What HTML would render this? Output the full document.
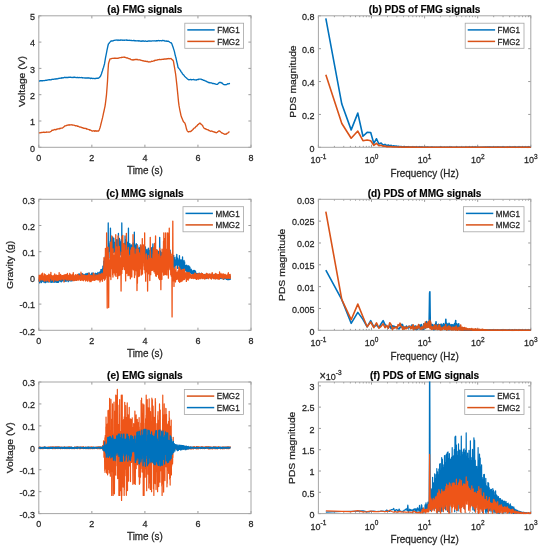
<!DOCTYPE html><html><head><meta charset="utf-8"><style>html,body{margin:0;padding:0;background:#fff;}svg{display:block;font-family:"Liberation Sans", sans-serif;will-change:transform;} text{stroke:#262626;stroke-width:0.25px;} text[font-weight="bold"]{stroke-width:0.2px;}</style></head><body>
<svg width="543" height="550" viewBox="0 0 543 550">
<rect width="543" height="550" fill="#fff"/>
<defs>
<clipPath id="clipa"><rect x="38.3" y="15.3" width="213.2" height="133"/></clipPath>
<clipPath id="clipb"><rect x="317.9" y="15.3" width="213.4" height="133"/></clipPath>
<clipPath id="clipc"><rect x="38.3" y="198.8" width="213.2" height="132.5"/></clipPath>
<clipPath id="clipd"><rect x="317.9" y="198.8" width="213.4" height="132.5"/></clipPath>
<clipPath id="clipe"><rect x="38.3" y="381.5" width="213.2" height="133.1"/></clipPath>
<clipPath id="clipf"><rect x="317.9" y="381.5" width="213.4" height="133.1"/></clipPath>
</defs>
<path d="M38.8 147.3L38.8 144.7M38.8 15.8L38.8 18.4M91.85 147.3L91.85 144.7M91.85 15.8L91.85 18.4M144.9 147.3L144.9 144.7M144.9 15.8L144.9 18.4M197.95 147.3L197.95 144.7M197.95 15.8L197.95 18.4M251 147.3L251 144.7M251 15.8L251 18.4M38.8 147.3L41.4 147.3M251 147.3L248.4 147.3M38.8 121L41.4 121M251 121L248.4 121M38.8 94.7L41.4 94.7M251 94.7L248.4 94.7M38.8 68.4L41.4 68.4M251 68.4L248.4 68.4M38.8 42.1L41.4 42.1M251 42.1L248.4 42.1M38.8 15.8L41.4 15.8M251 15.8L248.4 15.8" stroke="#909090" stroke-width="0.9" fill="none"/>
<rect x="38.8" y="15.8" width="212.2" height="131.5" fill="none" stroke="#a6a6a6" stroke-width="1"/>
<text transform="translate(38.8,160.7) scale(1,1.1)" font-size="9" text-anchor="middle" font-weight="normal" fill="#262626">0</text>
<text transform="translate(91.85,160.7) scale(1,1.1)" font-size="9" text-anchor="middle" font-weight="normal" fill="#262626">2</text>
<text transform="translate(144.9,160.7) scale(1,1.1)" font-size="9" text-anchor="middle" font-weight="normal" fill="#262626">4</text>
<text transform="translate(197.95,160.7) scale(1,1.1)" font-size="9" text-anchor="middle" font-weight="normal" fill="#262626">6</text>
<text transform="translate(251,160.7) scale(1,1.1)" font-size="9" text-anchor="middle" font-weight="normal" fill="#262626">8</text>
<text transform="translate(34.9,151.6) scale(1,1.1)" font-size="9" text-anchor="end" font-weight="normal" fill="#262626">0</text>
<text transform="translate(34.9,125.3) scale(1,1.1)" font-size="9" text-anchor="end" font-weight="normal" fill="#262626">1</text>
<text transform="translate(34.9,99) scale(1,1.1)" font-size="9" text-anchor="end" font-weight="normal" fill="#262626">2</text>
<text transform="translate(34.9,72.7) scale(1,1.1)" font-size="9" text-anchor="end" font-weight="normal" fill="#262626">3</text>
<text transform="translate(34.9,46.4) scale(1,1.1)" font-size="9" text-anchor="end" font-weight="normal" fill="#262626">4</text>
<text transform="translate(34.9,20.1) scale(1,1.1)" font-size="9" text-anchor="end" font-weight="normal" fill="#262626">5</text>
<text transform="translate(144.9,174.1) scale(1,1.06)" font-size="9.9" text-anchor="middle" font-weight="normal" fill="#262626">Time (s)</text>
<text transform="translate(24.6,81.55) scale(1,1.045) rotate(-90)" font-size="9.9" text-anchor="middle" fill="#262626">Voltage (V)</text>
<text transform="translate(144.9,13.2) scale(1,1.06)" font-size="10.1" text-anchor="middle" font-weight="bold" fill="#000">(a) FMG signals</text>
<path d="M318.4 147.3L318.4 144.7M318.4 15.8L318.4 18.4M371.5 147.3L371.5 144.7M371.5 15.8L371.5 18.4M424.6 147.3L424.6 144.7M424.6 15.8L424.6 18.4M477.7 147.3L477.7 144.7M477.7 15.8L477.7 18.4M530.8 147.3L530.8 144.7M530.8 15.8L530.8 18.4M318.4 147.3L321 147.3M530.8 147.3L528.2 147.3M318.4 114.43L321 114.43M530.8 114.43L528.2 114.43M318.4 81.55L321 81.55M530.8 81.55L528.2 81.55M318.4 48.68L321 48.68M530.8 48.68L528.2 48.68M318.4 15.8L321 15.8M530.8 15.8L528.2 15.8M334.38 147.3L334.38 145.9M334.38 15.8L334.38 17.2M343.74 147.3L343.74 145.9M343.74 15.8L343.74 17.2M350.37 147.3L350.37 145.9M350.37 15.8L350.37 17.2M355.52 147.3L355.52 145.9M355.52 15.8L355.52 17.2M359.72 147.3L359.72 145.9M359.72 15.8L359.72 17.2M363.27 147.3L363.27 145.9M363.27 15.8L363.27 17.2M366.35 147.3L366.35 145.9M366.35 15.8L366.35 17.2M369.07 147.3L369.07 145.9M369.07 15.8L369.07 17.2M387.48 147.3L387.48 145.9M387.48 15.8L387.48 17.2M396.84 147.3L396.84 145.9M396.84 15.8L396.84 17.2M403.47 147.3L403.47 145.9M403.47 15.8L403.47 17.2M408.62 147.3L408.62 145.9M408.62 15.8L408.62 17.2M412.82 147.3L412.82 145.9M412.82 15.8L412.82 17.2M416.37 147.3L416.37 145.9M416.37 15.8L416.37 17.2M419.45 147.3L419.45 145.9M419.45 15.8L419.45 17.2M422.17 147.3L422.17 145.9M422.17 15.8L422.17 17.2M440.58 147.3L440.58 145.9M440.58 15.8L440.58 17.2M449.94 147.3L449.94 145.9M449.94 15.8L449.94 17.2M456.57 147.3L456.57 145.9M456.57 15.8L456.57 17.2M461.72 147.3L461.72 145.9M461.72 15.8L461.72 17.2M465.92 147.3L465.92 145.9M465.92 15.8L465.92 17.2M469.47 147.3L469.47 145.9M469.47 15.8L469.47 17.2M472.55 147.3L472.55 145.9M472.55 15.8L472.55 17.2M475.27 147.3L475.27 145.9M475.27 15.8L475.27 17.2M493.68 147.3L493.68 145.9M493.68 15.8L493.68 17.2M503.04 147.3L503.04 145.9M503.04 15.8L503.04 17.2M509.67 147.3L509.67 145.9M509.67 15.8L509.67 17.2M514.82 147.3L514.82 145.9M514.82 15.8L514.82 17.2M519.02 147.3L519.02 145.9M519.02 15.8L519.02 17.2M522.57 147.3L522.57 145.9M522.57 15.8L522.57 17.2M525.65 147.3L525.65 145.9M525.65 15.8L525.65 17.2M528.37 147.3L528.37 145.9M528.37 15.8L528.37 17.2" stroke="#909090" stroke-width="0.9" fill="none"/>
<rect x="318.4" y="15.8" width="212.4" height="131.5" fill="none" stroke="#a6a6a6" stroke-width="1"/>
<text transform="translate(318.4,163.2) scale(1,1.1)" font-size="9" text-anchor="middle" fill="#262626">10<tspan font-size="6.5" dy="-4.1">-1</tspan></text>
<text transform="translate(371.5,163.2) scale(1,1.1)" font-size="9" text-anchor="middle" fill="#262626">10<tspan font-size="6.5" dy="-4.1">0</tspan></text>
<text transform="translate(424.6,163.2) scale(1,1.1)" font-size="9" text-anchor="middle" fill="#262626">10<tspan font-size="6.5" dy="-4.1">1</tspan></text>
<text transform="translate(477.7,163.2) scale(1,1.1)" font-size="9" text-anchor="middle" fill="#262626">10<tspan font-size="6.5" dy="-4.1">2</tspan></text>
<text transform="translate(530.8,163.2) scale(1,1.1)" font-size="9" text-anchor="middle" fill="#262626">10<tspan font-size="6.5" dy="-4.1">3</tspan></text>
<text transform="translate(314.5,151.6) scale(1,1.1)" font-size="9" text-anchor="end" font-weight="normal" fill="#262626">0</text>
<text transform="translate(314.5,118.73) scale(1,1.1)" font-size="9" text-anchor="end" font-weight="normal" fill="#262626">0.2</text>
<text transform="translate(314.5,85.85) scale(1,1.1)" font-size="9" text-anchor="end" font-weight="normal" fill="#262626">0.4</text>
<text transform="translate(314.5,52.98) scale(1,1.1)" font-size="9" text-anchor="end" font-weight="normal" fill="#262626">0.6</text>
<text transform="translate(314.5,20.1) scale(1,1.1)" font-size="9" text-anchor="end" font-weight="normal" fill="#262626">0.8</text>
<text transform="translate(424.6,176.8) scale(1,1.06)" font-size="9.9" text-anchor="middle" font-weight="normal" fill="#262626">Frequency (Hz)</text>
<text transform="translate(295.5,81.55) scale(1,1.045) rotate(-90)" font-size="9.9" text-anchor="middle" fill="#262626">PDS magnitude</text>
<text transform="translate(424.6,13.2) scale(1,1.06)" font-size="10.1" text-anchor="middle" font-weight="bold" fill="#000">(b) PDS of FMG signals</text>
<path d="M38.8 330.3L38.8 327.7M38.8 199.3L38.8 201.9M91.85 330.3L91.85 327.7M91.85 199.3L91.85 201.9M144.9 330.3L144.9 327.7M144.9 199.3L144.9 201.9M197.95 330.3L197.95 327.7M197.95 199.3L197.95 201.9M251 330.3L251 327.7M251 199.3L251 201.9M38.8 330.3L41.4 330.3M251 330.3L248.4 330.3M38.8 304.1L41.4 304.1M251 304.1L248.4 304.1M38.8 277.9L41.4 277.9M251 277.9L248.4 277.9M38.8 251.7L41.4 251.7M251 251.7L248.4 251.7M38.8 225.5L41.4 225.5M251 225.5L248.4 225.5M38.8 199.3L41.4 199.3M251 199.3L248.4 199.3" stroke="#909090" stroke-width="0.9" fill="none"/>
<rect x="38.8" y="199.3" width="212.2" height="131" fill="none" stroke="#a6a6a6" stroke-width="1"/>
<text transform="translate(38.8,343.7) scale(1,1.1)" font-size="9" text-anchor="middle" font-weight="normal" fill="#262626">0</text>
<text transform="translate(91.85,343.7) scale(1,1.1)" font-size="9" text-anchor="middle" font-weight="normal" fill="#262626">2</text>
<text transform="translate(144.9,343.7) scale(1,1.1)" font-size="9" text-anchor="middle" font-weight="normal" fill="#262626">4</text>
<text transform="translate(197.95,343.7) scale(1,1.1)" font-size="9" text-anchor="middle" font-weight="normal" fill="#262626">6</text>
<text transform="translate(251,343.7) scale(1,1.1)" font-size="9" text-anchor="middle" font-weight="normal" fill="#262626">8</text>
<text transform="translate(34.9,334.6) scale(1,1.1)" font-size="9" text-anchor="end" font-weight="normal" fill="#262626">-0.2</text>
<text transform="translate(34.9,308.4) scale(1,1.1)" font-size="9" text-anchor="end" font-weight="normal" fill="#262626">-0.1</text>
<text transform="translate(34.9,282.2) scale(1,1.1)" font-size="9" text-anchor="end" font-weight="normal" fill="#262626">0</text>
<text transform="translate(34.9,256) scale(1,1.1)" font-size="9" text-anchor="end" font-weight="normal" fill="#262626">0.1</text>
<text transform="translate(34.9,229.8) scale(1,1.1)" font-size="9" text-anchor="end" font-weight="normal" fill="#262626">0.2</text>
<text transform="translate(34.9,203.6) scale(1,1.1)" font-size="9" text-anchor="end" font-weight="normal" fill="#262626">0.3</text>
<text transform="translate(144.9,357.1) scale(1,1.06)" font-size="9.9" text-anchor="middle" font-weight="normal" fill="#262626">Time (s)</text>
<text transform="translate(13.4,264.8) scale(1,1.045) rotate(-90)" font-size="9.9" text-anchor="middle" fill="#262626">Gravity (g)</text>
<text transform="translate(144.9,196.7) scale(1,1.06)" font-size="10.1" text-anchor="middle" font-weight="bold" fill="#000">(c) MMG signals</text>
<path d="M38.8 513.6L38.8 511M38.8 382L38.8 384.6M91.85 513.6L91.85 511M91.85 382L91.85 384.6M144.9 513.6L144.9 511M144.9 382L144.9 384.6M197.95 513.6L197.95 511M197.95 382L197.95 384.6M251 513.6L251 511M251 382L251 384.6M38.8 513.6L41.4 513.6M251 513.6L248.4 513.6M38.8 491.67L41.4 491.67M251 491.67L248.4 491.67M38.8 469.73L41.4 469.73M251 469.73L248.4 469.73M38.8 447.8L41.4 447.8M251 447.8L248.4 447.8M38.8 425.87L41.4 425.87M251 425.87L248.4 425.87M38.8 403.93L41.4 403.93M251 403.93L248.4 403.93M38.8 382L41.4 382M251 382L248.4 382" stroke="#909090" stroke-width="0.9" fill="none"/>
<rect x="38.8" y="382" width="212.2" height="131.6" fill="none" stroke="#a6a6a6" stroke-width="1"/>
<text transform="translate(38.8,527) scale(1,1.1)" font-size="9" text-anchor="middle" font-weight="normal" fill="#262626">0</text>
<text transform="translate(91.85,527) scale(1,1.1)" font-size="9" text-anchor="middle" font-weight="normal" fill="#262626">2</text>
<text transform="translate(144.9,527) scale(1,1.1)" font-size="9" text-anchor="middle" font-weight="normal" fill="#262626">4</text>
<text transform="translate(197.95,527) scale(1,1.1)" font-size="9" text-anchor="middle" font-weight="normal" fill="#262626">6</text>
<text transform="translate(251,527) scale(1,1.1)" font-size="9" text-anchor="middle" font-weight="normal" fill="#262626">8</text>
<text transform="translate(34.9,517.9) scale(1,1.1)" font-size="9" text-anchor="end" font-weight="normal" fill="#262626">-0.3</text>
<text transform="translate(34.9,495.97) scale(1,1.1)" font-size="9" text-anchor="end" font-weight="normal" fill="#262626">-0.2</text>
<text transform="translate(34.9,474.03) scale(1,1.1)" font-size="9" text-anchor="end" font-weight="normal" fill="#262626">-0.1</text>
<text transform="translate(34.9,452.1) scale(1,1.1)" font-size="9" text-anchor="end" font-weight="normal" fill="#262626">0</text>
<text transform="translate(34.9,430.17) scale(1,1.1)" font-size="9" text-anchor="end" font-weight="normal" fill="#262626">0.1</text>
<text transform="translate(34.9,408.23) scale(1,1.1)" font-size="9" text-anchor="end" font-weight="normal" fill="#262626">0.2</text>
<text transform="translate(34.9,386.3) scale(1,1.1)" font-size="9" text-anchor="end" font-weight="normal" fill="#262626">0.3</text>
<text transform="translate(144.9,540.4) scale(1,1.06)" font-size="9.9" text-anchor="middle" font-weight="normal" fill="#262626">Time (s)</text>
<text transform="translate(13,447.8) scale(1,1.045) rotate(-90)" font-size="9.9" text-anchor="middle" fill="#262626">Voltage (V)</text>
<text transform="translate(144.9,379.4) scale(1,1.06)" font-size="10.1" text-anchor="middle" font-weight="bold" fill="#000">(e) EMG signals</text>
<path d="M318.4 330.3L318.4 327.7M318.4 199.3L318.4 201.9M371.5 330.3L371.5 327.7M371.5 199.3L371.5 201.9M424.6 330.3L424.6 327.7M424.6 199.3L424.6 201.9M477.7 330.3L477.7 327.7M477.7 199.3L477.7 201.9M530.8 330.3L530.8 327.7M530.8 199.3L530.8 201.9M318.4 330.3L321 330.3M530.8 330.3L528.2 330.3M318.4 308.47L321 308.47M530.8 308.47L528.2 308.47M318.4 286.63L321 286.63M530.8 286.63L528.2 286.63M318.4 264.8L321 264.8M530.8 264.8L528.2 264.8M318.4 242.97L321 242.97M530.8 242.97L528.2 242.97M318.4 221.13L321 221.13M530.8 221.13L528.2 221.13M318.4 199.3L321 199.3M530.8 199.3L528.2 199.3M334.38 330.3L334.38 328.9M334.38 199.3L334.38 200.7M343.74 330.3L343.74 328.9M343.74 199.3L343.74 200.7M350.37 330.3L350.37 328.9M350.37 199.3L350.37 200.7M355.52 330.3L355.52 328.9M355.52 199.3L355.52 200.7M359.72 330.3L359.72 328.9M359.72 199.3L359.72 200.7M363.27 330.3L363.27 328.9M363.27 199.3L363.27 200.7M366.35 330.3L366.35 328.9M366.35 199.3L366.35 200.7M369.07 330.3L369.07 328.9M369.07 199.3L369.07 200.7M387.48 330.3L387.48 328.9M387.48 199.3L387.48 200.7M396.84 330.3L396.84 328.9M396.84 199.3L396.84 200.7M403.47 330.3L403.47 328.9M403.47 199.3L403.47 200.7M408.62 330.3L408.62 328.9M408.62 199.3L408.62 200.7M412.82 330.3L412.82 328.9M412.82 199.3L412.82 200.7M416.37 330.3L416.37 328.9M416.37 199.3L416.37 200.7M419.45 330.3L419.45 328.9M419.45 199.3L419.45 200.7M422.17 330.3L422.17 328.9M422.17 199.3L422.17 200.7M440.58 330.3L440.58 328.9M440.58 199.3L440.58 200.7M449.94 330.3L449.94 328.9M449.94 199.3L449.94 200.7M456.57 330.3L456.57 328.9M456.57 199.3L456.57 200.7M461.72 330.3L461.72 328.9M461.72 199.3L461.72 200.7M465.92 330.3L465.92 328.9M465.92 199.3L465.92 200.7M469.47 330.3L469.47 328.9M469.47 199.3L469.47 200.7M472.55 330.3L472.55 328.9M472.55 199.3L472.55 200.7M475.27 330.3L475.27 328.9M475.27 199.3L475.27 200.7M493.68 330.3L493.68 328.9M493.68 199.3L493.68 200.7M503.04 330.3L503.04 328.9M503.04 199.3L503.04 200.7M509.67 330.3L509.67 328.9M509.67 199.3L509.67 200.7M514.82 330.3L514.82 328.9M514.82 199.3L514.82 200.7M519.02 330.3L519.02 328.9M519.02 199.3L519.02 200.7M522.57 330.3L522.57 328.9M522.57 199.3L522.57 200.7M525.65 330.3L525.65 328.9M525.65 199.3L525.65 200.7M528.37 330.3L528.37 328.9M528.37 199.3L528.37 200.7" stroke="#909090" stroke-width="0.9" fill="none"/>
<rect x="318.4" y="199.3" width="212.4" height="131" fill="none" stroke="#a6a6a6" stroke-width="1"/>
<text transform="translate(318.4,346.2) scale(1,1.1)" font-size="9" text-anchor="middle" fill="#262626">10<tspan font-size="6.5" dy="-4.1">-1</tspan></text>
<text transform="translate(371.5,346.2) scale(1,1.1)" font-size="9" text-anchor="middle" fill="#262626">10<tspan font-size="6.5" dy="-4.1">0</tspan></text>
<text transform="translate(424.6,346.2) scale(1,1.1)" font-size="9" text-anchor="middle" fill="#262626">10<tspan font-size="6.5" dy="-4.1">1</tspan></text>
<text transform="translate(477.7,346.2) scale(1,1.1)" font-size="9" text-anchor="middle" fill="#262626">10<tspan font-size="6.5" dy="-4.1">2</tspan></text>
<text transform="translate(530.8,346.2) scale(1,1.1)" font-size="9" text-anchor="middle" fill="#262626">10<tspan font-size="6.5" dy="-4.1">3</tspan></text>
<text transform="translate(314.5,334.6) scale(1,1.1)" font-size="9" text-anchor="end" font-weight="normal" fill="#262626">0</text>
<text transform="translate(314.5,312.77) scale(1,1.1)" font-size="9" text-anchor="end" font-weight="normal" fill="#262626">0.005</text>
<text transform="translate(314.5,290.93) scale(1,1.1)" font-size="9" text-anchor="end" font-weight="normal" fill="#262626">0.01</text>
<text transform="translate(314.5,269.1) scale(1,1.1)" font-size="9" text-anchor="end" font-weight="normal" fill="#262626">0.015</text>
<text transform="translate(314.5,247.27) scale(1,1.1)" font-size="9" text-anchor="end" font-weight="normal" fill="#262626">0.02</text>
<text transform="translate(314.5,225.43) scale(1,1.1)" font-size="9" text-anchor="end" font-weight="normal" fill="#262626">0.025</text>
<text transform="translate(314.5,203.6) scale(1,1.1)" font-size="9" text-anchor="end" font-weight="normal" fill="#262626">0.03</text>
<text transform="translate(424.6,359.8) scale(1,1.06)" font-size="9.9" text-anchor="middle" font-weight="normal" fill="#262626">Frequency (Hz)</text>
<text transform="translate(285.4,264.8) scale(1,1.045) rotate(-90)" font-size="9.9" text-anchor="middle" fill="#262626">PDS magnitude</text>
<text transform="translate(424.6,196.7) scale(1,1.06)" font-size="10.1" text-anchor="middle" font-weight="bold" fill="#000">(d) PDS of MMG signals</text>
<path d="M318.4 513.6L318.4 511M318.4 382L318.4 384.6M371.5 513.6L371.5 511M371.5 382L371.5 384.6M424.6 513.6L424.6 511M424.6 382L424.6 384.6M477.7 513.6L477.7 511M477.7 382L477.7 384.6M530.8 513.6L530.8 511M530.8 382L530.8 384.6M318.4 513.6L321 513.6M530.8 513.6L528.2 513.6M318.4 492.31L321 492.31M530.8 492.31L528.2 492.31M318.4 471.01L321 471.01M530.8 471.01L528.2 471.01M318.4 449.72L321 449.72M530.8 449.72L528.2 449.72M318.4 428.42L321 428.42M530.8 428.42L528.2 428.42M318.4 407.13L321 407.13M530.8 407.13L528.2 407.13M318.4 385.83L321 385.83M530.8 385.83L528.2 385.83M334.38 513.6L334.38 512.2M334.38 382L334.38 383.4M343.74 513.6L343.74 512.2M343.74 382L343.74 383.4M350.37 513.6L350.37 512.2M350.37 382L350.37 383.4M355.52 513.6L355.52 512.2M355.52 382L355.52 383.4M359.72 513.6L359.72 512.2M359.72 382L359.72 383.4M363.27 513.6L363.27 512.2M363.27 382L363.27 383.4M366.35 513.6L366.35 512.2M366.35 382L366.35 383.4M369.07 513.6L369.07 512.2M369.07 382L369.07 383.4M387.48 513.6L387.48 512.2M387.48 382L387.48 383.4M396.84 513.6L396.84 512.2M396.84 382L396.84 383.4M403.47 513.6L403.47 512.2M403.47 382L403.47 383.4M408.62 513.6L408.62 512.2M408.62 382L408.62 383.4M412.82 513.6L412.82 512.2M412.82 382L412.82 383.4M416.37 513.6L416.37 512.2M416.37 382L416.37 383.4M419.45 513.6L419.45 512.2M419.45 382L419.45 383.4M422.17 513.6L422.17 512.2M422.17 382L422.17 383.4M440.58 513.6L440.58 512.2M440.58 382L440.58 383.4M449.94 513.6L449.94 512.2M449.94 382L449.94 383.4M456.57 513.6L456.57 512.2M456.57 382L456.57 383.4M461.72 513.6L461.72 512.2M461.72 382L461.72 383.4M465.92 513.6L465.92 512.2M465.92 382L465.92 383.4M469.47 513.6L469.47 512.2M469.47 382L469.47 383.4M472.55 513.6L472.55 512.2M472.55 382L472.55 383.4M475.27 513.6L475.27 512.2M475.27 382L475.27 383.4M493.68 513.6L493.68 512.2M493.68 382L493.68 383.4M503.04 513.6L503.04 512.2M503.04 382L503.04 383.4M509.67 513.6L509.67 512.2M509.67 382L509.67 383.4M514.82 513.6L514.82 512.2M514.82 382L514.82 383.4M519.02 513.6L519.02 512.2M519.02 382L519.02 383.4M522.57 513.6L522.57 512.2M522.57 382L522.57 383.4M525.65 513.6L525.65 512.2M525.65 382L525.65 383.4M528.37 513.6L528.37 512.2M528.37 382L528.37 383.4" stroke="#909090" stroke-width="0.9" fill="none"/>
<rect x="318.4" y="382" width="212.4" height="131.6" fill="none" stroke="#a6a6a6" stroke-width="1"/>
<text transform="translate(318.4,529.5) scale(1,1.1)" font-size="9" text-anchor="middle" fill="#262626">10<tspan font-size="6.5" dy="-4.1">-1</tspan></text>
<text transform="translate(371.5,529.5) scale(1,1.1)" font-size="9" text-anchor="middle" fill="#262626">10<tspan font-size="6.5" dy="-4.1">0</tspan></text>
<text transform="translate(424.6,529.5) scale(1,1.1)" font-size="9" text-anchor="middle" fill="#262626">10<tspan font-size="6.5" dy="-4.1">1</tspan></text>
<text transform="translate(477.7,529.5) scale(1,1.1)" font-size="9" text-anchor="middle" fill="#262626">10<tspan font-size="6.5" dy="-4.1">2</tspan></text>
<text transform="translate(530.8,529.5) scale(1,1.1)" font-size="9" text-anchor="middle" fill="#262626">10<tspan font-size="6.5" dy="-4.1">3</tspan></text>
<text transform="translate(314.5,517.9) scale(1,1.1)" font-size="9" text-anchor="end" font-weight="normal" fill="#262626">0</text>
<text transform="translate(314.5,496.61) scale(1,1.1)" font-size="9" text-anchor="end" font-weight="normal" fill="#262626">0.5</text>
<text transform="translate(314.5,475.31) scale(1,1.1)" font-size="9" text-anchor="end" font-weight="normal" fill="#262626">1</text>
<text transform="translate(314.5,454.02) scale(1,1.1)" font-size="9" text-anchor="end" font-weight="normal" fill="#262626">1.5</text>
<text transform="translate(314.5,432.72) scale(1,1.1)" font-size="9" text-anchor="end" font-weight="normal" fill="#262626">2</text>
<text transform="translate(314.5,411.43) scale(1,1.1)" font-size="9" text-anchor="end" font-weight="normal" fill="#262626">2.5</text>
<text transform="translate(314.5,390.13) scale(1,1.1)" font-size="9" text-anchor="end" font-weight="normal" fill="#262626">3</text>
<text transform="translate(424.6,543.1) scale(1,1.06)" font-size="9.9" text-anchor="middle" font-weight="normal" fill="#262626">Frequency (Hz)</text>
<text transform="translate(295.1,447.8) scale(1,1.045) rotate(-90)" font-size="9.9" text-anchor="middle" fill="#262626">PDS magnitude</text>
<text transform="translate(424.6,379.4) scale(1,1.06)" font-size="10.1" text-anchor="middle" font-weight="bold" fill="#000">(f) PDS of EMG signals</text>
<text transform="translate(319.4,379.9) scale(1,1.1)" font-size="9" fill="#262626"><tspan font-size="11">&#215;</tspan>10<tspan font-size="6.5" dy="-4.1">-3</tspan></text>
<polyline points="39,81 39.5,81 40,80.88 40.5,80.75 41,80.77 41.5,80.65 42,80.77 42.5,80.92 43,80.61 43.5,80.55 44,80.67 44.5,80.6 45,80.5 45.5,80.29 46,80.36 46.5,80.41 47,80.05 47.5,80.12 48,79.85 48.5,79.88 49,79.74 49.5,79.92 50,79.71 50.5,79.87 51,79.77 51.5,79.65 52,79.22 52.5,79.44 53,79.44 53.5,79.39 54,79.07 54.5,79.15 55,79 55.5,78.95 56,79.16 56.5,78.79 57,78.81 57.5,78.85 58,78.54 58.5,78.51 59,78.45 59.5,78.35 60,78.07 60.5,78.17 61,78.27 61.5,77.74 62,78 62.5,77.8 63,77.59 63.5,77.89 64,77.61 64.5,77.3 65,77.48 65.5,77.54 66,77.41 66.5,77.52 67,77.39 67.5,77.48 68,77.58 68.5,77.25 69,77.36 69.5,77.25 70,77.32 70.5,77.14 71,77.24 71.5,77.32 72,77.49 72.5,77.55 73,77.19 73.5,77.29 74,77.52 74.5,77.14 75,77.38 75.5,77.45 76,77.67 76.5,77.6 77,77.46 77.5,77.47 78,77.5 78.5,77.78 79,77.51 79.5,77.54 80,77.65 80.5,77.61 81,77.63 81.5,77.52 82,77.72 82.5,77.68 83,77.95 83.5,77.91 84,77.84 84.5,77.97 85,77.85 85.5,78.09 86,77.96 86.5,78.08 87,77.83 87.5,78.1 88,77.83 88.5,77.8 89,78.09 89.5,78.04 90,78.22 90.5,78.58 91,78.16 91.5,78.23 92,78.39 92.5,78.47 93,78.41 93.5,78.45 94,78.63 94.5,78.64 95,78.44 95.5,78.53 96,78.49 96.5,78.27 97,78.41 97.5,78.19 98,78.4 98.5,78.23 99,77.79 99.5,77.26 100,76.91 100.5,76.2 101,74.93 101.5,73.75 102,71.98 102.5,70.78 103,68.75 103.5,67.48 104,65.59 104.5,63.94 105,60.98 105.5,57.86 106,55.41 106.5,52.78 107,50.2 107.5,47.82 108,45.49 108.5,43.72 109,43.45 109.5,42.62 110,42.11 110.5,41.41 111,41.14 111.5,40.92 112,41.18 112.5,40.86 113,40.91 113.5,40.65 114,40.42 114.5,40.36 115,40.21 115.5,40.2 116,40.14 116.5,40.16 117,39.99 117.5,40.08 118,40.45 118.5,40.1 119,40.04 119.5,40.25 120,40.41 120.5,39.98 121,40.17 121.5,40.11 122,39.94 122.5,40.31 123,40.2 123.5,40.21 124,40.09 124.5,40.27 125,40.12 125.5,40.18 126,40.03 126.5,40.03 127,40.44 127.5,40.19 128,40.33 128.5,40.31 129,40.27 129.5,40.29 130,40.48 130.5,40.37 131,40.42 131.5,40.47 132,40.67 132.5,40.62 133,40.6 133.5,40.48 134,40.39 134.5,40.76 135,40.79 135.5,40.66 136,40.79 136.5,40.85 137,40.89 137.5,40.93 138,40.75 138.5,41.07 139,40.69 139.5,41.03 140,41 140.5,41.09 141,41.27 141.5,41.23 142,40.87 142.5,40.81 143,41.22 143.5,40.97 144,41.15 144.5,41.3 145,40.96 145.5,40.92 146,41.3 146.5,41.3 147,41.25 147.5,41.27 148,41.11 148.5,40.98 149,41.16 149.5,41.01 150,40.89 150.5,41.19 151,41.08 151.5,41.12 152,40.89 152.5,40.91 153,40.84 153.5,40.83 154,40.96 154.5,40.79 155,40.94 155.5,40.91 156,41.14 156.5,40.6 157,40.92 157.5,40.75 158,40.73 158.5,40.49 159,40.62 159.5,40.77 160,40.62 160.5,40.62 161,40.58 161.5,40.84 162,40.71 162.5,40.43 163,40.7 163.5,40.55 164,40.4 164.5,40.86 165,41.18 165.5,41.03 166,40.89 166.5,40.97 167,41.33 167.5,41.23 168,41.25 168.5,41.28 169,41.56 169.5,42 170,42.29 170.5,42.56 171,42.69 171.5,43.25 172,44.08 172.5,45.83 173,46.96 173.5,48.6 174,50.1 174.5,51.82 175,54.3 175.5,56.28 176,58.01 176.5,60.29 177,62.61 177.5,64.53 178,67.34 178.5,67.95 179,68.63 179.5,69.12 180,69.9 180.5,70.63 181,71.59 181.5,72.22 182,72.93 182.5,73.92 183,74.36 183.5,74.94 184,75.23 184.5,76.24 185,76.64 185.5,77.14 186,77.6 186.5,78.02 187,78.51 187.5,78.91 188,79.38 188.5,79.61 189,79.83 189.5,79.68 190,79.59 190.5,79.51 191,79.5 191.5,79.84 192,79.68 192.5,79.61 193,79.55 193.5,79.47 194,79.71 194.5,79.94 195,79.83 195.5,79.95 196,80.03 196.5,80.02 197,79.59 197.5,79.63 198,79.37 198.5,79.47 199,79.05 199.5,79.09 200,79.19 200.5,79.08 201,79.2 201.5,79.48 202,79.61 202.5,79.63 203,80.01 203.5,80.4 204,80.29 204.5,80.53 205,80.64 205.5,81.08 206,81.08 206.5,81.33 207,81.92 207.5,81.82 208,82.31 208.5,82.51 209,82.44 209.5,82.62 210,82.95 210.5,82.76 211,82.82 211.5,82.84 212,83.17 212.5,83.52 213,83.57 213.5,83.41 214,83.55 214.5,83.72 215,83.97 215.5,84.02 216,84.21 216.5,84.34 217,84.38 217.5,84.28 218,83.77 218.5,83.18 219,82.72 219.5,82.38 220,82.39 220.5,82.52 221,82.46 221.5,82.98 222,82.91 222.5,83.34 223,84.02 223.5,84.35 224,84.56 224.5,84.67 225,84.81 225.5,84.59 226,84.61 226.5,84.68 227,84.2 227.5,83.88 228,83.74 228.5,83.83 229,83.73 229.5,83.51 230,83.62" fill="none" stroke="#0072BD" stroke-width="1.35" stroke-linejoin="round" clip-path="url(#clipa)"/>
<polyline points="39,132.53 39.5,132.84 40,132.8 40.5,132.77 41,132.5 41.5,132.62 42,132.49 42.5,132.42 43,132.4 43.5,132.22 44,132.17 44.5,132.47 45,132.29 45.5,132.32 46,132.41 46.5,131.97 47,132.08 47.5,132.19 48,132.19 48.5,132.04 49,132.22 49.5,132.07 50,131.82 50.5,131.53 51,131.38 51.5,130.91 52,130.15 52.5,130.28 53,130.07 53.5,130.08 54,129.72 54.5,129.64 55,129.41 55.5,129.86 56,129.35 56.5,129.52 57,129.08 57.5,129.09 58,128.71 58.5,128.8 59,128.9 59.5,128.46 60,128.71 60.5,128.49 61,128.18 61.5,128.16 62,128.06 62.5,128.01 63,127.59 63.5,127.13 64,126.79 64.5,126.26 65,125.81 65.5,125.85 66,125.85 66.5,125.35 67,125.44 67.5,125.2 68,125.01 68.5,125.14 69,124.82 69.5,125.12 70,124.78 70.5,124.96 71,124.87 71.5,124.79 72,124.99 72.5,124.88 73,125.05 73.5,125.09 74,125.08 74.5,125.36 75,125.53 75.5,125.81 76,125.67 76.5,125.94 77,125.84 77.5,126.35 78,126.25 78.5,126.3 79,126.72 79.5,127.05 80,126.82 80.5,127.04 81,127.25 81.5,127.35 82,127.74 82.5,127.72 83,127.89 83.5,128.22 84,128.14 84.5,128.45 85,128.37 85.5,128.46 86,128.5 86.5,129.18 87,128.98 87.5,129.2 88,129.29 88.5,129.44 89,129.56 89.5,130.05 90,129.88 90.5,130.07 91,130.42 91.5,130.65 92,131.03 92.5,131.06 93,130.82 93.5,130.77 94,130.95 94.5,131.23 95,130.62 95.5,131.15 96,130.93 96.5,131.27 97,130.97 97.5,131.11 98,130.95 98.5,131.05 99,130.43 99.5,129.13 100,127.73 100.5,125.94 101,123.75 101.5,121.93 102,119.94 102.5,117.89 103,115.59 103.5,113.15 104,111.02 104.5,108.73 105,106.37 105.5,102.82 106,98.89 106.5,94.55 107,87.99 107.5,81.24 108,70.97 108.5,63.72 109,61.88 109.5,60.44 110,58.96 110.5,58.91 111,58.75 111.5,58.56 112,58.43 112.5,58.43 113,58.28 113.5,58.3 114,58.22 114.5,58.06 115,58.33 115.5,58.16 116,58.32 116.5,58.42 117,58.16 117.5,58.36 118,58.25 118.5,58.08 119,57.91 119.5,57.81 120,57.63 120.5,57.66 121,57.53 121.5,57.54 122,57.26 122.5,57.39 123,57.29 123.5,57.16 124,57.03 124.5,57.32 125,57.13 125.5,57.59 126,57.7 126.5,57.85 127,58 127.5,57.99 128,58.2 128.5,58.53 129,58.69 129.5,58.84 130,58.78 130.5,59.28 131,59.56 131.5,59.73 132,59.81 132.5,59.73 133,60.09 133.5,59.86 134,59.44 134.5,59.81 135,59.47 135.5,59.44 136,59.47 136.5,59.69 137,59.38 137.5,59.49 138,59.83 138.5,59.92 139,59.78 139.5,59.88 140,59.84 140.5,60.04 141,60.33 141.5,60.44 142,60.52 142.5,60.75 143,60.59 143.5,60.8 144,61.02 144.5,61.1 145,61.28 145.5,61.28 146,61.27 146.5,61.48 147,61.38 147.5,61.38 148,61.82 148.5,61.83 149,61.98 149.5,61.78 150,61.98 150.5,61.79 151,61.6 151.5,61.24 152,61.37 152.5,61.4 153,61.17 153.5,60.87 154,60.81 154.5,60.77 155,60.09 155.5,60.33 156,60.27 156.5,60.14 157,60.14 157.5,59.9 158,59.71 158.5,59.66 159,59.69 159.5,59.45 160,59.48 160.5,59.58 161,59.69 161.5,59.33 162,59.3 162.5,59.29 163,59.42 163.5,59.17 164,59.35 164.5,58.94 165,59.01 165.5,58.96 166,59.06 166.5,59.06 167,58.63 167.5,58.67 168,58.81 168.5,58.62 169,58.44 169.5,58.78 170,58.66 170.5,58.61 171,58.51 171.5,59.15 172,59.38 172.5,60 173,60.11 173.5,61.53 174,64.58 174.5,67.33 175,70.43 175.5,73.26 176,77.26 176.5,81.91 177,86.35 177.5,91.32 178,96.31 178.5,101.55 179,105.46 179.5,108.25 180,110.85 180.5,113.2 181,115.6 181.5,117.11 182,118.18 182.5,119.37 183,120.85 183.5,121.7 184,122.16 184.5,122.7 185,123.39 185.5,124.94 186,126.84 186.5,129.04 187,130.35 187.5,131.11 188,131.67 188.5,132 189,131.67 189.5,131.63 190,131.41 190.5,131.61 191,131.32 191.5,130.8 192,130.37 192.5,129.9 193,129.55 193.5,128.72 194,128.31 194.5,127.92 195,127.87 195.5,127.14 196,126.51 196.5,126.15 197,125.88 197.5,125.06 198,124.56 198.5,124.32 199,123.74 199.5,123.29 200,123 200.5,123.79 201,124.19 201.5,124.45 202,124.9 202.5,125.31 203,126.53 203.5,127.23 204,128.14 204.5,128.63 205,128.69 205.5,128.71 206,129.23 206.5,129.28 207,129.56 207.5,129.73 208,129.99 208.5,129.91 209,130.65 209.5,130.7 210,130.98 210.5,131.26 211,131.12 211.5,130.99 212,131.28 212.5,131.38 213,131.64 213.5,131.88 214,131.72 214.5,132.22 215,132.09 215.5,132.51 216,132.6 216.5,132.72 217,132.49 217.5,132.04 218,131.65 218.5,131.11 219,130.97 219.5,130.88 220,131.4 220.5,131.8 221,132.21 221.5,132.5 222,133.16 222.5,133.17 223,133.4 223.5,133.61 224,133.9 224.5,134.06 225,134.35 225.5,134.21 226,133.98 226.5,134.05 227,133.37 227.5,133.01 228,132.8 228.5,132.5 229,131.89 229.5,131.7" fill="none" stroke="#D95319" stroke-width="1.35" stroke-linejoin="round" clip-path="url(#clipa)"/>
<polyline points="325.83,18.43 341.81,104.07 351.16,129.88 357.8,113.11 362.94,136.29 367.15,132.34 370.7,132.51 373.78,143.36 376.5,138.75 378.93,144.01 381.13,143.03 383.13,145.33 384.98,144.34 386.69,145.66 388.28,145 389.77,145.99 391.16,145.33 392.48,146.31 393.73,145.82 394.91,146.48 396.04,145.99 397.11,146.64 398.14,146.31 399.12,146.81 400.06,146.48 400.96,146.81 401.83,146.64 402.67,146.97 403.48,146.69 404.26,146.61 405.02,146.76 405.75,147.15 406.46,146.71 407.15,146.83 407.82,147.03 408.47,146.85 409.1,146.91 409.71,146.94 410.31,146.99 410.9,146.93 411.47,147.12 412.02,147.05 412.56,147.1 413.09,146.98 413.61,147.06 414.12,147.1 414.62,147.16 415.1,147.11 415.58,147.09 416.04,147.12 416.5,146.97 416.95,147.01 417.39,147.3 417.82,147.29 418.24,147.14 418.66,147.16 419.06,147.11 419.47,147.12 419.86,146.97 420.25,147.23 420.63,147.17 421,146.99 421.37,147.1 421.74,147.11 422.09,147.19 422.45,147.28 422.79,147.15 423.13,147.16 423.47,147.25 423.8,147.21 424.13,147.18 424.45,147.23 424.77,147.18 425.08,147.17 425.39,147.18 425.7,147.21 426,147.15 426.3,147.13 426.59,147.17 426.88,147.23 427.17,147.15 427.45,147.22 427.73,147.14 428.01,147.25 428.28,147.14 428.55,147.19 428.82,147.26 429.08,147.21 429.34,147.19 429.6,147.18 429.85,147.25 430.1,147.25 430.35,147.19 431.09,147.16 431.33,147.28 431.8,147.14 432.03,147.22 432.26,147.24 432.48,147.17 432.93,147.16 433.37,147.28 433.8,147.23 434.01,147.17 434.23,147.2 434.43,147.28 434.85,147.17 435.25,147.24 435.45,147.21 435.84,147.19 436.04,147.18 436.42,147.22 436.8,147.17 436.99,147.3 437.36,147.21 437.54,147.28 437.9,147.24 438.08,147.18 438.25,147.22 438.6,147.17 438.78,147.2 439.12,147.28 439.29,147.15 439.62,147.25 439.95,147.23 440.11,147.19 440.91,147.26 441.07,147.2 441.22,147.16 441.53,147.3 441.83,147.12 442.13,147.27 442.43,147.26 442.87,147.2 443.15,147.21 443.44,147.26 443.85,147.22 443.99,147.27 444.13,147.27 444.26,147.17 444.67,147.21 444.8,147.24 445.32,147.27 445.45,147.2 445.71,147.27 446.09,147.17 446.46,147.3 446.71,147.19 446.95,147.25 447.19,147.2 447.43,147.16 447.66,147.25 448.36,147.29 448.47,147.2 448.69,147.27 448.92,147.18 449.36,147.13 449.57,147.27 449.89,147.28 450,147.22 450.21,147.19 450.42,147.3 451.03,147.27 451.13,147.16 451.24,147.16 451.73,147.27 451.83,147.16 451.93,147.26 452.5,147.23 452.6,147.27 453.16,147.2 453.43,147.25 453.61,147.27 453.71,147.21 454.24,147.3 454.33,147.22 454.59,147.2 454.76,147.27 455.1,147.29 455.19,147.17 455.94,147.26 456.02,147.21 456.58,147.21 456.66,147.29 456.9,147.28 457.13,147.2 457.44,147.3 457.52,147.13 457.89,147.29 458.04,147.2 458.41,147.22 458.63,147.28 459.21,147.26 459.35,147.17 459.7,147.26 459.91,147.18 460.25,147.18 460.38,147.26 460.72,147.29 460.79,147.19 461.18,147.27 461.5,147.19 461.95,147.18 462.01,147.3 462.26,147.28 462.45,147.21 462.69,147.2 462.81,147.29 463.18,147.27 463.65,147.19 463.94,147.16 464,147.29 464.23,147.27 464.57,147.18 464.73,147.26 464.9,147.19 465.34,147.29 465.77,147.17 466.04,147.19 466.14,147.3 466.35,147.27 466.4,147.2 467.02,147.25 467.27,147.18 467.62,147.27 467.81,147.19 468.11,147.16 468.35,147.26 468.49,147.17 468.82,147.25 469.23,147.28 469.33,147.21 469.73,147.15 469.96,147.26 470.31,147.3 470.49,147.16 470.53,147.28 470.96,147.18 471.38,147.29 471.47,147.16 471.67,147.3 472,147.17 472.49,147.19 472.53,147.27 472.64,147.28 472.72,147.19 473.35,147.17 473.5,147.3 473.77,147.2 473.95,147.3 474.4,147.29 474.51,147.17 474.8,147.16 474.84,147.28 475.41,147.14 475.58,147.3 475.96,147.2 476.06,147.29 476.47,147.2 476.5,147.3 476.74,147.17 476.87,147.3 477.29,147.18 477.49,147.3 477.9,147.3 478.12,147.17 478.34,147.27 478.49,147.18 479.04,147.29 479.25,147.19 479.43,147.19 479.57,147.28 479.87,147.18 480.15,147.3 480.64,147.18 480.72,147.29 480.86,147.3 481.05,147.18 481.7,147.19 481.76,147.29 482.13,147.3 482.36,147.18 482.41,147.11 482.7,147.28 483.15,147.16 483.35,147.3 483.55,147.29 483.7,147.18 484.04,147.17 484.38,147.29 484.64,147.3 484.8,147.17 485.15,147.28 485.29,147.16 485.54,147.16 485.7,147.3 486.08,147.3 486.23,147.15 486.49,147.17 486.69,147.3 487.14,147.29 487.2,147.17 487.64,147.17 487.8,147.29 488.03,147.26 488.13,147.17 489,147.16 489.02,147.29 489.1,147.3 489.5,147.15 489.56,147.3 489.62,147.17 490.42,147.16 490.51,147.29 490.77,147.3 490.91,147.17 491.23,147.15 491.42,147.3 491.6,147.3 491.95,147.17 492.08,147.3 492.37,147.18 492.87,147.16 492.89,147.3 493.21,147.3 493.49,147.13 493.79,147.18 493.95,147.3 494.22,147.3 494.25,147.16 494.83,147.3 494.96,147.14 495.2,147.18 495.34,147.28 495.87,147.14 495.97,147.3 496.31,147.15 496.47,147.3 496.91,147.29 497.06,147.15 497.54,147.17 497.61,147.3 497.77,147.3 497.82,147.15 498.33,147.17 498.54,147.29 498.81,147.15 498.95,147.27 499.34,147.15 499.59,147.3 499.83,147.16 500.16,147.28 500.23,147.17 500.45,147.3 500.83,147.14 501.18,147.28 501.54,147.29 501.64,147.13 502.02,147.17 502.22,147.3 502.61,147.3 502.64,147.15 503.01,147.29 503.17,147.17 503.32,147.16 503.69,147.3 503.88,147.15 503.9,147.3 504.3,147.17 504.37,147.3 504.81,147.17 505.19,147.29 505.35,147.18 505.57,147.3 505.9,147.18 506.08,147.3 506.4,147.29 506.79,147.16 506.81,147.3 506.88,147.17 507.42,147.16 507.47,147.3 507.83,147.16 507.85,147.3 508.37,147.17 508.51,147.3 508.87,147.19 509.04,147.3 509.42,147.17 509.55,147.3 510.04,147.16 510.15,147.29 510.44,147.3 510.49,147.13 511.08,147.16 511.19,147.3 511.43,147.3 511.57,147.15 511.95,147.3 512.29,147.15 512.65,147.3 512.75,147.11 513.29,147.13 513.32,147.3 513.61,147.3 513.73,147.15 513.85,147.3 514.18,147.12 514.38,147.3 514.56,147.18 515.16,147.13 515.34,147.3 515.36,147.16 515.36,147.3 516.02,147.3 516.29,147.15 516.42,147.17 516.43,147.3 516.87,147.3 517.27,147.15 517.67,147.29 517.8,147.15 518.23,147.3 518.29,147.15 518.6,147.3 518.67,147.14 519.09,147.16 519.19,147.3 519.58,147.3 519.65,147.15 520.05,147.13 520.25,147.3 520.51,147.3 520.64,147.14 520.96,147.14 520.99,147.3 521.44,147.3 521.88,147.15 521.97,147.1 522.03,147.3 522.44,147.16 522.48,147.3 522.95,147.16 523.12,147.3 523.39,147.3 523.63,147.13 524.02,147.3 524.39,147.16 524.53,147.3 524.81,147.14 524.91,147.3 525.01,147.17 525.5,147.3 525.71,147.17 525.93,147.13 526,147.3 526.48,147.3 526.78,147.14 527.11,147.3 527.39,147.15 527.47,147.3 527.71,147.13 528.01,147.14 528.1,147.3 528.48,147.3 528.48,147.16 528.95,147.15 529.28,147.3 529.69,147.3 529.69,147.16 529.97,147.3 530.15,147.14 530.46,147.3 530.75,147.12" fill="none" stroke="#0072BD" stroke-width="1.6" stroke-linejoin="round" clip-path="url(#clipb)"/>
<polyline points="325.83,74.65 341.81,123.47 351.16,138.26 357.8,131.03 362.94,140.73 367.15,140.07 370.7,140.73 373.78,145.33 376.5,143.36 378.93,145.66 381.13,145.33 383.13,146.31 384.98,145.99 386.69,146.64 388.28,146.48 389.77,146.81 391.16,146.64 392.48,146.97 393.73,146.81 394.91,146.97 396.04,146.92 397.11,147.07 398.14,147.07 399.12,147.3 400.06,146.82 400.96,146.93 401.83,147.12 402.67,147.01 403.48,147.08 404.26,147.17 405.02,147.04 405.75,147.16 406.46,147.17 407.15,147.21 407.82,147.12 408.47,147.17 409.1,147.13 409.71,147.21 410.31,147.17 410.9,147.23 411.47,147.13 412.02,147.18 412.56,147.17 413.09,147.17 413.61,147.25 414.12,147.16 414.62,147.1 415.1,147.28 415.58,147.29 416.04,147.28 416.5,147.17 416.95,147.2 417.39,147.16 417.82,147.18 418.24,147.21 418.66,147.2 419.06,147.22 419.47,147.18 419.86,147.27 420.25,147.24 420.63,147.21 421,147.15 421.37,147.25 421.74,147.27 422.09,147.25 422.45,147.19 422.79,147.24 423.13,147.18 423.47,147.3 423.8,147.19 424.13,147.19 424.45,147.28 424.77,147.23 425.08,147.19 425.39,147.23 425.7,147.2 426,147.16 426.3,147.23 426.59,147.24 426.88,147.26 427.17,147.21 427.45,147.24 427.73,147.24 428.01,147.24 428.28,147.22 428.55,147.27 428.82,147.29 429.08,147.3 429.34,147.2 429.6,147.24 429.85,147.19 430.35,147.26 430.6,147.23 430.84,147.24 431.09,147.28 431.56,147.19 431.8,147.23 432.48,147.26 432.71,147.22 432.93,147.24 433.15,147.26 433.59,147.27 434.01,147.21 434.23,147.27 434.43,147.2 434.85,147.24 435.05,147.27 435.45,147.24 435.84,147.26 436.04,147.26 436.42,147.29 436.61,147.25 436.99,147.22 437.36,147.18 437.54,147.24 437.9,147.19 438.08,147.27 438.25,147.22 438.43,147.27 438.78,147.3 438.95,147.22 439.29,147.27 439.46,147.2 439.95,147.27 440.44,147.23 440.6,147.23 440.75,147.26 441.22,147.28 441.68,147.23 441.83,147.21 441.98,147.27 442.43,147.19 442.87,147.27 443.01,147.27 443.44,147.24 443.58,147.29 443.99,147.2 444.26,147.22 444.4,147.28 444.67,147.27 444.93,147.25 445.32,147.23 445.58,147.25 445.96,147.25 446.09,147.3 446.46,147.25 446.59,147.22 446.95,147.27 447.19,147.24 447.43,147.22 447.66,147.3 448.01,147.22 448.24,147.28 448.69,147.21 448.92,147.26 449.14,147.3 449.36,147.23 449.79,147.2 450,147.28 450.21,147.3 450.52,147.23 450.73,147.22 451.03,147.3 451.24,147.22 451.53,147.26 452.22,147.28 452.31,147.19 452.41,147.23 452.6,147.3 452.97,147.29 453.34,147.18 453.52,147.23 453.8,147.3 454.15,147.29 454.5,147.23 454.76,147.29 454.93,147.23 455.44,147.28 455.52,147.2 455.61,147.23 455.94,147.29 456.18,147.26 456.5,147.29 456.9,147.21 457.21,147.27 457.29,147.21 457.67,147.3 457.89,147.3 458.27,147.18 458.41,147.22 458.71,147.3 458.92,147.21 459.14,147.27 459.49,147.27 459.56,147.21 460.11,147.29 460.25,147.19 460.65,147.28 460.72,147.22 461.05,147.29 461.18,147.23 461.63,147.2 461.82,147.29 462.14,147.21 462.45,147.28 462.63,147.23 462.81,147.28 463.18,147.22 463.41,147.3 463.82,147.22 464,147.27 464.23,147.27 464.4,147.21 465.01,147.28 465.23,147.21 465.72,147.3 465.77,147.24 466.14,147.22 466.19,147.29 466.46,147.29 466.71,147.17 467.17,147.28 467.32,147.18 467.47,147.3 467.81,147.21 468.01,147.29 468.15,147.23 468.68,147.28 468.82,147.17 469.1,147.27 469.33,147.22 469.64,147.23 469.73,147.28 470,147.3 470.27,147.22 470.83,147.21 471,147.29 471.47,147.29 471.51,147.21 471.59,147.22 472.04,147.3 472.29,147.2 472.37,147.29 472.68,147.3 473,147.21 473.15,147.21 473.27,147.29 474.07,147.21 474.1,147.3 474.29,147.19 474.58,147.29 474.91,147.3 475.05,147.18 475.3,147.21 475.37,147.29 475.82,147.23 476.03,147.27 476.47,147.2 476.7,147.3 476.97,147.28 477.16,147.19 477.65,147.21 477.68,147.3 477.78,147.3 477.96,147.22 478.34,147.18 478.37,147.3 478.86,147.3 479.19,147.21 479.55,147.3 479.66,147.2 480.13,147.3 480.33,147.22 480.44,147.3 480.66,147.21 481.16,147.23 481.3,147.3 481.41,147.18 481.65,147.29 482.13,147.22 482.36,147.3 482.57,147.29 482.7,147.19 483.25,147.3 483.38,147.21 483.53,147.18 483.58,147.28 484.07,147.19 484.11,147.3 484.5,147.19 484.54,147.29 485.04,147.17 485.22,147.28 485.63,147.3 485.79,147.2 486.23,147.3 486.34,147.22 486.8,147.19 486.9,147.3 487.18,147.22 487.33,147.29 487.55,147.2 487.58,147.29 488.09,147.3 488.19,147.23 488.69,147.2 489.02,147.3 489.22,147.3 489.24,147.21 489.54,147.3 489.92,147.2 490.11,147.22 490.4,147.3 490.73,147.2 490.87,147.3 491.21,147.29 491.35,147.22 491.83,147.3 491.93,147.19 492.44,147.29 492.45,147.2 492.66,147.3 492.75,147.21 493.38,147.2 493.39,147.3 493.78,147.3 493.82,147.2 494.12,147.3 494.22,147.21 494.89,147.21 495.11,147.3 495.43,147.19 495.49,147.3 495.69,147.3 495.91,147.2 496.18,147.3 496.52,147.22 496.72,147.2 496.82,147.3 497.38,147.3 497.58,147.2 497.75,147.3 497.93,147.21 498.16,147.3 498.32,147.17 498.84,147.2 499.14,147.3 499.45,147.3 499.61,147.21 499.72,147.29 500.09,147.21 500.3,147.2 500.33,147.3 500.83,147.3 501.05,147.22 501.58,147.18 501.59,147.28 501.88,147.18 501.89,147.3 502.4,147.2 502.53,147.3 502.9,147.3 503.18,147.2 503.26,147.2 503.46,147.3 503.83,147.21 504.06,147.29 504.32,147.3 504.72,147.19 504.86,147.3 504.96,147.18 505.39,147.3 505.62,147.2 505.79,147.3 505.98,147.21 506.67,147.16 506.78,147.3 506.89,147.3 507.26,147.19 507.31,147.3 507.39,147.2 507.96,147.2 508.02,147.3 508.49,147.3 508.66,147.18 508.9,147.29 509.19,147.19 509.42,147.3 509.82,147.2 509.82,147.3 509.87,147.21 510.42,147.18 510.42,147.3 511.04,147.3 511.08,147.2 511.61,147.3 511.7,147.21 511.96,147.19 512.03,147.3 512.8,147.18 512.81,147.3 512.88,147.18 513.04,147.3 513.36,147.3 513.7,147.2 514.31,147.19 514.34,147.3 514.45,147.3 514.8,147.2 514.9,147.29 515.23,147.19 515.58,147.19 515.61,147.3 516.28,147.2 516.36,147.29 516.41,147.3 516.68,147.18 517.09,147.19 517.13,147.3 517.39,147.19 517.8,147.3 517.93,147.3 518.36,147.2 518.45,147.3 518.71,147.2 518.93,147.18 518.95,147.3 519.48,147.3 519.76,147.21 520.12,147.19 520.15,147.3 520.57,147.3 520.85,147.2 520.89,147.3 521.24,147.19 521.76,147.17 521.83,147.3 522.07,147.18 522.07,147.3 522.41,147.3 522.84,147.18 522.96,147.3 523.11,147.19 523.52,147.19 523.55,147.3 524.21,147.19 524.23,147.3 524.51,147.2 524.82,147.3 525.09,147.3 525.2,147.21 525.49,147.3 525.88,147.16 525.97,147.3 526.21,147.19 526.57,147.3 526.85,147.19 526.94,147.3 527.11,147.18 527.42,147.3 527.54,147.2 527.99,147.3 528.29,147.18 528.61,147.3 528.8,147.18 528.93,147.3 528.95,147.19 529.65,147.19 529.81,147.3 530.02,147.17 530.17,147.3 530.53,147.3 530.79,147.17" fill="none" stroke="#D95319" stroke-width="1.6" stroke-linejoin="round" clip-path="url(#clipb)"/>
<polyline points="38.8,281.44 38.95,279.6 39.09,281.18 39.24,280.26 39.39,280.76 39.54,278.46 39.68,282.86 39.83,280.6 39.98,281.87 40.13,280.3 40.27,281.09 40.42,280.32 40.57,281.81 40.72,279.62 40.86,281.06 41.01,278.03 41.16,279.88 41.31,280.5 41.45,282.55 41.6,280.87 41.75,281.04 41.9,280.12 42.04,280.81 42.19,280.53 42.34,280.9 42.49,279.65 42.63,280.27 42.78,279.16 42.93,281.57 43.08,278.49 43.22,280.86 43.37,280.46 43.52,281.14 43.67,278.58 43.81,280.37 43.96,279.75 44.11,282.53 44.25,278.75 44.4,281.95 44.55,278.19 44.7,281.25 44.84,279.42 44.99,281.01 45.14,280.38 45.29,281.3 45.43,277.43 45.58,282.64 45.73,278.5 45.88,281.49 46.02,278.45 46.17,281.97 46.32,277.85 46.47,281.47 46.61,279.44 46.76,280.64 46.91,279.86 47.06,281.74 47.2,279.71 47.35,281.35 47.5,278.14 47.65,281.88 47.79,278.83 47.94,280.41 48.09,278.31 48.24,280.19 48.38,278.26 48.53,281.98 48.68,277.52 48.83,281.52 48.97,279.44 49.12,281.88 49.27,278.62 49.41,280 49.56,279.9 49.71,281 49.86,279.21 50,281.05 50.15,277.3 50.3,279.75 50.45,279.84 50.59,280.63 50.74,279.67 50.89,282.46 51.04,278.98 51.18,281.78 51.33,278.66 51.48,282.29 51.63,279.89 51.77,281.16 51.92,279.64 52.07,280.48 52.22,278.52 52.36,281.12 52.51,278.76 52.66,282.2 52.81,279.95 52.95,281.79 53.1,278.69 53.25,279.63 53.4,279.01 53.54,280.1 53.69,277.5 53.84,280.57 53.99,277.17 54.13,282.39 54.28,279.13 54.43,281.05 54.57,278.75 54.72,281.67 54.87,278.28 55.02,280.37 55.16,279.4 55.31,281.62 55.46,279.69 55.61,281.59 55.75,279.05 55.9,282.2 56.05,280.08 56.2,282.3 56.34,280.01 56.49,279.89 56.64,278.85 56.79,280.01 56.93,279.97 57.08,281.54 57.23,280.09 57.38,282.44 57.52,278.69 57.67,280.89 57.82,278.98 57.97,282.32 58.11,278.73 58.26,282.38 58.41,278.5 58.56,281.23 58.7,279.31 58.85,281.74 59,278.96 59.15,279.25 59.29,278.98 59.44,280.55 59.59,279.93 59.73,280.64 59.88,278.92 60.03,279.5 60.18,278.85 60.32,279.9 60.47,277.96 60.62,281.11 60.77,277.95 60.91,281.67 61.06,277.76 61.21,281.34 61.36,280.08 61.5,281.82 61.65,277.68 61.8,281.04 61.95,278.48 62.09,280.86 62.24,276.95 62.39,279.83 62.54,277.76 62.68,280.24 62.83,279.96 62.98,280.8 63.13,278.76 63.27,279.97 63.42,279.64 63.57,280.23 63.72,279.28 63.86,280.02 64.01,278.04 64.16,280.29 64.31,279.35 64.45,281.42 64.6,278.73 64.75,279.63 64.89,277.79 65.04,279.85 65.19,277.71 65.34,280.83 65.48,277.45 65.63,280.96 65.78,279.21 65.93,281.47 66.07,278.58 66.22,281.19 66.37,279.48 66.52,279.38 66.66,278.9 66.81,279.93 66.96,279.66 67.11,280.43 67.25,278.98 67.4,279.28 67.55,278.8 67.7,280.78 67.84,277.13 67.99,279.5 68.14,278.53 68.29,281.67 68.43,278.52 68.58,279.02 68.73,279.02 68.88,280.28 69.02,278.56 69.17,279.11 69.32,277.95 69.47,280.65 69.61,278.3 69.76,280.01 69.91,278.25 70.05,278.94 70.2,277.97 70.35,279.94 70.5,278.76 70.64,279.82 70.79,277.65 70.94,281.11 71.09,277.02 71.23,278.68 71.38,276.72 71.53,279.49 71.68,277.98 71.82,280.71 71.97,277.79 72.12,278.19 72.27,277.67 72.41,279.07 72.56,278.94 72.71,280.52 72.86,277.41 73,278.31 73.15,276.6 73.3,280.17 73.45,277.96 73.59,280.31 73.74,277.35 73.89,279.43 74.04,276.9 74.18,280.4 74.33,276.74 74.48,279.19 74.63,277.4 74.77,278.15 74.92,276.2 75.07,280.32 75.22,275.57 75.36,277.69 75.51,275.91 75.66,277.23 75.8,277 75.95,279.66 76.1,276.11 76.25,277.97 76.39,277.25 76.54,277.32 76.69,276.29 76.84,277.59 76.98,275.7 77.13,276.99 77.28,275.37 77.43,277.89 77.57,274.8 77.72,278.41 77.87,274.54 78.02,276.77 78.16,274.69 78.31,277.18 78.46,275.01 78.61,277.8 78.75,275.04 78.9,276.88 79.05,273.53 79.2,278.28 79.34,274.95 79.49,278.41 79.64,274.56 79.79,275.52 79.93,276.47 80.08,276.99 80.23,276.21 80.38,277.79 80.52,276.62 80.67,275.83 80.82,275.41 80.96,276.75 81.11,273.98 81.26,276.82 81.41,274.89 81.55,277.19 81.7,274.72 81.85,277.26 82,274.32 82.14,276.77 82.29,274.97 82.44,277.31 82.59,273.64 82.73,277.79 82.88,274.15 83.03,278.88 83.18,275.07 83.32,278.48 83.47,275.84 83.62,277.57 83.77,274.71 83.91,276.87 84.06,275.99 84.21,278.39 84.36,275.84 84.5,276.46 84.65,276.31 84.8,276.69 84.95,274.43 85.09,277.37 85.24,274.09 85.39,278.46 85.54,274.05 85.68,278.33 85.83,273.87 85.98,278.03 86.12,274.43 86.27,276.94 86.42,274.84 86.57,277.63 86.71,275.8 86.86,276.09 87.01,273.31 87.16,276.36 87.3,275.67 87.45,276.54 87.6,275.6 87.75,277.35 87.89,273.36 88.04,275.59 88.19,274.99 88.34,276.52 88.48,274.14 88.63,277.84 88.78,273.11 88.93,275.63 89.07,273.64 89.22,276.74 89.37,273.1 89.52,277.17 89.66,274.63 89.81,276.61 89.96,275.7 90.11,277.31 90.25,275.05 90.4,276.62 90.55,275.11 90.7,275.96 90.84,276.03 90.99,277.82 91.14,274.78 91.28,275.8 91.43,273.89 91.58,275.76 91.73,273.13 91.87,277.3 92.02,274.22 92.17,277.44 92.32,274.17 92.46,275.63 92.61,275.17 92.76,277.11 92.91,272.98 93.05,276.54 93.2,273.9 93.35,278.04 93.5,274.9 93.64,276.74 93.79,275.41 93.94,276.28 94.09,274.93 94.23,276.66 94.38,275.89 94.53,277.05 94.68,274.83 94.82,275.99 94.97,273.43 95.12,277.39 95.27,273.19 95.41,275.65 95.56,275.06 95.71,277.3 95.86,274.53 96,277.52 96.15,276.16 96.3,275.47 96.44,273.55 96.59,277.53 96.74,274.17 96.89,276.11 97.03,273.63 97.18,275.49 97.33,275.53 97.48,276.46 97.62,274.6 97.77,276.39 97.92,272.31 98.07,275.29 98.21,275.21 98.36,275.77 98.51,274.86 98.66,276.9 98.8,274.18 98.95,274.06 99.1,272.98 99.25,273.11 99.39,273.12 99.54,275.3 99.69,272.5 99.84,275.7 99.98,271.88 100.13,274.09 100.28,271.49 100.43,273.34 100.57,272.05 100.72,275.43 100.87,269.69 101.02,275.97 101.16,270.88 101.31,274.57 101.46,269.69 101.6,271.85 101.75,270.07 101.9,271.99 102.05,271.56 102.19,272.22 102.34,268.97 102.49,273.64 102.64,268.62 102.78,271.54 102.93,266.07 103.08,274.05 103.23,267.92 103.37,271.16 103.52,267.71 103.67,269.57 103.82,261.15 103.96,266.66 104.11,264.56 104.26,269.52 104.41,263.48 104.55,265.05 104.7,258.17 104.85,264.14 105,261.3 105.14,262.34 105.29,256.56 105.44,261.26 105.59,254.23 105.73,263.55 105.88,254 106.03,257.57 106.18,253.49 106.32,259.83 106.47,252.6 106.62,254.4 106.76,250.36 106.91,256.25 107.06,249.14 107.21,262.02 107.35,252.77 107.5,257.36 107.65,249.96 107.8,259.36 107.94,248.85 108.09,252.7 108.24,222.88 108.39,257.92 108.53,243.33 108.68,250.53 108.83,249.36 108.98,258.06 109.12,248.76 109.27,248.68 109.42,248.55 109.57,251.25 109.71,246.64 109.86,246.43 110.01,241.5 110.16,250.2 110.3,244.01 110.45,228.12 110.6,237.99 110.75,251.97 110.89,247.92 111.04,253.23 111.19,242.9 111.34,251.36 111.48,248.61 111.63,247.1 111.78,238.85 111.92,249.08 112.07,247.18 112.22,252.57 112.37,242.29 112.51,250.67 112.66,236.94 112.81,246.75 112.96,244.09 113.1,245.93 113.25,241.6 113.4,252.46 113.55,246.99 113.69,251.58 113.84,238.14 113.99,249.2 114.14,245.03 114.28,247.38 114.43,243.27 114.58,244.32 114.73,242.49 114.87,252.24 115.02,245.5 115.17,247.45 115.32,245.61 115.46,247.14 115.61,246.6 115.76,251.89 115.91,243.7 116.05,250.99 116.2,243.87 116.35,246.37 116.5,239.6 116.64,251.73 116.79,243.92 116.94,249.9 117.08,241.48 117.23,246.77 117.38,244.51 117.53,256.01 117.67,239.91 117.82,247.43 117.97,240.92 118.12,253.36 118.26,247.85 118.41,233.36 118.56,238.91 118.71,250.42 118.85,244.99 119,255.21 119.15,243.66 119.3,251.84 119.44,238.5 119.59,250.14 119.74,246.34 119.89,248.17 120.03,241.77 120.18,250.2 120.33,246.01 120.48,251.9 120.62,246.27 120.77,254.89 120.92,245.68 121.07,246.93 121.21,239.55 121.36,251.63 121.51,245.21 121.66,252.78 121.8,222.88 121.95,250.15 122.1,246.15 122.24,252.91 122.39,243.41 122.54,251.22 122.69,247.13 122.83,248.57 122.98,246.38 123.13,249.01 123.28,245.44 123.42,251.77 123.57,249.17 123.72,250.26 123.87,247.56 124.01,251.48 124.16,249.2 124.31,250.76 124.46,243.2 124.6,255.99 124.75,246.09 124.9,253.56 125.05,235.98 125.19,248.57 125.34,246.63 125.49,255.67 125.64,241.02 125.78,247.65 125.93,239.71 126.08,253.86 126.23,245.88 126.37,251.64 126.52,245.82 126.67,253.56 126.82,246.85 126.96,255.8 127.11,242.29 127.26,249.78 127.4,245.1 127.55,251.73 127.7,242.06 127.85,251.81 127.99,245.78 128.14,258.02 128.29,247.08 128.44,228.12 128.58,249.76 128.73,251.68 128.88,245.77 129.03,257.83 129.17,251.08 129.32,250.58 129.47,249.21 129.62,249.78 129.76,243.64 129.91,254.52 130.06,243.95 130.21,250.69 130.35,247.81 130.5,253.27 130.65,247.83 130.8,253.61 130.94,245.74 131.09,260.65 131.24,250.42 131.39,255.13 131.53,244.86 131.68,257.91 131.83,249.36 131.98,254 132.12,245.54 132.27,249.86 132.42,251.52 132.56,257.63 132.71,247.71 132.86,253.86 133.01,243.2 133.15,254.55 133.3,248.23 133.45,255.17 133.6,243.66 133.74,253.13 133.89,244.57 134.04,252.06 134.19,248.17 134.33,232.05 134.48,252.38 134.63,257.51 134.78,251.15 134.92,257.03 135.07,248.61 135.22,253.75 135.37,245.05 135.51,255.46 135.66,249.54 135.81,254.68 135.96,246.4 136.1,256.89 136.25,243.65 136.4,262.79 136.55,251.1 136.69,260.05 136.84,253.26 136.99,254.44 137.14,244.75 137.28,258.92 137.43,253.65 137.58,258.96 137.72,245.88 137.87,261.49 138.02,249.99 138.17,258.93 138.31,253.01 138.46,254.41 138.61,252.14 138.76,253.35 138.9,248.25 139.05,254.17 139.2,249.15 139.35,257.17 139.49,250.68 139.64,255.33 139.79,247.3 139.94,256.63 140.08,254.91 140.23,259.29 140.38,245.17 140.53,254.07 140.67,252.62 140.82,259.52 140.97,249.79 141.12,259.77 141.26,255.3 141.41,256.96 141.56,247.05 141.71,257.37 141.85,251.26 142,256.16 142.15,246.19 142.3,255.01 142.44,254.22 142.59,260.23 142.74,250.75 142.88,257.18 143.03,252.55 143.18,258.23 143.33,252.93 143.47,260.35 143.62,253.97 143.77,260.04 143.92,254.24 144.06,260.13 144.21,253.05 144.36,256.25 144.51,251.76 144.65,260.08 144.8,253.46 144.95,256.4 145.1,254.87 145.24,256.33 145.39,246.83 145.54,258.55 145.69,255.03 145.83,264.13 145.98,250.03 146.13,261.52 146.28,251.46 146.42,263.36 146.57,252.62 146.72,258.13 146.87,249.36 147.01,255.81 147.16,250.95 147.31,259.11 147.46,252.8 147.6,258.04 147.75,253.52 147.9,261.62 148.05,255.68 148.19,262.08 148.34,248.2 148.49,256.52 148.63,252.97 148.78,256.95 148.93,253.69 149.08,258.07 149.22,250.36 149.37,253.82 149.52,257.48 149.67,257.66 149.81,255.76 149.96,253.84 150.11,253.96 150.26,258.14 150.4,248.4 150.55,264.33 150.7,255.9 150.85,258.23 150.99,255.55 151.14,255.86 151.29,256.73 151.44,263.72 151.58,247.85 151.73,257.33 151.88,251.58 152.03,259.64 152.17,247.52 152.32,262.34 152.47,253.84 152.62,257.47 152.76,252 152.91,243.84 153.06,248.4 153.21,259.65 153.35,258 153.5,263.15 153.65,251.39 153.79,256.69 153.94,250.29 154.09,259.11 154.24,250.03 154.38,262.99 154.53,252.72 154.68,259.86 154.83,254.23 154.97,260.27 155.12,247.18 155.27,256.45 155.42,254.81 155.56,263.03 155.71,254.81 155.86,264.72 156.01,254.31 156.15,260.38 156.3,249.84 156.45,258.67 156.6,249.8 156.74,259.78 156.89,252.73 157.04,260.44 157.19,252.3 157.33,259.29 157.48,256.59 157.63,259.79 157.78,256.64 157.92,262.12 158.07,252.28 158.22,263.1 158.37,251.41 158.51,262.04 158.66,256.35 158.81,265 158.95,253.6 159.1,256.9 159.25,257.98 159.4,261.19 159.54,253.25 159.69,237.29 159.84,249.97 159.99,260.43 160.13,255.4 160.28,255.59 160.43,250.81 160.58,259.06 160.72,254.26 160.87,260.93 161.02,252.27 161.17,260.33 161.31,255.5 161.46,263.12 161.61,252.94 161.76,261.38 161.9,257.14 162.05,255.06 162.2,252.66 162.35,258.31 162.49,255.31 162.64,261.4 162.79,259.23 162.94,265.53 163.08,256.38 163.23,265.18 163.38,250.88 163.53,261.08 163.67,252.76 163.82,264.67 163.97,255.77 164.11,263.19 164.26,253.64 164.41,261.33 164.56,254.06 164.7,264.3 164.85,255.13 165,257.62 165.15,255.6 165.29,259.32 165.44,254.77 165.59,262.37 165.74,251 165.88,259.96 166.03,254.91 166.18,266.07 166.33,253.03 166.47,263.72 166.62,256.36 166.77,260.38 166.92,257.17 167.06,264.28 167.21,253.32 167.36,260.42 167.51,253.94 167.65,265.27 167.8,254.91 167.95,264.65 168.1,258.7 168.24,262.5 168.39,257.06 168.54,262.25 168.69,250.96 168.83,263.37 168.98,251.95 169.13,263.39 169.27,257.33 169.42,257.18 169.57,254.52 169.72,259.15 169.86,253.88 170.01,261.98 170.16,250.14 170.31,260.57 170.45,252.36 170.6,264.56 170.75,257.96 170.9,266.47 171.04,257.92 171.19,267.1 171.34,256.56 171.49,265.56 171.63,256.54 171.78,265.87 171.93,260.14 172.08,265.55 172.22,258.11 172.37,262.59 172.52,256.37 172.67,262 172.81,256.19 172.96,268.35 173.11,257.54 173.26,267.11 173.4,257.27 173.55,264.62 173.7,255.38 173.85,264.2 173.99,261.39 174.14,270.03 174.29,257.5 174.43,263.07 174.58,259.31 174.73,265.24 174.88,263.05 175.02,266.02 175.17,262.51 175.32,264.49 175.47,260.26 175.61,265.14 175.76,260.52 175.91,265.45 176.06,257.23 176.2,263.95 176.35,262.83 176.5,263.35 176.65,258.18 176.79,254.32 176.94,259.53 177.09,264.94 177.24,257.75 177.38,264.88 177.53,258.72 177.68,268.37 177.83,258.7 177.97,264.04 178.12,262.43 178.27,264.93 178.42,262.04 178.56,265.03 178.71,260.26 178.86,263.11 179.01,264.07 179.15,263.71 179.3,261.1 179.45,255.63 179.59,263.31 179.74,268.5 179.89,260.22 180.04,264.47 180.18,260.76 180.33,269.84 180.48,259.88 180.63,269.74 180.77,260.45 180.92,268.65 181.07,263.77 181.22,266.02 181.36,260.72 181.51,269.85 181.66,259.78 181.81,266.32 181.95,264.01 182.1,266.79 182.25,262.75 182.4,268.99 182.54,256.94 182.69,268.58 182.84,262.79 182.99,268.15 183.13,262.75 183.28,268.75 183.43,262.92 183.58,270.76 183.72,261.08 183.87,267.15 184.02,260.43 184.17,269.48 184.31,263 184.46,269.47 184.61,261.85 184.75,271.34 184.9,266.7 185.05,268.16 185.2,265.47 185.34,270.3 185.49,266.86 185.64,270.16 185.79,265.81 185.93,266.96 186.08,266.09 186.23,266.7 186.38,267.1 186.52,271.24 186.67,265.2 186.82,270.09 186.97,267.19 187.11,271.68 187.26,267.93 187.41,272.3 187.56,268.09 187.7,269.26 187.85,266.02 188,274.18 188.15,265.69 188.29,268.6 188.44,267.27 188.59,270.28 188.74,267.97 188.88,273.5 189.03,266.04 189.18,275.37 189.33,267.62 189.47,272.22 189.62,269.94 189.77,273.59 189.91,267.21 190.06,272.46 190.21,269.98 190.36,271.32 190.5,271.13 190.65,272.61 190.8,271.26 190.95,272.17 191.09,269.19 191.24,271.92 191.39,269.61 191.54,273.42 191.68,270.77 191.83,272.03 191.98,271.12 192.13,273.56 192.27,271.31 192.42,276.03 192.57,272.42 192.72,275.91 192.86,272.38 193.01,273.3 193.16,270.31 193.31,275.51 193.45,273.33 193.6,274.96 193.75,270.57 193.9,274.85 194.04,271.33 194.19,275.25 194.34,270.39 194.49,276.21 194.63,272.09 194.78,275.42 194.93,273.59 195.07,274.6 195.22,270.79 195.37,274.34 195.52,271.45 195.66,275.23 195.81,274.59 195.96,275.97 196.11,273.9 196.25,275.64 196.4,273.31 196.55,276.93 196.7,275.01 196.84,275.42 196.99,273.53 197.14,275.24 197.29,274.84 197.43,276.17 197.58,274.04 197.73,275.35 197.88,273.73 198.02,275.11 198.17,273.55 198.32,276.6 198.47,274.58 198.61,275.17 198.76,274.52 198.91,274.74 199.06,273.06 199.2,275.4 199.35,274 199.5,276.89 199.65,273.36 199.79,276.31 199.94,274.31 200.09,276.21 200.23,275.28 200.38,276.49 200.53,275.98 200.68,275.68 200.82,275.04 200.97,277.72 201.12,274.89 201.27,277.41 201.41,273.27 201.56,276.26 201.71,274.89 201.86,277.69 202,273.99 202.15,278.08 202.3,274.96 202.45,277.93 202.59,274.26 202.74,275.98 202.89,275.92 203.04,276.91 203.18,274.85 203.33,276.25 203.48,276.33 203.63,276.25 203.77,274.86 203.92,277.85 204.07,275.4 204.22,278.35 204.36,274.59 204.51,276.79 204.66,275.27 204.81,278.03 204.95,274.3 205.1,277.52 205.25,275.72 205.39,276.01 205.54,275.57 205.69,278.46 205.84,275.03 205.98,276.37 206.13,275.23 206.28,277.8 206.43,274.84 206.57,276.78 206.72,275.83 206.87,278.5 207.02,274.39 207.16,277.14 207.31,275.54 207.46,277.5 207.61,275.16 207.75,277.22 207.9,276.63 208.05,277.69 208.2,276.5 208.34,277.23 208.49,276.14 208.64,277.7 208.79,274.63 208.93,276.83 209.08,274.99 209.23,276.6 209.38,275.33 209.52,277.17 209.67,274.04 209.82,277.04 209.97,275.3 210.11,277.28 210.26,276.57 210.41,276.33 210.55,276 210.7,276.58 210.85,276.36 211,277.03 211.14,274.93 211.29,278.04 211.44,276.32 211.59,277.63 211.73,276.12 211.88,277.8 212.03,274.67 212.18,277.74 212.32,275.55 212.47,277.22 212.62,275.33 212.77,277.69 212.91,274.54 213.06,277.34 213.21,275.07 213.36,277.17 213.5,275.34 213.65,276.68 213.8,275.86 213.95,277.16 214.09,275.77 214.24,277.81 214.39,274.64 214.54,277.6 214.68,276.29 214.83,277.29 214.98,276.11 215.13,278.64 215.27,275.25 215.42,277.6 215.57,276.26 215.72,277.32 215.86,277.14 216.01,277.41 216.16,276.49 216.3,278.15 216.45,275.65 216.6,278.1 216.75,275.34 216.89,277.94 217.04,275.51 217.19,277.62 217.34,275.87 217.48,278.57 217.63,276.62 217.78,278.55 217.93,275.55 218.07,278.02 218.22,275.3 218.37,277.43 218.52,277.29 218.66,278.42 218.81,277.34 218.96,277.45 219.11,277.19 219.25,278.08 219.4,276.03 219.55,277.39 219.7,276.2 219.84,278.34 219.99,275.94 220.14,278.5 220.29,275 220.43,277.86 220.58,277.57 220.73,277.99 220.88,276.09 221.02,277.5 221.17,275.87 221.32,278.58 221.46,275.51 221.61,277.26 221.76,277.2 221.91,277.13 222.05,276.44 222.2,277.54 222.35,276.3 222.5,278.12 222.64,276.34 222.79,277.26 222.94,276.8 223.09,278.12 223.23,276.96 223.38,279.38 223.53,276.97 223.68,279.38 223.82,276.86 223.97,278.22 224.12,276.63 224.27,277.48 224.41,275.18 224.56,277.7 224.71,275.45 224.86,278.64 225,276.57 225.15,277.09 225.3,276.81 225.45,278.62 225.59,276.38 225.74,278.17 225.89,275.75 226.04,277.72 226.18,276.52 226.33,279.25 226.48,277.47 226.62,278.6 226.77,276.68 226.92,278.84 227.07,276.3 227.21,279.51 227.36,277.51 227.51,277.36 227.66,277.69 227.8,277.67 227.95,276.73 228.1,279.58 228.25,276.87 228.39,278.51 228.54,277.12 228.69,277.91 228.84,276.63 228.98,279.69 229.13,277.03 229.28,278.16 229.43,277.76 229.57,278.63 229.72,276.89 229.87,278.63 230.02,276.08 230.16,279.42 230.31,275.78" fill="none" stroke="#0072BD" stroke-width="1.3" stroke-linejoin="round" clip-path="url(#clipc)"/>
<polyline points="38.8,277.37 38.95,279.51 39.09,275.09 39.24,281.3 39.39,276.78 39.54,277.21 39.68,278.48 39.83,280.94 39.98,275.54 40.13,278.16 40.27,276.45 40.42,278.59 40.57,275.23 40.72,279.05 40.86,276.62 41.01,277.42 41.16,276.62 41.31,279.56 41.45,275.76 41.6,279.14 41.75,273.9 41.9,280.02 42.04,277.57 42.19,278.68 42.34,276.7 42.49,278.6 42.63,273.23 42.78,278.26 42.93,275.6 43.08,279.82 43.22,276.97 43.37,279.46 43.52,276.33 43.67,278.8 43.81,277.3 43.96,280.77 44.11,275.79 44.25,280.02 44.4,273.97 44.55,281.14 44.7,278.32 44.84,280.96 44.99,276.88 45.14,279.74 45.29,274.59 45.43,279.08 45.58,276.92 45.73,280.18 45.88,276.78 46.02,277.48 46.17,276.5 46.32,277.11 46.47,277.36 46.61,281.01 46.76,275.3 46.91,277.45 47.06,277.71 47.2,279.08 47.35,278.09 47.5,279.89 47.65,277.92 47.79,277.55 47.94,275.45 48.09,280.33 48.24,275.64 48.38,281.05 48.53,276.4 48.68,279.43 48.83,274.03 48.97,281.27 49.12,275.37 49.27,281.17 49.41,275.79 49.56,281.61 49.71,277.03 49.86,277.39 50,274.9 50.15,277.8 50.3,276.39 50.45,277.57 50.59,276.47 50.74,276.61 50.89,272.38 51.04,278.85 51.18,275.87 51.33,278.86 51.48,275.52 51.63,280 51.77,276.88 51.92,280.31 52.07,277.41 52.22,278.74 52.36,275.96 52.51,279.41 52.66,276.08 52.81,278.38 52.95,276.2 53.1,277.39 53.25,276.93 53.4,277.02 53.54,277.96 53.69,281.56 53.84,275.49 53.99,277.3 54.13,276.07 54.28,277.8 54.43,278.77 54.57,279.72 54.72,273.95 54.87,276.62 55.02,276.63 55.16,279.15 55.31,278.08 55.46,275.66 55.61,275.73 55.75,280.11 55.9,276.83 56.05,280.61 56.2,274.87 56.34,275.52 56.49,278.43 56.64,279.97 56.79,276.22 56.93,276.26 57.08,275.64 57.23,278.6 57.38,275.67 57.52,280.51 57.67,277.58 57.82,279.83 57.97,275.48 58.11,280.39 58.26,276.57 58.41,277.92 58.56,275.4 58.7,276.7 58.85,275.78 59,279.79 59.15,272.62 59.29,278.94 59.44,276.29 59.59,279.28 59.73,276.84 59.88,278.64 60.03,275.66 60.18,278.27 60.32,275.52 60.47,279.69 60.62,274.34 60.77,276.56 60.91,277.37 61.06,280.04 61.21,276.03 61.36,279.03 61.5,275.95 61.65,278.17 61.8,277.11 61.95,276.66 62.09,275.56 62.24,278.1 62.39,275.74 62.54,278.78 62.68,276.07 62.83,279.33 62.98,275.76 63.13,278.09 63.27,277.66 63.42,276.42 63.57,276.95 63.72,279.75 63.86,275.19 64.01,282.1 64.16,277.64 64.31,278.64 64.45,274.94 64.6,278.69 64.75,275.86 64.89,276.48 65.04,276.95 65.19,277.41 65.34,274.74 65.48,278.38 65.63,276.27 65.78,279.3 65.93,275.21 66.07,278.51 66.22,274.57 66.37,279.03 66.52,274.75 66.66,279.4 66.81,276.38 66.96,280.29 67.11,276.06 67.25,277.55 67.4,273.29 67.55,278.36 67.7,275.53 67.84,278.47 67.99,275.87 68.14,276.78 68.29,276.02 68.43,280.06 68.58,275.28 68.73,279.06 68.88,275.49 69.02,278.37 69.17,277.95 69.32,277.27 69.47,275.85 69.61,279.93 69.76,273.35 69.91,279.38 70.05,275.53 70.2,278 70.35,276.44 70.5,280.02 70.64,276.12 70.79,277.72 70.94,274.62 71.09,280.33 71.23,275.28 71.38,279.48 71.53,278.63 71.68,279.04 71.82,277.78 71.97,276.32 72.12,275.17 72.27,279.42 72.41,277.39 72.56,277.57 72.71,274.44 72.86,280.52 73,273.96 73.15,280.15 73.3,272.74 73.45,280.6 73.59,277.85 73.74,279.93 73.89,276.44 74.04,280.62 74.18,278.54 74.33,279.8 74.48,276.2 74.63,278.53 74.77,275.56 74.92,280.15 75.07,277.27 75.22,279.57 75.36,274.63 75.51,278.7 75.66,277.22 75.8,277.11 75.95,275.54 76.1,280.25 76.25,275.55 76.39,280.38 76.54,277.35 76.69,279.32 76.84,276.71 76.98,277.08 77.13,274.41 77.28,277.88 77.43,275.39 77.57,280.07 77.72,274.83 77.87,277.23 78.02,274.7 78.16,279.92 78.31,275.21 78.46,279.66 78.61,277.12 78.75,280.12 78.9,276.27 79.05,279.65 79.2,275.48 79.34,278.35 79.49,276.43 79.64,276.83 79.79,277.83 79.93,278.77 80.08,276.69 80.23,276.98 80.38,276.82 80.52,280.39 80.67,278.05 80.82,278.47 80.96,272.23 81.11,277.06 81.26,277.11 81.41,280.1 81.55,274.18 81.7,277.84 81.85,274.02 82,276.94 82.14,274.93 82.29,279.09 82.44,277.07 82.59,280.1 82.73,276.26 82.88,279.83 83.03,278.76 83.18,278.5 83.32,275.46 83.47,280.61 83.62,274.95 83.77,277.27 83.91,277.3 84.06,279.54 84.21,275.07 84.36,279.5 84.5,278.07 84.65,278.76 84.8,276.35 84.95,278.1 85.09,275.74 85.24,277.72 85.39,277.29 85.54,280.9 85.68,276.24 85.83,280.33 85.98,277.31 86.12,279.92 86.27,275.76 86.42,280.01 86.57,276.39 86.71,278.01 86.86,277.61 87.01,277.3 87.16,276.46 87.3,280.68 87.45,275.71 87.6,281.15 87.75,275.76 87.89,278.63 88.04,276.27 88.19,279.2 88.34,275.2 88.48,277.83 88.63,275.75 88.78,276.07 88.93,273.11 89.07,280.67 89.22,275.69 89.37,278.67 89.52,274.96 89.66,277.61 89.81,275.91 89.96,281.62 90.11,278.8 90.25,281.17 90.4,276.93 90.55,279.17 90.7,275.64 90.84,279.67 90.99,275.69 91.14,281.52 91.28,275.36 91.43,280.74 91.58,276.79 91.73,279.14 91.87,276.73 92.02,277.65 92.17,276.24 92.32,279.79 92.46,276.54 92.61,279.44 92.76,276.64 92.91,280.39 93.05,275.22 93.2,279.4 93.35,273.05 93.5,279.51 93.64,277.93 93.79,278.67 93.94,277.65 94.09,279.25 94.23,278.15 94.38,280.43 94.53,278.73 94.68,279.89 94.82,274.1 94.97,279.23 95.12,276.67 95.27,278.45 95.41,275.88 95.56,279.76 95.71,277.68 95.86,279.71 96,276.15 96.15,276.86 96.3,277.02 96.44,279.17 96.59,275.51 96.74,278.37 96.89,274.94 97.03,278.1 97.18,276.74 97.33,279.65 97.48,276.06 97.62,278.77 97.77,275.5 97.92,279.8 98.07,276.17 98.21,279.98 98.36,275.99 98.51,279.81 98.66,275.23 98.8,278.94 98.95,273.76 99.1,279.68 99.25,276.26 99.39,277.41 99.54,278.81 99.69,279.2 99.84,278.74 99.98,281.96 100.13,275.33 100.28,277.68 100.43,274.16 100.57,280.53 100.72,276.17 100.87,276.84 101.02,279.42 101.16,279.1 101.31,275.82 101.46,277.16 101.6,277.06 101.75,273.55 101.9,273.14 102.05,278.08 102.19,274.13 102.34,281.24 102.49,275.17 102.64,274.2 102.78,277.17 102.93,278.78 103.08,274.88 103.23,278.48 103.37,276.34 103.52,273.69 103.67,269.33 103.82,278.31 103.96,257.67 104.11,275.93 104.26,266.95 104.41,280.17 104.55,266.95 104.7,274.43 104.85,267.05 105,274.49 105.14,265.46 105.29,279.06 105.44,248.3 105.59,277.46 105.73,271.81 105.88,275.81 106.03,265.27 106.18,263.58 106.32,259.43 106.47,270.37 106.62,232.84 106.76,264 106.91,246.1 107.06,274.33 107.21,308.03 107.35,273.51 107.5,258.66 107.65,276.16 107.8,258.6 107.94,273.35 108.09,247.41 108.24,272.33 108.39,252.99 108.53,270 108.68,307.51 108.83,274.63 108.98,260.59 109.12,269.17 109.27,260.83 109.42,276.15 109.57,263.82 109.71,272.46 109.86,259.18 110.01,269.61 110.16,257.49 110.3,273.72 110.45,242.15 110.6,276.79 110.75,271.93 110.89,279.56 111.04,250.94 111.19,264.76 111.34,264.67 111.48,261.31 111.63,266.21 111.78,235.98 111.92,245.35 112.07,268.48 112.22,261.86 112.37,264.7 112.51,263.36 112.66,274.66 112.81,264.29 112.96,277.05 113.1,248.79 113.25,268.36 113.4,255.7 113.55,265.81 113.69,255.24 113.84,270.03 113.99,262.17 114.14,272.94 114.28,258.89 114.43,266.21 114.58,257.08 114.73,267.09 114.87,252.12 115.02,275.05 115.17,257.74 115.32,262.04 115.46,242.66 115.61,263.59 115.76,234.67 115.91,262.42 116.05,276.45 116.2,262.83 116.35,259.35 116.5,264.19 116.64,247.01 116.79,272.36 116.94,251.18 117.08,265.63 117.23,252.53 117.38,255.76 117.53,260.65 117.67,278.62 117.82,253.7 117.97,259.89 118.12,235.99 118.26,275.55 118.41,263.42 118.56,273.88 118.71,251.61 118.85,270.81 119,254.62 119.15,275.53 119.3,246.45 119.44,271.07 119.59,260.79 119.74,268.91 119.89,251.66 120.03,274.81 120.18,257.62 120.33,263.17 120.48,258.57 120.62,266.63 120.77,262.01 120.92,268.47 121.07,291 121.21,275.41 121.36,257.56 121.51,260.2 121.66,252.36 121.8,273.51 121.95,250.64 122.1,236.31 122.24,258.92 122.39,249.36 122.54,255.52 122.69,269.36 122.83,235.32 122.98,266.08 123.13,266.85 123.28,248.99 123.42,243.31 123.57,252.24 123.72,252.61 123.87,265.65 124.01,243.61 124.16,255.62 124.31,251.78 124.46,269.52 124.6,251.96 124.75,245.23 124.9,266.71 125.05,252.57 125.19,264.56 125.34,262.11 125.49,251.1 125.64,280.97 125.78,257.21 125.93,273.16 126.08,263.53 126.23,264.12 126.37,233.36 126.52,273.28 126.67,256.93 126.82,264.98 126.96,260.64 127.11,272.65 127.26,250.06 127.4,273.15 127.55,267.09 127.7,272.1 127.85,262.59 127.99,275.69 128.14,261.67 128.29,247.4 128.44,261.46 128.58,271.54 128.73,254.25 128.88,270.3 129.03,264.23 129.17,275.15 129.32,267.46 129.47,271.7 129.62,266.45 129.76,260.43 129.91,256.5 130.06,275.94 130.21,260.99 130.35,278.79 130.5,256.21 130.65,269.93 130.8,249.92 130.94,277.09 131.09,256.88 131.24,271.21 131.39,258.19 131.53,273.98 131.68,247.58 131.83,276.97 131.98,263.5 132.12,265.56 132.27,255.32 132.42,260.52 132.56,247.36 132.71,268.47 132.86,255.12 133.01,234.67 133.15,260.58 133.3,269.79 133.45,257.05 133.6,248.64 133.74,258.28 133.89,255.6 134.04,248.01 134.19,269.24 134.33,256.69 134.48,277.49 134.63,253.85 134.78,272.4 134.92,257.64 135.07,274.98 135.22,260.31 135.37,260.36 135.51,261.95 135.66,270.62 135.81,254.49 135.96,266.51 136.1,249.22 136.25,266.18 136.4,259.74 136.55,271.08 136.69,256.66 136.84,266.58 136.99,290.48 137.14,270.15 137.28,245.2 137.43,283.31 137.58,250.55 137.72,264.76 137.87,257.59 138.02,264.97 138.17,255.54 138.31,276.6 138.46,249.09 138.61,265.12 138.76,260.28 138.9,266.82 139.05,256.03 139.2,268.83 139.35,253 139.49,276.06 139.64,255.33 139.79,265.39 139.94,266.74 140.08,262.34 140.23,261.8 140.38,268.78 140.53,263.08 140.67,263.2 140.82,244.94 140.97,263.42 141.12,264.22 141.26,274.98 141.41,251.13 141.56,265.13 141.71,260.82 141.85,269.28 142,252.88 142.15,258.44 142.3,238.6 142.44,274.08 142.59,254.84 142.74,266.24 142.88,248.91 143.03,248.23 143.18,257.25 143.33,244.78 143.47,262.5 143.62,260.74 143.77,252.1 143.92,250.68 144.06,254.46 144.21,269.56 144.36,258.18 144.51,269.67 144.65,232.84 144.8,265.57 144.95,254.61 145.1,273.04 145.24,262.84 145.39,263.53 145.54,268.11 145.69,281.14 145.83,259.88 145.98,261.88 146.13,265.59 146.28,271.96 146.42,253.94 146.57,270.98 146.72,263.97 146.87,262.03 147.01,260.24 147.16,266.48 147.31,260.15 147.46,268.87 147.6,291 147.75,274.11 147.9,261.12 148.05,274.32 148.19,260.13 148.34,255.49 148.49,257.66 148.63,260.22 148.78,259.06 148.93,267.55 149.08,273.62 149.22,269.14 149.37,258.88 149.52,264.83 149.67,259.19 149.81,280.61 149.96,264.37 150.11,263.18 150.26,237.29 150.4,273.67 150.55,251.68 150.7,274.63 150.85,261.75 150.99,267.54 151.14,264.53 151.29,270.57 151.44,258.43 151.58,263.56 151.73,260.02 151.88,265.02 152.03,259.16 152.17,270.4 152.32,264.75 152.47,264.65 152.62,261.1 152.76,266.02 152.91,254.23 153.06,269.74 153.21,247.97 153.35,258.52 153.5,260.14 153.65,267.06 153.79,256.33 153.94,271.85 154.09,257.28 154.24,268.47 154.38,248.79 154.53,243.4 154.68,263.55 154.83,266.37 154.97,259.95 155.12,273.38 155.27,255.61 155.42,262.75 155.56,235.98 155.71,275.87 155.86,264.78 156.01,264.85 156.15,266.31 156.3,276.38 156.45,257.37 156.6,267.6 156.74,250.61 156.89,266.46 157.04,259.27 157.19,270.2 157.33,274.61 157.48,250.24 157.63,261.21 157.78,271.47 157.92,261.25 158.07,263.65 158.22,254.29 158.37,267.8 158.51,261.04 158.66,278 158.81,260.78 158.95,262.18 159.1,256.14 159.25,274.2 159.4,263.48 159.54,279.57 159.69,248.18 159.84,276.02 159.99,259.6 160.13,264.85 160.28,258.25 160.43,276.85 160.58,260.21 160.72,266.27 160.87,289.69 161.02,265.97 161.17,256.27 161.31,271.76 161.46,258.21 161.61,272.29 161.76,258.87 161.9,279.23 162.05,249.21 162.2,270.02 162.35,258.1 162.49,272.03 162.64,257.62 162.79,263.49 162.94,260.87 163.08,270.45 163.23,255.7 163.38,258.11 163.53,241.2 163.67,275.17 163.82,232.84 163.97,270.07 164.11,254.81 164.26,252.39 164.41,261.18 164.56,274.49 164.7,254.91 164.85,238.6 165,258.27 165.15,271.09 165.29,254.6 165.44,262.65 165.59,232.84 165.74,274.56 165.88,260.45 166.03,263.38 166.18,249.05 166.33,265.9 166.47,252.86 166.62,262.75 166.77,254.47 166.92,275.04 167.06,257.85 167.21,270.09 167.36,232.84 167.51,258.97 167.65,266.49 167.8,268.33 167.95,256.85 168.1,261.4 168.24,250.37 168.39,278.19 168.54,259.98 168.69,232.84 168.83,251.5 168.98,269.78 169.13,266.47 169.27,228.12 169.42,250 169.57,263.28 169.72,251.24 169.86,256.81 170.01,251.25 170.16,255.13 170.31,261.66 170.45,269.17 170.6,260.13 170.75,274.72 170.9,267.44 171.04,275.05 171.19,254.03 171.34,276.2 171.49,258.3 171.63,274.47 171.78,256.5 171.93,277.52 172.08,316.94 172.22,278.34 172.37,261.99 172.52,269.66 172.67,255.28 172.81,221.05 172.96,262.94 173.11,276.06 173.26,270.06 173.4,280.97 173.55,267.81 173.7,280.08 173.85,275.06 173.99,286.47 174.14,272.33 174.29,275.69 174.43,269.27 174.58,275.93 174.73,272.76 174.88,279.78 175.02,273.95 175.17,280.59 175.32,270.4 175.47,281.91 175.61,271 175.76,278.22 175.91,266.41 176.06,279.25 176.2,274.79 176.35,277.74 176.5,272.04 176.65,279.1 176.79,274.14 176.94,279.5 177.09,272.92 177.24,274.81 177.38,273.39 177.53,278.97 177.68,272.03 177.83,277.5 177.97,270.99 178.12,278.17 178.27,272.79 178.42,278.56 178.56,270.79 178.71,281.25 178.86,266.8 179.01,274.48 179.15,275.15 179.3,279.82 179.45,271.13 179.59,282.3 179.74,268.2 179.89,276.5 180.04,269.2 180.18,278.47 180.33,271.94 180.48,279.87 180.63,272.11 180.77,281.66 180.92,270.45 181.07,275.82 181.22,270.98 181.36,278.87 181.51,276.3 181.66,271.06 181.81,273.27 181.95,281.18 182.1,269.73 182.25,278.89 182.4,274.21 182.54,280.21 182.69,275.62 182.84,278.17 182.99,271.2 183.13,278.4 183.28,269.52 183.43,278.88 183.58,270.47 183.72,279.71 183.87,273.33 184.02,277.23 184.17,273.15 184.31,278.58 184.46,269.27 184.61,279.32 184.75,271.69 184.9,277.71 185.05,273.84 185.2,276.07 185.34,274.37 185.49,278.08 185.64,272.97 185.79,275.84 185.93,273.19 186.08,278.27 186.23,274.53 186.38,281.43 186.52,276.02 186.67,278.42 186.82,272.09 186.97,277.26 187.11,274.79 187.26,279.23 187.41,273.43 187.56,277.91 187.7,275.05 187.85,277.09 188,272.57 188.15,280.21 188.29,273.96 188.44,277.53 188.59,275.9 188.74,278.79 188.88,274.42 189.03,278.19 189.18,272.4 189.33,277.28 189.47,273.77 189.62,276.71 189.77,273.44 189.91,277.13 190.06,273.67 190.21,277.88 190.36,276.85 190.5,276.1 190.65,275.57 190.8,276.38 190.95,274.98 191.09,277.92 191.24,275.93 191.39,277.41 191.54,275.34 191.68,278.42 191.83,276.5 191.98,276.6 192.13,274.75 192.27,278.06 192.42,274.33 192.57,275.69 192.72,275.47 192.86,277.23 193.01,276.3 193.16,278.16 193.31,274.4 193.45,278.23 193.6,276.22 193.75,278.48 193.9,274.93 194.04,275.99 194.19,274.62 194.34,278.01 194.49,275.08 194.63,275.52 194.78,273.08 194.93,277.1 195.07,273.58 195.22,278.53 195.37,273.43 195.52,276.58 195.66,275.91 195.81,277.64 195.96,276.78 196.11,274.95 196.25,274.2 196.4,279.46 196.55,275.38 196.7,277.05 196.84,275.38 196.99,278.83 197.14,274.49 197.29,278.09 197.43,275.99 197.58,277.33 197.73,276.86 197.88,277.78 198.02,273.54 198.17,279.12 198.32,276.2 198.47,278.26 198.61,277.15 198.76,279.01 198.91,273.61 199.06,277.95 199.2,274.27 199.35,277.68 199.5,274.45 199.65,278.47 199.79,274.01 199.94,277.55 200.09,275.69 200.23,278.6 200.38,275.7 200.53,276.26 200.68,274.66 200.82,278.64 200.97,273.59 201.12,275.42 201.27,273.31 201.41,277.16 201.56,276.06 201.71,277.9 201.86,274.4 202,276.81 202.15,273.59 202.3,277.64 202.45,273.74 202.59,278.54 202.74,274.04 202.89,275.98 203.04,276.14 203.18,278.51 203.33,274.65 203.48,277.69 203.63,275.6 203.77,277.24 203.92,274.33 204.07,276.69 204.22,276.72 204.36,276.96 204.51,276.33 204.66,279.04 204.81,275.09 204.95,276.14 205.1,275.62 205.25,278.79 205.39,276.21 205.54,277.87 205.69,274.55 205.84,277.55 205.98,274.3 206.13,274.9 206.28,273.49 206.43,276.92 206.57,274.92 206.72,277.49 206.87,273.4 207.02,278.27 207.16,275.81 207.31,277.77 207.46,275.13 207.61,277.63 207.75,274.71 207.9,277.42 208.05,274.02 208.2,277.1 208.34,276.67 208.49,278.65 208.64,275.34 208.79,276.9 208.93,275.34 209.08,277.23 209.23,274.97 209.38,275.57 209.52,274.16 209.67,276.87 209.82,274.41 209.97,276.63 210.11,274.09 210.26,278.11 210.41,276.72 210.55,277.97 210.7,274.65 210.85,278.56 211,276.37 211.14,277.95 211.29,274.1 211.44,278.99 211.59,274.13 211.73,278.38 211.88,274.73 212.03,276.53 212.18,272.54 212.32,277.25 212.47,273.2 212.62,276.74 212.77,274.76 212.91,276.99 213.06,276.55 213.21,276.04 213.36,275.49 213.5,278.62 213.65,275.16 213.8,277.68 213.95,276.32 214.09,276.72 214.24,275.71 214.39,278.47 214.54,276.4 214.68,278.63 214.83,274.12 214.98,277.07 215.13,276.82 215.27,278.27 215.42,276.56 215.57,276.93 215.72,273.33 215.86,279.08 216.01,275.31 216.16,276.21 216.3,275.69 216.45,276.48 216.6,274.59 216.75,278.3 216.89,274.12 217.04,277.37 217.19,277.02 217.34,277.92 217.48,275.93 217.63,276.64 217.78,274.86 217.93,278.89 218.07,274.65 218.22,276.88 218.37,274.66 218.52,278.51 218.66,274.94 218.81,276.42 218.96,274.56 219.11,279.36 219.25,274.85 219.4,278.14 219.55,271.94 219.7,276.38 219.84,275.16 219.99,276.62 220.14,274.41 220.29,277.53 220.43,274.74 220.58,276.23 220.73,274.85 220.88,275.48 221.02,273.47 221.17,277.36 221.32,274.31 221.46,278 221.61,275.03 221.76,275.2 221.91,276.12 222.05,275.66 222.2,275.1 222.35,277.64 222.5,276.03 222.64,276.79 222.79,274.26 222.94,276.07 223.09,273.67 223.23,279.21 223.38,274.34 223.53,276.53 223.68,275.57 223.82,278.33 223.97,275.05 224.12,277.71 224.27,276.25 224.41,277.73 224.56,274.6 224.71,277.81 224.86,274.52 225,277.14 225.15,274.29 225.3,277.78 225.45,275.44 225.59,277.07 225.74,274.78 225.89,278.11 226.04,276.19 226.18,278.12 226.33,276.56 226.48,275.9 226.62,276.01 226.77,277.43 226.92,275.1 227.07,278.51 227.21,276.58 227.36,277.42 227.51,275.75 227.66,276.16 227.8,274.57 227.95,278.19 228.1,273.5 228.25,276.64 228.39,272.75 228.54,276.92 228.69,275.43 228.84,278.02 228.98,275.67 229.13,277.6 229.28,276.4 229.43,278.26 229.57,274.76 229.72,277.58 229.87,275.8 230.02,278.25 230.16,274.42 230.31,278.79" fill="none" stroke="#EE5518" stroke-width="1.3" stroke-linejoin="round" clip-path="url(#clipc)"/>
<polyline points="38.8,448.22 38.9,448.5 38.99,447.93 39.09,447.58 39.18,447.2 39.28,447.74 39.37,448.09 39.47,448.21 39.57,447.41 39.66,446.94 39.76,447.66 39.85,448.45 39.95,448.3 40.05,446.96 40.14,447.69 40.24,448.71 40.33,447.84 40.43,448.41 40.52,448.13 40.62,448.06 40.72,448.18 40.81,447.51 40.91,447.83 41,448.11 41.1,447.58 41.2,447.36 41.29,448.66 41.39,447.94 41.48,448.32 41.58,447.89 41.67,448.48 41.77,447.79 41.87,447.82 41.96,447.96 42.06,448.35 42.15,448.01 42.25,448.37 42.34,448.51 42.44,447.68 42.54,448.38 42.63,447.18 42.73,447.42 42.82,448.75 42.92,447.66 43.02,448.38 43.11,447.78 43.21,447.78 43.3,448.75 43.4,447.92 43.49,447.93 43.59,447.29 43.69,448.42 43.78,447.41 43.88,448.38 43.97,447.97 44.07,448.24 44.16,447.04 44.26,447.5 44.36,446.75 44.45,447.46 44.55,447.36 44.64,447.36 44.74,448.12 44.84,447.84 44.93,447.09 45.03,448.01 45.12,447.7 45.22,447.81 45.31,447.48 45.41,447.99 45.51,447.88 45.6,447.67 45.7,447.75 45.79,448.26 45.89,447.33 45.99,448.48 46.08,448.43 46.18,448.48 46.27,447.29 46.37,447.99 46.46,448.31 46.56,448.4 46.66,447.58 46.75,448.36 46.85,448.47 46.94,447.48 47.04,448.43 47.13,447.97 47.23,447.8 47.33,448.03 47.42,447.83 47.52,447.1 47.61,448.07 47.71,448.46 47.81,448.75 47.9,447.91 48,447.99 48.09,447.66 48.19,448.04 48.28,448.05 48.38,448.18 48.48,448.07 48.57,447.72 48.67,448 48.76,447.75 48.86,446.8 48.96,447.55 49.05,448.63 49.15,446.89 49.24,447.62 49.34,448.3 49.43,447.32 49.53,447.79 49.63,448.12 49.72,448.13 49.82,448.32 49.91,447.77 50.01,447.24 50.1,447.97 50.2,447.58 50.3,446.81 50.39,448.44 50.49,447.66 50.58,447.96 50.68,448.36 50.78,448.34 50.87,447.81 50.97,447.57 51.06,448.08 51.16,447.77 51.25,447.42 51.35,447.64 51.45,447.34 51.54,447.56 51.64,447.54 51.73,446.84 51.83,447.47 51.93,447.73 52.02,447.43 52.12,448.28 52.21,447.98 52.31,447.38 52.4,447.47 52.5,446.98 52.6,447.79 52.69,448.57 52.79,446.77 52.88,447.22 52.98,448.36 53.07,447.08 53.17,447.78 53.27,448.75 53.36,448.02 53.46,448.07 53.55,446.96 53.65,448.22 53.75,447.93 53.84,447.95 53.94,448 54.03,448.28 54.13,447.68 54.22,447.23 54.32,447.47 54.42,448.29 54.51,448.41 54.61,447.74 54.7,448.17 54.8,448.13 54.89,448.68 54.99,446.77 55.09,447.32 55.18,448.31 55.28,447.32 55.37,447.09 55.47,448.75 55.57,448.09 55.66,448 55.76,447.46 55.85,447.86 55.95,447.92 56.04,447.83 56.14,446.82 56.24,446.75 56.33,448.08 56.43,448.29 56.52,446.75 56.62,448.32 56.72,448.1 56.81,447.78 56.91,447.55 57,447.26 57.1,447.59 57.19,448.26 57.29,447.53 57.39,447.67 57.48,446.81 57.58,447.81 57.67,448.5 57.77,448.35 57.86,447.04 57.96,448.08 58.06,448.75 58.15,448.11 58.25,447.8 58.34,447.17 58.44,448.33 58.54,447.45 58.63,447.38 58.73,448.17 58.82,447.9 58.92,446.87 59.01,446.89 59.11,447.35 59.21,447.63 59.3,447.2 59.4,447.87 59.49,447.85 59.59,448.25 59.69,447.8 59.78,447.84 59.88,446.75 59.97,447.9 60.07,447.13 60.16,447.1 60.26,447.9 60.36,447.18 60.45,448.75 60.55,447.75 60.64,447.35 60.74,448.75 60.83,448.41 60.93,447.24 61.03,447.94 61.12,448.38 61.22,448 61.31,448.09 61.41,447.42 61.51,447.56 61.6,447.95 61.7,448.15 61.79,447.83 61.89,447.1 61.98,447.62 62.08,447.46 62.18,447.88 62.27,448.48 62.37,448.17 62.46,447.46 62.56,447.75 62.65,448.28 62.75,448.65 62.85,447.74 62.94,447.98 63.04,447.98 63.13,447.97 63.23,447.65 63.33,447.65 63.42,447.29 63.52,447.31 63.61,447.1 63.71,447.38 63.8,447.98 63.9,447.83 64,447.54 64.09,447.96 64.19,447.51 64.28,447.19 64.38,448.22 64.48,448.73 64.57,447.17 64.67,447.79 64.76,447.43 64.86,448.5 64.95,446.89 65.05,447.41 65.15,447.87 65.24,447.99 65.34,447.74 65.43,447.89 65.53,447.95 65.62,448.39 65.72,447.14 65.82,447.82 65.91,447.76 66.01,447.75 66.1,448.75 66.2,447.52 66.3,447.97 66.39,447.95 66.49,447.76 66.58,448.31 66.68,447.36 66.77,448.17 66.87,448.28 66.97,448.25 67.06,447.72 67.16,447.41 67.25,448.11 67.35,448.59 67.45,447.24 67.54,448.36 67.64,447.17 67.73,447.83 67.83,448.17 67.92,448.14 68.02,447.56 68.12,447.33 68.21,447.9 68.31,447.3 68.4,446.75 68.5,447.91 68.59,448.41 68.69,448.36 68.79,448.53 68.88,448.14 68.98,448.18 69.07,448.5 69.17,447.52 69.27,448.75 69.36,448.5 69.46,446.75 69.55,447.25 69.65,447.52 69.74,447.56 69.84,446.87 69.94,447.52 70.03,447.76 70.13,448.45 70.22,447.84 70.32,448.19 70.42,448.17 70.51,448.18 70.61,447.82 70.7,447.97 70.8,447.34 70.89,448.5 70.99,447.89 71.09,446.82 71.18,447.78 71.28,447.17 71.37,447.2 71.47,447.11 71.56,447.41 71.66,448.53 71.76,447.94 71.85,448 71.95,448.62 72.04,448.04 72.14,448.46 72.24,448.68 72.33,447.69 72.43,447.82 72.52,448.16 72.62,448.3 72.71,448.08 72.81,448.01 72.91,448.01 73,447.83 73.1,448.03 73.19,447.6 73.29,447.52 73.38,447.61 73.48,448.15 73.58,448.12 73.67,447.57 73.77,447.9 73.86,447.82 73.96,448.75 74.06,448.75 74.15,447.62 74.25,447.63 74.34,447.07 74.44,447.42 74.53,447.68 74.63,447.79 74.73,448.55 74.82,447.34 74.92,448.12 75.01,447.54 75.11,447.69 75.21,447.66 75.3,447.33 75.4,448.06 75.49,448 75.59,448.25 75.68,448 75.78,446.92 75.88,447.99 75.97,447.18 76.07,447.37 76.16,447.42 76.26,447.38 76.35,448.33 76.45,447.6 76.55,446.96 76.64,448.17 76.74,447.82 76.83,448.16 76.93,447.63 77.03,448.37 77.12,446.95 77.22,448 77.31,448.61 77.41,446.86 77.5,447.29 77.6,447.53 77.7,447.52 77.79,447.99 77.89,447.92 77.98,447.42 78.08,447.32 78.18,447.31 78.27,447.69 78.37,448.05 78.46,447.9 78.56,447.22 78.65,447.04 78.75,447.98 78.85,448.05 78.94,447.14 79.04,447.42 79.13,447.43 79.23,448.49 79.32,448 79.42,448.07 79.52,447.69 79.61,448.69 79.71,447.13 79.8,447.64 79.9,447.57 80,448.42 80.09,447.81 80.19,447.1 80.28,448.63 80.38,447.64 80.47,447.43 80.57,448.16 80.67,447.37 80.76,447.97 80.86,447.15 80.95,447.52 81.05,447.68 81.14,446.75 81.24,447.36 81.34,447.11 81.43,448.43 81.53,448.14 81.62,447.36 81.72,447.32 81.82,447.83 81.91,447.39 82.01,448.36 82.1,447.69 82.2,448.4 82.29,447.62 82.39,448.06 82.49,448.14 82.58,447.77 82.68,446.84 82.77,448.33 82.87,448.12 82.97,447.24 83.06,448.02 83.16,446.87 83.25,447.68 83.35,447.75 83.44,447.61 83.54,446.88 83.64,447.46 83.73,447.53 83.83,447.67 83.92,448.62 84.02,448.27 84.11,447.02 84.21,447.37 84.31,447.53 84.4,447.46 84.5,448.09 84.59,447.62 84.69,448.27 84.79,447.59 84.88,448.18 84.98,447.91 85.07,447.56 85.17,447.97 85.26,447.46 85.36,447.56 85.46,447.61 85.55,447.1 85.65,448.58 85.74,448.64 85.84,447.48 85.94,447.3 86.03,446.75 86.13,447.4 86.22,447.36 86.32,448.26 86.41,447.4 86.51,447.45 86.61,448.36 86.7,448.27 86.8,447.86 86.89,447.65 86.99,448.75 87.08,447.76 87.18,447.68 87.28,447.89 87.37,447.66 87.47,447.56 87.56,448.33 87.66,447.58 87.76,447.93 87.85,448.3 87.95,447.69 88.04,447.02 88.14,448.57 88.23,448.67 88.33,448.67 88.43,446.76 88.52,447.93 88.62,447.83 88.71,448.21 88.81,448.3 88.91,448.75 89,447.71 89.1,447.66 89.19,448.75 89.29,448.35 89.38,448.19 89.48,447.81 89.58,447.67 89.67,447.21 89.77,447.08 89.86,447.24 89.96,447.09 90.05,448.41 90.15,448.09 90.25,447.2 90.34,447.65 90.44,447.79 90.53,448.75 90.63,448.75 90.73,447.42 90.82,447.62 90.92,447.96 91.01,448.02 91.11,448.71 91.2,447.6 91.3,447.26 91.4,446.94 91.49,447.77 91.59,447.91 91.68,448.38 91.78,447.16 91.87,446.9 91.97,448.12 92.07,447.65 92.16,447.75 92.26,448.1 92.35,448.75 92.45,447.99 92.55,447.48 92.64,448.56 92.74,448.24 92.83,448.75 92.93,447.12 93.02,447.54 93.12,447.78 93.22,447.94 93.31,448.14 93.41,447.84 93.5,447.96 93.6,447.93 93.7,447.82 93.79,447.73 93.89,446.98 93.98,448.56 94.08,447.66 94.17,448.13 94.27,448.4 94.37,448.75 94.46,447.48 94.56,448.32 94.65,448.2 94.75,447.56 94.84,448.38 94.94,447.79 95.04,447.84 95.13,447.38 95.23,447.27 95.32,448.26 95.42,447.32 95.52,447.86 95.61,447.74 95.71,447.92 95.8,447.4 95.9,448.44 95.99,447.67 96.09,447.19 96.19,447.95 96.28,446.75 96.38,448.19 96.47,447.69 96.57,448.06 96.67,448.13 96.76,448.39 96.86,448.09 96.95,447.83 97.05,448.23 97.14,447.34 97.24,447 97.34,448.61 97.43,447.37 97.53,447.71 97.62,447.68 97.72,446.75 97.81,447.17 97.91,447.63 98.01,447.71 98.1,448.75 98.2,447.39 98.29,448.19 98.39,447.71 98.49,447.75 98.58,447.29 98.68,446.75 98.77,447.28 98.87,447.13 98.96,447.92 99.06,447.56 99.16,447.4 99.25,448.56 99.35,446.75 99.44,448.18 99.54,448.47 99.64,446.94 99.73,446.75 99.83,448.17 99.92,448.12 100.02,446.75 100.11,447.74 100.21,448.75 100.31,448.12 100.4,446.75 100.5,447.45 100.59,447.4 100.69,447.16 100.78,447.44 100.88,447.98 100.98,448.64 101.07,447.57 101.17,448.39 101.26,447.83 101.36,446.87 101.46,447.52 101.55,447.77 101.65,447.77 101.74,447.42 101.84,447.32 101.93,448.49 102.03,447.7 102.13,446.9 102.22,447.4 102.32,448.2 102.41,448.16 102.51,449.07 102.6,448.63 102.7,445.57 102.8,447.92 102.89,449.57 102.99,449.19 103.08,448.11 103.18,448.13 103.28,449.02 103.37,450.71 103.47,445.17 103.56,440.93 103.66,450.53 103.75,450.59 103.85,440.98 103.95,457.21 104.04,452.01 104.14,450.76 104.23,446.37 104.33,450.33 104.43,456.59 104.52,444.51 104.62,461.23 104.71,468.72 104.81,470.82 104.9,437.77 105,472.28 105.1,441.19 105.19,437.67 105.29,435.44 105.38,450.51 105.48,456.44 105.57,446.43 105.67,457.42 105.77,468.93 105.86,426.9 105.96,462.89 106.05,417.1 106.15,438.89 106.25,455.77 106.34,440.03 106.44,425.68 106.53,472.89 106.63,464.88 106.72,467.37 106.82,444.69 106.92,440.08 107.01,447.24 107.11,462.02 107.2,458.24 107.3,424.09 107.4,425.24 107.49,445.12 107.59,474.86 107.68,434.69 107.78,441.74 107.87,442.42 107.97,410.67 108.07,430.03 108.16,469.09 108.26,469.06 108.35,417.13 108.45,443.19 108.54,427.75 108.64,450.23 108.74,469.62 108.83,440.29 108.93,409.98 109.02,438.4 109.12,473.1 109.22,453.68 109.31,458.14 109.41,441.79 109.5,420.89 109.6,398.41 109.69,439.97 109.79,456.24 109.89,443.46 109.98,444.98 110.08,456.26 110.17,444.74 110.27,445.32 110.36,476.13 110.46,430.85 110.56,454.82 110.65,471.17 110.75,432.38 110.84,458.11 110.94,399.42 111.04,432.77 111.13,443.36 111.23,465.32 111.32,456.18 111.42,423.18 111.51,463.66 111.61,425.6 111.71,495.5 111.8,440.42 111.9,424.24 111.99,436.84 112.09,445.89 112.19,419.21 112.28,468.31 112.38,471.7 112.47,443.06 112.57,403.93 112.66,434.47 112.76,450.94 112.86,437.93 112.95,434.19 113.05,478.61 113.14,495.5 113.24,472.82 113.33,485.17 113.43,461.09 113.53,477.48 113.62,468.63 113.72,434.41 113.81,443.23 113.91,446.4 114.01,402 114.1,457.76 114.2,455.61 114.29,412.24 114.39,493.86 114.48,488.4 114.58,411.02 114.68,436.52 114.77,429.54 114.87,428.52 114.96,421.47 115.06,457.63 115.16,447.15 115.25,474.4 115.35,441.41 115.44,438.92 115.54,456.92 115.63,427.36 115.73,395.16 115.83,475.16 115.92,422.93 116.02,419.88 116.11,416.57 116.21,465.74 116.3,413.02 116.4,427.23 116.5,447.67 116.59,453.33 116.69,437.79 116.78,419.6 116.88,420.84 116.98,395.16 117.07,453.23 117.17,427.53 117.26,455.1 117.36,389.46 117.45,440.26 117.55,459.44 117.65,478.61 117.74,463.94 117.84,437.35 117.93,404.98 118.03,423.3 118.13,475.21 118.22,456.58 118.32,442.96 118.41,447.5 118.51,442.79 118.6,424.34 118.7,439.54 118.8,463.62 118.89,495.5 118.99,454.79 119.08,490.25 119.18,450.55 119.27,438.23 119.37,482.01 119.47,450.85 119.56,456.41 119.66,399.55 119.75,435.99 119.85,495.5 119.95,436.73 120.04,437.63 120.14,453.98 120.23,458.69 120.33,433.21 120.42,431.64 120.52,437.74 120.62,475.49 120.71,456.07 120.81,490.58 120.9,489.04 121,464.51 121.09,477.61 121.19,460.84 121.29,395.16 121.38,437.21 121.48,473.62 121.57,500.44 121.67,472.62 121.77,488.42 121.86,495.5 121.96,431.88 122.05,463.66 122.15,439.47 122.24,395.16 122.34,443.94 122.44,448 122.53,441.9 122.63,458.1 122.72,472.86 122.82,456.68 122.92,421 123.01,458.15 123.11,487.07 123.2,483.82 123.3,478.06 123.39,450.62 123.49,438.17 123.59,438.11 123.68,419.35 123.78,455.87 123.87,428.34 123.97,441.57 124.06,431.36 124.16,495.5 124.26,416.77 124.35,490.07 124.45,478.89 124.54,428.62 124.64,459.16 124.74,402.29 124.83,444.46 124.93,475.63 125.02,444.42 125.12,459.01 125.21,407.53 125.31,405.45 125.41,428.85 125.5,458.92 125.6,445.98 125.69,420.55 125.79,469.22 125.89,469.03 125.98,425.73 126.08,428.69 126.17,454.17 126.27,455.12 126.36,495.37 126.46,417.26 126.56,451.05 126.65,484.54 126.75,476.58 126.84,470.43 126.94,405.52 127.03,430.88 127.13,480.63 127.23,402.91 127.32,415.72 127.42,473.06 127.51,490.55 127.61,425.34 127.71,461.75 127.8,450.92 127.9,459.71 127.99,419.5 128.09,414.89 128.18,429.95 128.28,451.09 128.38,442.15 128.47,434.53 128.57,481.1 128.66,421.78 128.76,454.4 128.85,442.41 128.95,444.96 129.05,429.47 129.14,426.18 129.24,407.44 129.33,454.81 129.43,465.89 129.53,444.88 129.62,460.75 129.72,430.14 129.81,463.76 129.91,444.77 130,428.45 130.1,426.93 130.2,443.23 130.29,418.86 130.39,421.35 130.48,481.6 130.58,440.02 130.68,443.61 130.77,453.24 130.87,460.05 130.96,446.29 131.06,439.35 131.15,441.57 131.25,419.55 131.35,427.05 131.44,458.96 131.54,462.38 131.63,429.96 131.73,461.12 131.82,443.69 131.92,437.43 132.02,426.25 132.11,436.6 132.21,417.86 132.3,456.27 132.4,433.47 132.5,460.27 132.59,443.22 132.69,444.48 132.78,465.72 132.88,484.37 132.97,427.68 133.07,439.64 133.17,444.12 133.26,461.1 133.36,453.68 133.45,437.77 133.55,446.56 133.65,423.57 133.74,444.61 133.84,463.55 133.93,434.67 134.03,459.78 134.12,442.64 134.22,483.56 134.32,454.11 134.41,435.83 134.51,460.25 134.6,447.69 134.7,435.26 134.79,445.82 134.89,411.16 134.99,452.44 135.08,450.84 135.18,450.47 135.27,484.37 135.37,478.18 135.47,436.49 135.56,453.89 135.66,419.22 135.75,448.83 135.85,450.68 135.94,426.5 136.04,441.68 136.14,414.89 136.23,468.58 136.33,438.37 136.42,433.53 136.52,436.01 136.62,423.96 136.71,426.4 136.81,446.39 136.9,458.33 137,427.23 137.09,445.92 137.19,427.5 137.29,419.46 137.38,442.58 137.48,464.73 137.57,451.61 137.67,430.49 137.76,451.1 137.86,422.47 137.96,445.34 138.05,443.39 138.15,458.63 138.24,447.96 138.34,423.86 138.44,452.86 138.53,452.71 138.63,461.74 138.72,430.32 138.82,476.82 138.91,459.37 139.01,427.87 139.11,417.59 139.2,450.82 139.3,426.94 139.39,484.37 139.49,431.18 139.58,440.59 139.68,471.42 139.78,483.16 139.87,457.03 139.97,441.06 140.06,438.69 140.16,444.14 140.26,429.78 140.35,431.15 140.45,477.15 140.54,455.09 140.64,458.07 140.73,423.1 140.83,457.86 140.93,423.13 141.02,444.35 141.12,400.39 141.21,447.66 141.31,446.36 141.41,449.18 141.5,442.84 141.6,398.17 141.69,459.06 141.79,468.47 141.88,451.49 141.98,429.2 142.08,472.09 142.17,425.68 142.27,426.41 142.36,450.88 142.46,453.19 142.55,467.32 142.65,453.82 142.75,467.67 142.84,413.94 142.94,403.86 143.03,454.16 143.13,447.79 143.23,495.5 143.32,460.68 143.42,437.87 143.51,439.63 143.61,443.6 143.7,424.61 143.8,444.47 143.9,457.09 143.99,404.79 144.09,495.5 144.18,477.36 144.28,466.38 144.38,466.2 144.47,467.42 144.57,453.03 144.66,465.9 144.76,448.71 144.85,431.75 144.95,446.57 145.05,443.86 145.14,471.96 145.24,477.24 145.33,455.12 145.43,423.16 145.52,437.61 145.62,418.97 145.72,421.45 145.81,418.05 145.91,468.68 146,415.04 146.1,427.66 146.2,395.16 146.29,432.07 146.39,438.97 146.48,450.89 146.58,443.18 146.67,490.77 146.77,454.03 146.87,448.49 146.96,421.57 147.06,464.66 147.15,444.02 147.25,399.7 147.34,461.33 147.44,425.43 147.54,461.44 147.63,450.09 147.73,435.43 147.82,424.4 147.92,460.35 148.02,474.18 148.11,407.82 148.21,442.59 148.3,426.74 148.4,423.62 148.49,427.68 148.59,454.28 148.69,451.01 148.78,488 148.88,442.76 148.97,459.7 149.07,448.05 149.17,398.75 149.26,429.54 149.36,446.08 149.45,482.88 149.55,428.49 149.64,407.84 149.74,468.87 149.84,436.41 149.93,460.91 150.03,451.4 150.12,456.96 150.22,489.29 150.31,460.78 150.41,489.52 150.51,411.53 150.6,420.46 150.7,446.35 150.79,440.25 150.89,445.99 150.99,442.34 151.08,442.41 151.18,453.68 151.27,451.8 151.37,482.29 151.46,473.41 151.56,491.67 151.66,442.1 151.75,457.1 151.85,398.16 151.94,452.37 152.04,456.69 152.14,436.27 152.23,420.83 152.33,399.55 152.42,422.25 152.52,462.63 152.61,451.8 152.71,420.25 152.81,440.72 152.9,426.71 153,449.27 153.09,406 153.19,409.96 153.28,418.24 153.38,443.21 153.48,488.78 153.57,481.99 153.67,438.79 153.76,430.33 153.86,495.5 153.96,459.36 154.05,417.47 154.15,422.53 154.24,459.9 154.34,430.69 154.43,446.3 154.53,452.68 154.63,418.23 154.72,417.72 154.82,460.53 154.91,471.33 155.01,480.64 155.11,483.56 155.2,412.67 155.3,398.72 155.39,441.47 155.49,401.74 155.58,464.46 155.68,448.64 155.78,423.29 155.87,438.72 155.97,447.73 156.06,489.55 156.16,484.14 156.25,457.44 156.35,461.02 156.45,448.69 156.54,463.18 156.64,452.38 156.73,445.23 156.83,433.56 156.93,445.11 157.02,460.88 157.12,453.95 157.21,423.6 157.31,452.12 157.4,471.65 157.5,472.7 157.6,491.67 157.69,432.54 157.79,415.52 157.88,455.16 157.98,411.65 158.07,455.85 158.17,452.92 158.27,461.53 158.36,433.56 158.46,420.16 158.55,447.67 158.65,459.87 158.75,486.57 158.84,443.27 158.94,455.86 159.03,452.25 159.13,463.26 159.22,469.53 159.32,458.13 159.42,435.7 159.51,403.93 159.61,447.5 159.7,438.95 159.8,452.28 159.9,450.43 159.99,482.2 160.09,424.69 160.18,432.03 160.28,410.05 160.37,462.92 160.47,443.99 160.57,470.85 160.66,441.12 160.76,450.41 160.85,429.99 160.95,450.97 161.04,430.82 161.14,459.77 161.24,432.06 161.33,454.95 161.43,458.38 161.52,444.98 161.62,437.82 161.72,483.18 161.81,485.89 161.91,442.39 162,448.64 162.1,495.5 162.19,490.63 162.29,466.77 162.39,439.02 162.48,441.97 162.58,421.48 162.67,417.29 162.77,395.16 162.87,483.92 162.96,448.16 163.06,419.97 163.15,479.16 163.25,483.09 163.34,442.09 163.44,419.17 163.54,415.26 163.63,492.12 163.73,477.72 163.82,449.54 163.92,460.32 164.01,439.11 164.11,443.81 164.21,403.81 164.3,448.64 164.4,442.66 164.49,445.25 164.59,420.44 164.69,473.73 164.78,437.87 164.88,465.4 164.97,480.53 165.07,419.33 165.16,434.73 165.26,414.5 165.36,441.06 165.45,431.99 165.55,443.81 165.64,433.93 165.74,456.21 165.83,408.34 165.93,466.71 166.03,408.68 166.12,451.19 166.22,427.58 166.31,443.73 166.41,437.01 166.51,414.47 166.6,443.63 166.7,466.9 166.79,441.59 166.89,432.96 166.98,486.81 167.08,426.3 167.18,424.04 167.27,483.15 167.37,449.85 167.46,429.98 167.56,470.11 167.66,455.16 167.75,453.5 167.85,435.65 167.94,424.82 168.04,447.34 168.13,445.51 168.23,428.88 168.33,436.37 168.42,448.85 168.52,421.66 168.61,473.3 168.71,443.97 168.8,454.58 168.9,456.06 169,443.24 169.09,446.15 169.19,411.31 169.28,435.41 169.38,440.67 169.48,417.96 169.57,429.25 169.67,479.03 169.76,444.84 169.86,434.32 169.95,457.14 170.05,442.04 170.15,485.09 170.24,440.86 170.34,473.55 170.43,477.51 170.53,455.88 170.63,443.53 170.72,426.2 170.82,451.48 170.91,458.74 171.01,433.17 171.1,446.68 171.2,420.12 171.3,448.57 171.39,474.92 171.49,458.75 171.58,460.53 171.68,465.96 171.77,457.35 171.87,455.92 171.97,450.81 172.06,453.68 172.16,443.06 172.25,443.24 172.35,445.79 172.45,445.7 172.54,463.96 172.64,461.42 172.73,454.45 172.83,445.76 172.92,457.55 173.02,450.28 173.12,446.23 173.21,437.25 173.31,446.45 173.4,449.97 173.5,443.65 173.6,447.03 173.69,448.71 173.79,444.28 173.88,450.47 173.98,447.21 174.07,447.55 174.17,445.47 174.27,450.52 174.36,450.7 174.46,448.61 174.55,448.33 174.65,447.72 174.74,448.43 174.84,447.13 174.94,446.84 175.03,447.52 175.13,448.97 175.22,446.69 175.32,449.06 175.42,447.95 175.51,447.18 175.61,448.23 175.7,446.91 175.8,446.48 175.89,446.71 175.99,447.5 176.09,447.12 176.18,448.16 176.28,447.53 176.37,447.49 176.47,447.74 176.56,447.7 176.66,447.95 176.76,449.06 176.85,447.53 176.95,447.59 177.04,446.41 177.14,447.31 177.24,447.76 177.33,447.2 177.43,447.38 177.52,447.82 177.62,448.07 177.71,448.82 177.81,447.72 177.91,446.68 178,449.06 178.1,448.46 178.19,447.28 178.29,447.67 178.39,447.52 178.48,449.05 178.58,448.21 178.67,447.46 178.77,447.4 178.86,447.6 178.96,448.41 179.06,447.43 179.15,448.63 179.25,448.45 179.34,448.6 179.44,446.82 179.53,448.09 179.63,447.77 179.73,449.05 179.82,447.06 179.92,447.49 180.01,448.94 180.11,448.91 180.21,446.67 180.3,448.45 180.4,446.55 180.49,448.13 180.59,449.04 180.68,447.05 180.78,447.46 180.88,447.34 180.97,448.15 181.07,447.95 181.16,447.16 181.26,448.37 181.36,449.04 181.45,447.19 181.55,448.23 181.64,446.94 181.74,448.14 181.83,448.1 181.93,447.98 182.03,449.03 182.12,447.01 182.22,448.24 182.31,447.94 182.41,446.82 182.5,447.73 182.6,447.2 182.7,447.58 182.79,447.29 182.89,447.62 182.98,447.03 183.08,447.95 183.18,447.5 183.27,448.29 183.37,447.01 183.46,449.03 183.56,447.68 183.65,447.56 183.75,447.58 183.85,447.81 183.94,446.91 184.04,446.45 184.13,448.21 184.23,449.02 184.32,448.54 184.42,448.35 184.52,447.9 184.61,447.85 184.71,447.08 184.8,448.1 184.9,447.83 185,447.73 185.09,448.4 185.19,448.02 185.28,446.46 185.38,447.87 185.47,448.45 185.57,449.01 185.67,447.11 185.76,448.02 185.86,448.23 185.95,446.46 186.05,446.85 186.15,448.95 186.24,448.04 186.34,447.14 186.43,447.25 186.53,448.55 186.62,446.63 186.72,446.58 186.82,448.55 186.91,448.98 187.01,448.73 187.1,447.37 187.2,447.09 187.29,447.69 187.39,448.21 187.49,447.87 187.58,447.44 187.68,448.62 187.77,448.94 187.87,447.87 187.97,447 188.06,447.69 188.16,447.69 188.25,448.26 188.35,447.21 188.44,448.94 188.54,447.86 188.64,448.21 188.73,447.92 188.83,448.43 188.92,447.32 189.02,447.87 189.12,448.21 189.21,447.48 189.31,447.85 189.4,448.16 189.5,448.21 189.59,447.31 189.69,448.44 189.79,447.97 189.88,448 189.98,447.62 190.07,447.95 190.17,446.49 190.26,448.97 190.36,447.44 190.46,447.85 190.55,447.1 190.65,448.89 190.74,447.03 190.84,448.73 190.94,447.37 191.03,447.49 191.13,447.81 191.22,448.31 191.32,448.36 191.41,447.76 191.51,448.31 191.61,448.98 191.7,448.98 191.8,447.31 191.89,447.29 191.99,447.49 192.09,447.79 192.18,447.58 192.28,447.5 192.37,447.66 192.47,448.33 192.56,448.29 192.66,448.56 192.76,447.72 192.85,448.46 192.95,447.92 193.04,446.97 193.14,448.06 193.23,447.19 193.33,446.81 193.43,448.97 193.52,448.74 193.62,447.51 193.71,448.27 193.81,447.47 193.91,447.36 194,448.14 194.1,447.28 194.19,446.69 194.29,447.19 194.38,448.37 194.48,447.9 194.58,448.15 194.67,446.8 194.77,447.93 194.86,448.24 194.96,447.77 195.05,447.47 195.15,448.04 195.25,447.73 195.34,447.8 195.44,447.33 195.53,447.18 195.63,447.62 195.73,448.09 195.82,447.54 195.92,448.36 196.01,447.11 196.11,447.57 196.2,447.64 196.3,448.95 196.4,446.53 196.49,446.87 196.59,446.98 196.68,447.71 196.78,447.36 196.88,446.53 196.97,448.22 197.07,447.31 197.16,447.4 197.26,447.69 197.35,447.55 197.45,448.39 197.55,447.36 197.64,448.6 197.74,446.61 197.83,447.26 197.93,448.3 198.02,448.94 198.12,447.7 198.22,447.44 198.31,448.39 198.41,446.71 198.5,447.59 198.6,448.05 198.7,448.63 198.79,447.83 198.89,447.88 198.98,447.35 199.08,447.1 199.17,447.73 199.27,447.46 199.37,446.86 199.46,447.36 199.56,447.91 199.65,447.36 199.75,448.08 199.85,447.47 199.94,447.72 200.04,448.43 200.13,447.37 200.23,447.7 200.32,447.3 200.42,448.58 200.52,447.06 200.61,447.04 200.71,447.97 200.8,447.81 200.9,447.72 200.99,447.77 201.09,447.24 201.19,448.2 201.28,448.47 201.38,447.91 201.47,446.59 201.57,448 201.67,448.38 201.76,448.33 201.86,447.66 201.95,447.04 202.05,448.22 202.14,447.66 202.24,447.64 202.34,447.49 202.43,447.68 202.53,447.13 202.62,447.35 202.72,448.15 202.81,446.57 202.91,448.61 203.01,448.58 203.1,447.14 203.2,447.66 203.29,447.93 203.39,447.65 203.49,447.36 203.58,448.04 203.68,448.17 203.77,448.42 203.87,448.3 203.96,448.27 204.06,447.08 204.16,447.61 204.25,447.45 204.35,448.12 204.44,447.14 204.54,448.73 204.64,447.49 204.73,447.36 204.83,448.14 204.92,448.41 205.02,447.47 205.11,448.22 205.21,448.33 205.31,447.8 205.4,448.46 205.5,447.87 205.59,446.59 205.69,448.05 205.78,447.24 205.88,448.42 205.98,447.74 206.07,447.95 206.17,447.89 206.26,447.33 206.36,446.59 206.46,447.86 206.55,447 206.65,447.58 206.74,447.34 206.84,448.07 206.93,448.21 207.03,447.91 207.13,448.25 207.22,447.79 207.32,448.42 207.41,447.79 207.51,447.68 207.61,446.7 207.7,446.76 207.8,447.48 207.89,448.09 207.99,447.43 208.08,447.3 208.18,447.91 208.28,448.29 208.37,448.86 208.47,447.81 208.56,446.64 208.66,447.91 208.75,447.56 208.85,447.57 208.95,447.5 209.04,447.33 209.14,448.88 209.23,447.88 209.33,447.56 209.43,447.84 209.52,447.07 209.62,448.01 209.71,447.24 209.81,446.74 209.9,447.93 210,447.77 210.1,447.96 210.19,447.33 210.29,448.87 210.38,448.64 210.48,447.95 210.58,447.27 210.67,447.43 210.77,448.26 210.86,446.83 210.96,447.71 211.05,448.14 211.15,447.46 211.25,447.01 211.34,447.81 211.44,448.67 211.53,448.1 211.63,447.72 211.72,447.22 211.82,448.36 211.92,447.62 212.01,448.47 212.11,447.73 212.2,448.55 212.3,448.04 212.4,448.66 212.49,448.34 212.59,448.7 212.68,448.86 212.78,447.06 212.87,447.08 212.97,447.49 213.07,447.98 213.16,446.92 213.26,447.93 213.35,447.52 213.45,447.11 213.54,447.64 213.64,446.91 213.74,447.85 213.83,447.85 213.93,447.69 214.02,448.43 214.12,448.39 214.22,447.31 214.31,448.76 214.41,447.11 214.5,447.6 214.6,447.08 214.69,447.32 214.79,447.42 214.89,446.76 214.98,447.8 215.08,447.82 215.17,447.11 215.27,448.14 215.37,447.11 215.46,447.36 215.56,448.05 215.65,448.49 215.75,448.84 215.84,446.69 215.94,448.62 216.04,448.45 216.13,447.27 216.23,447.49 216.32,447.64 216.42,447.72 216.51,448.01 216.61,448.29 216.71,448.19 216.8,447.43 216.9,447.15 216.99,447.1 217.09,447.79 217.19,448.83 217.28,447.48 217.38,447.86 217.47,448.83 217.57,446.98 217.66,447.65 217.76,447.8 217.86,447.66 217.95,447.7 218.05,447.63 218.14,447.7 218.24,447.75 218.34,447.44 218.43,447.57 218.53,446.67 218.62,447.68 218.72,448.05 218.81,448.1 218.91,447.54 219.01,447.69 219.1,447.62 219.2,447.87 219.29,447.86 219.39,447.33 219.48,446.99 219.58,447.56 219.68,447.82 219.77,448.41 219.87,448.41 219.96,447.73 220.06,447.9 220.16,447.82 220.25,448.38 220.35,447.83 220.44,448.81 220.54,448.44 220.63,448.21 220.73,447.44 220.83,448.12 220.92,448.3 221.02,447.63 221.11,447.84 221.21,447.27 221.31,447.6 221.4,447.67 221.5,447.89 221.59,447.42 221.69,448.2 221.78,448.64 221.88,447.29 221.98,448.06 222.07,447.77 222.17,447.45 222.26,447.23 222.36,448.8 222.45,448.38 222.55,447.12 222.65,448.74 222.74,447.54 222.84,448 222.93,448.29 223.03,447.87 223.13,448.73 223.22,447.58 223.32,447.15 223.41,448.59 223.51,448.17 223.6,447.14 223.7,447.6 223.8,447.98 223.89,447.02 223.99,448.72 224.08,447.95 224.18,447.75 224.27,447.98 224.37,447.37 224.47,448.72 224.56,447.78 224.66,448.23 224.75,447.15 224.85,447.23 224.95,448.21 225.04,448.4 225.14,447.83 225.23,448.27 225.33,448.11 225.42,447.57 225.52,448.05 225.62,446.82 225.71,447.77 225.81,448.09 225.9,448.41 226,448.09 226.1,447.21 226.19,447.51 226.29,447.03 226.38,447.1 226.48,447.5 226.57,448.18 226.67,447.89 226.77,447.77 226.86,448.7 226.96,447.63 227.05,448.36 227.15,447.85 227.24,448.08 227.34,447.49 227.44,446.73 227.53,448.45 227.63,447.81 227.72,446.73 227.82,448.3 227.92,447.92 228.01,447.86 228.11,447.64 228.2,448.67 228.3,447.64 228.39,447.48 228.49,446.74 228.59,447.84 228.68,448.11 228.78,447.73 228.87,448.76 228.97,447.62 229.07,446.97 229.16,447.82 229.26,447.82 229.35,447.93 229.45,447.72 229.54,448.46 229.64,446.98 229.74,448.04 229.83,448.04 229.93,446.92 230.02,447.78 230.12,448.02 230.21,446.92 230.31,447.7" fill="none" stroke="#EE5518" stroke-width="1.2" stroke-linejoin="round" clip-path="url(#clipe)"/>
<polyline points="38.8,447.48 38.9,447.98 38.99,448.35 39.09,447.73 39.18,447.32 39.28,447.94 39.37,447.67 39.47,447.55 39.57,447.7 39.66,447.77 39.76,447.54 39.85,447.72 39.95,447.97 40.05,447.44 40.14,447.52 40.24,447.66 40.33,447.55 40.43,448.35 40.52,447.7 40.62,447.77 40.72,448.35 40.81,447.25 40.91,447.67 41,447.93 41.1,447.91 41.2,447.7 41.29,447.79 41.39,448.32 41.48,447.92 41.58,447.64 41.67,447.58 41.77,447.5 41.87,448.14 41.96,447.99 42.06,447.66 42.15,447.99 42.25,447.71 42.34,448.06 42.44,447.59 42.54,447.76 42.63,447.59 42.73,447.77 42.82,448.04 42.92,448.18 43.02,447.76 43.11,447.98 43.21,448.27 43.3,447.96 43.4,447.52 43.49,447.37 43.59,447.52 43.69,447.33 43.78,447.9 43.88,447.82 43.97,448.09 44.07,448.03 44.16,447.25 44.26,447.63 44.36,447.56 44.45,447.25 44.55,447.25 44.64,448.06 44.74,447.45 44.84,448.02 44.93,447.44 45.03,448.35 45.12,448.08 45.22,448.07 45.31,447.25 45.41,448.35 45.51,447.4 45.6,447.41 45.7,447.73 45.79,447.49 45.89,447.25 45.99,447.69 46.08,447.86 46.18,447.32 46.27,447.51 46.37,448.15 46.46,447.71 46.56,447.68 46.66,448.15 46.75,448.09 46.85,447.99 46.94,448.17 47.04,447.6 47.13,447.67 47.23,448.35 47.33,447.91 47.42,447.72 47.52,448.22 47.61,447.87 47.71,447.68 47.81,448.34 47.9,447.88 48,448.35 48.09,447.53 48.19,448.02 48.28,448.26 48.38,448.35 48.48,448.33 48.57,447.36 48.67,448.07 48.76,447.98 48.86,447.92 48.96,448.29 49.05,447.54 49.15,448.35 49.24,447.49 49.34,448.05 49.43,447.78 49.53,447.7 49.63,447.52 49.72,448.21 49.82,447.59 49.91,447.81 50.01,447.85 50.1,447.89 50.2,447.42 50.3,447.64 50.39,447.37 50.49,447.49 50.58,448.35 50.68,447.83 50.78,447.46 50.87,448.1 50.97,448.35 51.06,448.35 51.16,447.25 51.25,448.11 51.35,447.74 51.45,448.16 51.54,447.66 51.64,447.25 51.73,448.29 51.83,447.82 51.93,448.06 52.02,448.35 52.12,448.1 52.21,447.79 52.31,447.39 52.4,447.37 52.5,447.81 52.6,448.35 52.69,447.58 52.79,447.8 52.88,447.81 52.98,448.19 53.07,447.85 53.17,447.25 53.27,447.3 53.36,447.37 53.46,447.58 53.55,447.93 53.65,447.8 53.75,447.75 53.84,447.67 53.94,447.92 54.03,448.09 54.13,447.42 54.22,447.93 54.32,447.52 54.42,447.86 54.51,447.57 54.61,447.63 54.7,447.55 54.8,447.57 54.89,448.12 54.99,448.26 55.09,447.81 55.18,447.25 55.28,448.08 55.37,448.11 55.47,447.25 55.57,448.32 55.66,447.99 55.76,447.94 55.85,448.03 55.95,448.02 56.04,447.44 56.14,447.73 56.24,447.74 56.33,448.35 56.43,447.53 56.52,447.74 56.62,447.75 56.72,447.52 56.81,447.69 56.91,447.81 57,447.66 57.1,448.04 57.19,448.1 57.29,448.25 57.39,447.47 57.48,448.02 57.58,447.74 57.67,447.43 57.77,447.25 57.86,447.92 57.96,447.74 58.06,447.77 58.15,448.24 58.25,447.96 58.34,447.25 58.44,447.82 58.54,447.25 58.63,447.54 58.73,447.25 58.82,447.35 58.92,447.72 59.01,448.21 59.11,447.32 59.21,447.56 59.3,447.64 59.4,447.51 59.49,448.06 59.59,447.75 59.69,447.8 59.78,448.3 59.88,448.2 59.97,447.84 60.07,448.35 60.16,447.55 60.26,447.54 60.36,447.82 60.45,447.71 60.55,448.35 60.64,447.74 60.74,447.55 60.83,447.63 60.93,447.49 61.03,447.82 61.12,447.25 61.22,447.66 61.31,447.54 61.41,447.44 61.51,448.06 61.6,448.18 61.7,447.54 61.79,448.22 61.89,448 61.98,447.47 62.08,448.17 62.18,448.13 62.27,448.22 62.37,448.15 62.46,447.25 62.56,447.62 62.65,447.48 62.75,448.35 62.85,448.35 62.94,448.19 63.04,447.45 63.13,447.41 63.23,448.35 63.33,448.35 63.42,447.59 63.52,447.72 63.61,447.66 63.71,447.58 63.8,448.14 63.9,447.76 64,447.9 64.09,447.39 64.19,447.91 64.28,448.35 64.38,447.38 64.48,447.25 64.57,447.48 64.67,447.92 64.76,448.13 64.86,447.47 64.95,447.99 65.05,447.63 65.15,447.55 65.24,447.85 65.34,448.35 65.43,447.64 65.53,448.15 65.62,448.33 65.72,447.83 65.82,447.76 65.91,447.84 66.01,447.6 66.1,448.35 66.2,447.62 66.3,447.27 66.39,447.84 66.49,447.98 66.58,447.87 66.68,447.4 66.77,447.87 66.87,448.08 66.97,448.35 67.06,447.34 67.16,447.33 67.25,447.81 67.35,447.25 67.45,447.94 67.54,447.57 67.64,448.25 67.73,448.15 67.83,447.81 67.92,447.65 68.02,447.6 68.12,448.11 68.21,447.98 68.31,447.84 68.4,447.9 68.5,447.89 68.59,447.53 68.69,447.42 68.79,448.35 68.88,447.36 68.98,447.75 69.07,447.7 69.17,447.69 69.27,447.49 69.36,447.57 69.46,448.32 69.55,447.51 69.65,448.18 69.74,447.67 69.84,447.73 69.94,448.32 70.03,447.8 70.13,447.89 70.22,448.03 70.32,447.25 70.42,447.75 70.51,447.93 70.61,447.25 70.7,447.81 70.8,447.85 70.89,448.35 70.99,447.6 71.09,447.47 71.18,447.25 71.28,448.14 71.37,447.45 71.47,447.33 71.56,447.56 71.66,447.8 71.76,448.35 71.85,447.74 71.95,447.99 72.04,448.35 72.14,447.6 72.24,447.84 72.33,447.88 72.43,447.25 72.52,447.98 72.62,448.35 72.71,448.35 72.81,447.63 72.91,447.88 73,448.06 73.1,448.35 73.19,448.08 73.29,448.18 73.38,447.84 73.48,448.09 73.58,448.1 73.67,447.82 73.77,448.07 73.86,447.7 73.96,448.35 74.06,448.22 74.15,447.4 74.25,447.74 74.34,448.17 74.44,447.87 74.53,448 74.63,447.93 74.73,447.33 74.82,447.95 74.92,447.74 75.01,448.1 75.11,448.06 75.21,448.33 75.3,448.03 75.4,447.95 75.49,447.91 75.59,447.79 75.68,447.78 75.78,447.59 75.88,447.88 75.97,447.37 76.07,447.61 76.16,447.35 76.26,447.83 76.35,447.41 76.45,447.78 76.55,448.35 76.64,447.82 76.74,447.87 76.83,448.29 76.93,448.14 77.03,448.01 77.12,447.25 77.22,447.71 77.31,447.25 77.41,447.5 77.5,447.45 77.6,447.54 77.7,448.3 77.79,447.39 77.89,448.14 77.98,447.66 78.08,447.84 78.18,447.27 78.27,447.41 78.37,447.25 78.46,447.64 78.56,447.8 78.65,447.55 78.75,447.25 78.85,447.63 78.94,447.79 79.04,448.21 79.13,448.05 79.23,447.83 79.32,447.58 79.42,447.6 79.52,447.83 79.61,447.76 79.71,447.29 79.8,447.25 79.9,447.4 80,447.29 80.09,447.39 80.19,447.25 80.28,448.22 80.38,447.97 80.47,447.72 80.57,447.67 80.67,447.36 80.76,448.35 80.86,447.75 80.95,447.71 81.05,448.02 81.14,447.84 81.24,447.47 81.34,447.64 81.43,447.84 81.53,447.73 81.62,447.84 81.72,447.49 81.82,447.83 81.91,447.47 82.01,447.98 82.1,447.81 82.2,448.17 82.29,447.86 82.39,447.52 82.49,448.13 82.58,447.91 82.68,447.76 82.77,447.91 82.87,447.52 82.97,448.21 83.06,447.51 83.16,447.36 83.25,447.25 83.35,447.82 83.44,448.06 83.54,448.32 83.64,447.57 83.73,447.52 83.83,447.7 83.92,447.68 84.02,447.57 84.11,447.91 84.21,448.28 84.31,448.27 84.4,448.05 84.5,448.1 84.59,448.32 84.69,447.94 84.79,448.14 84.88,447.58 84.98,447.82 85.07,447.53 85.17,448.23 85.26,448.16 85.36,448.32 85.46,447.7 85.55,447.25 85.65,447.72 85.74,447.94 85.84,447.72 85.94,447.8 86.03,447.47 86.13,447.79 86.22,448.08 86.32,448.35 86.41,447.67 86.51,447.46 86.61,447.74 86.7,448.09 86.8,447.94 86.89,447.9 86.99,447.6 87.08,447.81 87.18,447.4 87.28,447.86 87.37,448.01 87.47,447.25 87.56,448.12 87.66,448.05 87.76,447.25 87.85,447.7 87.95,447.25 88.04,448.35 88.14,447.38 88.23,447.79 88.33,447.76 88.43,447.63 88.52,448.35 88.62,448.09 88.71,447.64 88.81,447.25 88.91,448.04 89,447.25 89.1,447.58 89.19,447.45 89.29,448.11 89.38,447.59 89.48,448.08 89.58,448.19 89.67,447.37 89.77,448.03 89.86,447.96 89.96,447.56 90.05,448.06 90.15,448.21 90.25,447.72 90.34,447.7 90.44,447.29 90.53,448.17 90.63,447.56 90.73,447.56 90.82,447.94 90.92,447.85 91.01,447.79 91.11,448.14 91.2,448.23 91.3,447.56 91.4,448.15 91.49,448.12 91.59,447.53 91.68,447.98 91.78,447.93 91.87,448.26 91.97,448.21 92.07,448.26 92.16,448.26 92.26,447.39 92.35,448.12 92.45,448.35 92.55,448.17 92.64,447.57 92.74,448.19 92.83,447.82 92.93,448.12 93.02,448.35 93.12,447.99 93.22,448.15 93.31,447.75 93.41,447.58 93.5,447.84 93.6,447.25 93.7,448.17 93.79,447.37 93.89,447.67 93.98,447.35 94.08,447.64 94.17,448.35 94.27,447.91 94.37,447.47 94.46,447.81 94.56,448.25 94.65,448 94.75,447.71 94.84,447.41 94.94,448.02 95.04,447.79 95.13,448.13 95.23,448.22 95.32,447.99 95.42,447.37 95.52,447.58 95.61,447.91 95.71,447.83 95.8,447.65 95.9,447.87 95.99,447.97 96.09,447.93 96.19,447.61 96.28,447.96 96.38,447.57 96.47,448.35 96.57,448.08 96.67,447.97 96.76,447.63 96.86,448.14 96.95,448.01 97.05,447.73 97.14,447.87 97.24,448.06 97.34,447.94 97.43,448.14 97.53,447.57 97.62,447.69 97.72,447.55 97.81,447.25 97.91,447.41 98.01,447.66 98.1,447.85 98.2,447.25 98.29,447.74 98.39,447.88 98.49,447.38 98.58,447.66 98.68,447.89 98.77,447.65 98.87,447.25 98.96,447.75 99.06,447.66 99.16,448.07 99.25,447.94 99.35,447.49 99.44,447.81 99.54,447.74 99.64,447.41 99.73,447.88 99.83,447.26 99.92,447.98 100.02,448.02 100.11,448.03 100.21,448.26 100.31,447.59 100.4,447.76 100.5,447.32 100.59,448.01 100.69,447.52 100.78,447.33 100.88,447.85 100.98,447.83 101.07,448.35 101.17,447.25 101.26,447.82 101.36,447.55 101.46,447.95 101.55,447.67 101.65,448.16 101.74,447.53 101.84,447.75 101.93,447.9 102.03,447.64 102.13,448.35 102.22,447.73 102.32,447.93 102.41,447.31 102.51,447.47 102.6,447.88 102.7,447.98 102.8,446.35 102.89,448.79 102.99,445.83 103.08,446.52 103.18,446.58 103.28,450.54 103.37,446.25 103.47,448.73 103.56,449.66 103.66,446.39 103.75,449.47 103.85,446.29 103.95,450.27 104.04,446.11 104.14,446.48 104.23,450.33 104.33,450.78 104.43,450 104.52,449.59 104.62,449.91 104.71,441.77 104.81,446.25 104.9,449.16 105,449.14 105.1,451.15 105.19,446.69 105.29,448.14 105.38,450.9 105.48,451.05 105.57,449.79 105.67,452.98 105.77,447.32 105.86,452.49 105.96,445.1 106.05,449.64 106.15,445.01 106.25,451.09 106.34,457.19 106.44,455.46 106.53,449.54 106.63,445.61 106.72,445.45 106.82,444.77 106.92,443.75 107.01,445.61 107.11,445.15 107.2,449.11 107.3,444.41 107.4,448.42 107.49,448.2 107.59,446.6 107.68,437.6 107.78,456.77 107.87,450.68 107.97,449.36 108.07,445.06 108.16,447.61 108.26,437.4 108.35,457.52 108.45,437.23 108.54,455.64 108.64,452.23 108.74,444.06 108.83,447.09 108.93,447.78 109.02,447.14 109.12,445.08 109.22,441.3 109.31,444.91 109.41,455.93 109.5,452.5 109.6,438.46 109.69,436.63 109.79,441.31 109.89,440.38 109.98,445.52 110.08,436.45 110.17,451.53 110.27,449.92 110.36,452.97 110.46,436.78 110.56,451.24 110.65,444.08 110.75,457.23 110.84,457.84 110.94,440.68 111.04,442.63 111.13,441.62 111.23,446.13 111.32,449.63 111.42,450.45 111.51,455.4 111.61,450.26 111.71,437.98 111.8,448.67 111.9,456.91 111.99,449.26 112.09,454.6 112.19,455.79 112.28,448.35 112.38,453.08 112.47,456.68 112.57,436.55 112.66,435.67 112.76,446.55 112.86,436.8 112.95,450.94 113.05,447.85 113.14,438.01 113.24,445.42 113.33,441.59 113.43,460.15 113.53,445.51 113.62,450.81 113.72,448.48 113.81,459.01 113.91,453.48 114.01,443.22 114.1,443.32 114.2,441.9 114.29,441.31 114.39,439.44 114.48,444.81 114.58,449.54 114.68,452.11 114.77,450.94 114.87,455.14 114.96,455.37 115.06,448.44 115.16,460.62 115.25,457.23 115.35,453.97 115.44,443.7 115.54,439.42 115.63,445.2 115.73,448.1 115.83,451.59 115.92,439.05 116.02,442.2 116.11,452.9 116.21,447.94 116.3,444.47 116.4,440.5 116.5,450.31 116.59,435.79 116.69,438.36 116.78,451.01 116.88,449.18 116.98,454.99 117.07,454.8 117.17,445.04 117.26,436.08 117.36,435.93 117.45,445.92 117.55,450.43 117.65,452.62 117.74,443.87 117.84,451.09 117.93,441.51 118.03,448.28 118.13,444.89 118.22,451.51 118.32,434.11 118.41,437.9 118.51,446.51 118.6,454.44 118.7,442.59 118.8,441.01 118.89,456.5 118.99,446.57 119.08,434.09 119.18,445.69 119.27,450.4 119.37,442.29 119.47,434.09 119.56,450.76 119.66,450.67 119.75,449.05 119.85,446.44 119.95,437.28 120.04,444.29 120.14,461.51 120.23,443.43 120.33,443.7 120.42,441.74 120.52,444.7 120.62,447.97 120.71,442.75 120.81,452.52 120.9,460.77 121,449.74 121.09,456.01 121.19,434.09 121.29,447.99 121.38,434.28 121.48,458.16 121.57,457.07 121.67,443.68 121.77,461.22 121.86,452.5 121.96,461.51 122.05,443.84 122.15,461.45 122.24,448.47 122.34,461.51 122.44,443.44 122.53,438.67 122.63,446.45 122.72,455.56 122.82,444 122.92,439.47 123.01,441.23 123.11,437.15 123.2,434.09 123.3,445.66 123.39,449.67 123.49,452.75 123.59,447.65 123.68,449.45 123.78,451.91 123.87,444.76 123.97,434.09 124.06,454.08 124.16,451.58 124.26,450.53 124.35,456.05 124.45,439.02 124.54,448.94 124.64,442.8 124.74,460.9 124.83,443.11 124.93,448.78 125.02,459.65 125.12,440.68 125.21,440 125.31,445.89 125.41,443.89 125.5,455.53 125.6,439.29 125.69,449.67 125.79,443.82 125.89,442.82 125.98,443.77 126.08,453.72 126.17,445.47 126.27,446.53 126.36,438.03 126.46,453.87 126.56,439.88 126.65,443.81 126.75,447.25 126.84,434.22 126.94,441.11 127.03,452.12 127.13,445.26 127.23,453.76 127.32,457.11 127.42,451.75 127.51,451.64 127.61,434.42 127.71,441.31 127.8,461.13 127.9,448.96 127.99,453.29 128.09,448.86 128.18,446.33 128.28,447.42 128.38,444.4 128.47,453.91 128.57,436.62 128.66,448.79 128.76,438.09 128.85,448.52 128.95,443.88 129.05,455.23 129.14,439.12 129.24,445.51 129.33,450.88 129.43,444.82 129.53,444.13 129.62,459.65 129.72,453.55 129.81,455.43 129.91,441.43 130,446.36 130.1,452.88 130.2,453.2 130.29,448.1 130.39,460.46 130.48,449.08 130.58,435.97 130.68,458.4 130.77,456.82 130.87,456.31 130.96,444.49 131.06,453.45 131.15,435.34 131.25,449.31 131.35,451.51 131.44,455.99 131.54,442.75 131.63,439.87 131.73,446.53 131.82,438.06 131.92,438.48 132.02,445.08 132.11,447.29 132.21,451.93 132.3,446.04 132.4,450.39 132.5,436.33 132.59,441.86 132.69,448.99 132.78,450.71 132.88,444.43 132.97,439.41 133.07,445.42 133.17,439.54 133.26,451.18 133.36,445.8 133.45,442.34 133.55,445.97 133.65,444.41 133.74,439.25 133.84,447.51 133.93,439.29 134.03,451.68 134.12,443.33 134.22,450.94 134.32,450.53 134.41,442.31 134.51,436.58 134.6,448.29 134.7,446.42 134.79,435.93 134.89,453.99 134.99,439.31 135.08,457.11 135.18,462.21 135.27,444.06 135.37,449.57 135.47,451.52 135.56,462.44 135.66,443.87 135.75,451.17 135.85,457.55 135.94,448.15 136.04,457.82 136.14,454.09 136.23,454.5 136.33,438.42 136.42,448.26 136.52,435.53 136.62,454.67 136.71,458.23 136.81,432.43 136.9,460.07 137,436.05 137.09,457.58 137.19,440.62 137.29,454.24 137.38,433.11 137.48,432.04 137.57,437.39 137.67,443.89 137.76,450.72 137.86,439.66 137.96,431.76 138.05,451.53 138.15,458.14 138.24,431.59 138.34,449.28 138.44,439.9 138.53,445.18 138.63,444.36 138.72,449.75 138.82,448.36 138.91,463.63 139.01,452.64 139.11,455.64 139.2,435.25 139.3,450.11 139.39,445.87 139.49,463.96 139.58,446.17 139.68,431.36 139.78,445.21 139.87,437.92 139.97,450.12 140.06,453.21 140.16,437.02 140.26,451.55 140.35,457.72 140.45,447.96 140.54,450.89 140.64,435.97 140.73,439.37 140.83,461.91 140.93,441.57 141.02,460.88 141.12,445.02 141.21,440.92 141.31,452.34 141.41,452.43 141.5,438.84 141.6,450.08 141.69,458.81 141.79,430.12 141.88,437.55 141.98,441.82 142.08,443.16 142.17,435.95 142.27,445.88 142.36,438.33 142.46,443.23 142.55,453.97 142.65,435.27 142.75,444.78 142.84,455.34 142.94,451.38 143.03,465.86 143.13,464.67 143.23,462.46 143.32,439.13 143.42,439.48 143.51,434.25 143.61,442.23 143.7,429.53 143.8,451.89 143.9,455.28 143.99,457.24 144.09,444.91 144.18,454.28 144.28,457.29 144.38,453.14 144.47,445.53 144.57,461.61 144.66,447.46 144.76,447.6 144.85,429.17 144.95,445.76 145.05,461.81 145.14,444.64 145.24,445.35 145.33,461.5 145.43,466.3 145.52,439.21 145.62,449.59 145.72,455.53 145.81,449.46 145.91,433.46 146,429.46 146.1,452.68 146.2,430.84 146.29,448.12 146.39,447.51 146.48,448.62 146.58,448.27 146.67,449.18 146.77,455.07 146.87,447.43 146.96,458.6 147.06,441.55 147.15,454.64 147.25,442.36 147.34,448.96 147.44,465.74 147.54,435 147.63,444.51 147.73,448.39 147.82,451.28 147.92,429.99 148.02,450.3 148.11,437.48 148.21,445.55 148.3,461.83 148.4,440.07 148.49,463.85 148.59,443 148.69,443.43 148.78,445.3 148.88,455.63 148.97,433.11 149.07,430.31 149.17,457.4 149.26,451.78 149.36,430.78 149.45,452.31 149.55,437.79 149.64,457.98 149.74,454.38 149.84,445.1 149.93,443.12 150.03,462.75 150.12,458.64 150.22,442.53 150.31,434.67 150.41,442.51 150.51,444.11 150.6,443.34 150.7,460.27 150.79,443.75 150.89,438.63 150.99,441.74 151.08,459.66 151.18,457.53 151.27,436.45 151.37,461.81 151.46,458.59 151.56,431.84 151.66,456.88 151.75,455.16 151.85,441.39 151.94,439.93 152.04,449.47 152.14,462.11 152.23,452.96 152.33,446.18 152.42,456.94 152.52,457.48 152.61,435.41 152.71,442.45 152.81,440.08 152.9,438.95 153,457.74 153.09,443.01 153.19,435.98 153.28,441.06 153.38,459.29 153.48,463.26 153.57,455.8 153.67,442.35 153.76,449.65 153.86,445.02 153.96,460.44 154.05,439.47 154.15,455.14 154.24,436.46 154.34,448.07 154.43,464.58 154.53,449.83 154.63,456.66 154.72,456.37 154.82,449.44 154.91,436.98 155.01,439.24 155.11,433.64 155.2,447.87 155.3,464.75 155.39,453.53 155.49,457.08 155.58,454.86 155.68,430.77 155.78,439.66 155.87,457.75 155.97,435.59 156.06,450.87 156.16,461.69 156.25,435.77 156.35,452.74 156.45,446.51 156.54,430.59 156.64,458.33 156.73,437.08 156.83,451.08 156.93,459.39 157.02,450.45 157.12,446.03 157.21,445.88 157.31,463.87 157.4,439.08 157.5,456.75 157.6,444.62 157.69,445.7 157.79,453.66 157.88,441.56 157.98,455.38 158.07,457.79 158.17,462.8 158.27,465.37 158.36,455.21 158.46,465.41 158.55,451.69 158.65,453.6 158.75,430.46 158.84,460.23 158.94,435.73 159.03,443.99 159.13,444.76 159.22,454.66 159.32,456.75 159.42,451.4 159.51,448.49 159.61,441.8 159.7,453.48 159.8,431.19 159.9,429.9 159.99,465.72 160.09,446.51 160.18,449.2 160.28,458.56 160.37,465.8 160.47,465.82 160.57,449.98 160.66,440.45 160.76,443.06 160.85,442.36 160.95,450.33 161.04,436.89 161.14,442.75 161.24,435.78 161.33,449.31 161.43,454.91 161.52,464.21 161.62,431.44 161.72,454.03 161.81,458.89 161.91,465.37 162,441.88 162.1,462.3 162.19,447.12 162.29,444.88 162.39,432.98 162.48,455.28 162.58,465.04 162.67,438.86 162.77,445.16 162.87,454.36 162.96,448.18 163.06,430.79 163.15,447.24 163.25,454.52 163.34,448.62 163.44,441.95 163.54,444.13 163.63,444.4 163.73,444.52 163.82,459.49 163.92,441.78 164.01,437.45 164.11,441.24 164.21,448.43 164.3,448.58 164.4,445.91 164.49,447.18 164.59,463.9 164.69,449.01 164.78,435.5 164.88,450.91 164.97,452.84 165.07,441.81 165.16,446.84 165.26,454.37 165.36,445.99 165.45,431.94 165.55,431.99 165.64,446.14 165.74,449.14 165.83,436.32 165.93,443.2 166.03,442.43 166.12,448.15 166.22,459.66 166.31,460.97 166.41,448.29 166.51,457.62 166.6,440.14 166.7,438.97 166.79,434.01 166.89,446.52 166.98,432.68 167.08,435.91 167.18,443.93 167.27,440.6 167.37,452.43 167.46,462.69 167.56,438.02 167.66,442.97 167.75,433.05 167.85,443.03 167.94,448.92 168.04,451.66 168.13,452.74 168.23,445.92 168.33,462.27 168.42,457.16 168.52,440.24 168.61,462.13 168.71,460.9 168.8,452.58 168.9,450.99 169,446.98 169.09,440.52 169.19,445.21 169.28,442.76 169.38,452.28 169.48,447.39 169.57,453.17 169.67,448.47 169.76,443.15 169.86,443.82 169.95,460.26 170.05,456.08 170.15,435.63 170.24,459.83 170.34,447.16 170.43,455.9 170.53,449.14 170.63,451.67 170.72,447.18 170.82,455.09 170.91,440.73 171.01,436.93 171.1,458.52 171.2,453.04 171.3,457.21 171.39,446.93 171.49,439.12 171.58,439.31 171.68,439.86 171.77,446.35 171.87,450.88 171.97,441.29 172.06,451.09 172.16,452 172.25,447.32 172.35,454.27 172.45,448.68 172.54,452.52 172.64,447.19 172.73,442.89 172.83,450.37 172.92,445.48 173.02,443.35 173.12,451.09 173.21,448.01 173.31,449.17 173.4,441.31 173.5,449.6 173.6,447.27 173.69,452.57 173.79,450.78 173.88,445.86 173.98,448.59 174.07,445.63 174.17,447.56 174.27,443.6 174.36,448.3 174.46,445.63 174.55,449.23 174.65,448.61 174.74,450.77 174.84,444.54 174.94,451.05 175.03,447.51 175.13,448.6 175.22,446.2 175.32,448.79 175.42,444.61 175.51,445.56 175.61,446.71 175.7,446.77 175.8,445.71 175.89,446.88 175.99,444.7 176.09,446.03 176.18,447.74 176.28,446.84 176.37,447.26 176.47,445.45 176.56,448.1 176.66,447.43 176.76,449.91 176.85,446.4 176.95,447.18 177.04,448.81 177.14,444.84 177.24,447.57 177.33,449.65 177.43,445.6 177.52,447.93 177.62,450.7 177.71,447.02 177.81,447.65 177.91,447.49 178,447.98 178.1,449.01 178.19,447.43 178.29,450.5 178.39,447.94 178.48,446.19 178.58,445.97 178.67,448.47 178.77,445.05 178.86,447.14 178.96,448.37 179.06,447.38 179.15,448.76 179.25,446.24 179.34,449.16 179.44,448.78 179.53,449.49 179.63,448.93 179.73,448.1 179.82,445.18 179.92,447.27 180.01,445.82 180.11,447.58 180.21,446.2 180.3,449.26 180.4,449.38 180.49,445.27 180.59,447.09 180.68,450.04 180.78,446.76 180.88,447.96 180.97,448.07 181.07,446.45 181.16,449.47 181.26,445.88 181.36,447.29 181.45,448.37 181.55,449.62 181.64,445.42 181.74,448.21 181.83,449.64 181.93,447.91 182.03,447.03 182.12,446.82 182.22,445.64 182.31,446.92 182.41,447.78 182.5,445.53 182.6,445.54 182.7,449.22 182.79,446.38 182.89,448.49 182.98,445.7 183.08,448.95 183.18,447.3 183.27,445.63 183.37,447.25 183.46,446.28 183.56,448.6 183.65,449.28 183.75,449.19 183.85,446.92 183.94,448.51 184.04,445.86 184.13,448.12 184.23,446.03 184.32,447.27 184.42,449.02 184.52,447.63 184.61,447.11 184.71,447.11 184.8,447.82 184.9,446.38 185,446.57 185.09,446.59 185.19,448.6 185.28,449.71 185.38,447.04 185.47,448.65 185.57,448.32 185.67,447.98 185.76,447.34 185.86,449.64 185.95,447.85 186.05,446.22 186.15,449.29 186.24,448.03 186.34,446.16 186.43,446.82 186.53,447.05 186.62,447.55 186.72,449.19 186.82,447.59 186.91,448.69 187.01,447.58 187.1,448.48 187.2,448.89 187.29,447.72 187.39,446.66 187.49,448.2 187.58,447.54 187.68,447.03 187.77,447.23 187.87,448.9 187.97,448.23 188.06,447.4 188.16,447.7 188.25,446.34 188.35,447.21 188.44,448.48 188.54,447.15 188.64,446.8 188.73,447.2 188.83,447.32 188.92,448.85 189.02,447.78 189.12,447.28 189.21,448.03 189.31,447.99 189.4,447.41 189.5,448.21 189.59,448.38 189.69,447.86 189.79,447.81 189.88,447.18 189.98,447.86 190.07,448.51 190.17,447.45 190.26,448.25 190.36,447.3 190.46,448.11 190.55,447.42 190.65,447.58 190.74,447.87 190.84,448.46 190.94,447.98 191.03,447.01 191.13,447.67 191.22,447.18 191.32,447.73 191.41,447.76 191.51,448.22 191.61,447.59 191.7,448.14 191.8,448.13 191.89,447.33 191.99,448.18 192.09,447.14 192.18,447.77 192.28,447.99 192.37,447.29 192.47,448.12 192.56,447.73 192.66,447.77 192.76,447.46 192.85,447.25 192.95,447.66 193.04,448.2 193.14,448.22 193.23,447.94 193.33,447.51 193.43,447.74 193.52,447.69 193.62,447.88 193.71,447.33 193.81,448.15 193.91,447.25 194,447.38 194.1,447.55 194.19,447.79 194.29,447.88 194.38,447.78 194.48,447.96 194.58,447.92 194.67,448.05 194.77,447.53 194.86,447.75 194.96,447.64 195.05,448.02 195.15,448.19 195.25,448.09 195.34,447.71 195.44,448.17 195.53,447.59 195.63,448.09 195.73,447.93 195.82,447.71 195.92,448.18 196.01,448.35 196.11,447.41 196.2,447.84 196.3,448 196.4,447.26 196.49,447.25 196.59,447.78 196.68,447.69 196.78,447.25 196.88,447.99 196.97,447.4 197.07,447.47 197.16,447.98 197.26,448.11 197.35,448.04 197.45,447.74 197.55,447.68 197.64,447.25 197.74,448.13 197.83,447.72 197.93,448.05 198.02,447.5 198.12,447.65 198.22,448.22 198.31,447.93 198.41,447.76 198.5,447.55 198.6,447.61 198.7,447.56 198.79,447.77 198.89,447.58 198.98,447.75 199.08,447.46 199.17,447.59 199.27,448.07 199.37,447.8 199.46,448.03 199.56,447.82 199.65,447.59 199.75,447.75 199.85,447.81 199.94,447.98 200.04,447.29 200.13,447.77 200.23,448.09 200.32,447.93 200.42,447.47 200.52,447.25 200.61,447.36 200.71,447.89 200.8,447.49 200.9,448.32 200.99,447.5 201.09,447.85 201.19,447.69 201.28,448.18 201.38,447.65 201.47,448.19 201.57,448.31 201.67,447.29 201.76,448.18 201.86,447.47 201.95,447.96 202.05,447.81 202.14,447.78 202.24,447.41 202.34,447.64 202.43,448.07 202.53,447.95 202.62,447.34 202.72,447.33 202.81,447.93 202.91,447.49 203.01,447.8 203.1,447.45 203.2,448.11 203.29,447.51 203.39,447.96 203.49,448.2 203.58,447.58 203.68,447.59 203.77,448.27 203.87,448.35 203.96,447.82 204.06,447.64 204.16,447.96 204.25,447.76 204.35,447.93 204.44,447.97 204.54,447.66 204.64,447.38 204.73,447.64 204.83,447.89 204.92,448.02 205.02,447.72 205.11,448.35 205.21,447.75 205.31,447.83 205.4,447.8 205.5,447.88 205.59,447.86 205.69,448.27 205.78,447.58 205.88,447.9 205.98,447.79 206.07,447.96 206.17,448.28 206.26,447.59 206.36,447.87 206.46,447.88 206.55,447.67 206.65,447.25 206.74,447.8 206.84,447.61 206.93,447.25 207.03,447.89 207.13,447.39 207.22,447.78 207.32,447.46 207.41,447.75 207.51,447.47 207.61,448.03 207.7,447.95 207.8,447.99 207.89,447.89 207.99,447.42 208.08,447.64 208.18,447.57 208.28,447.86 208.37,447.75 208.47,447.65 208.56,447.67 208.66,447.97 208.75,447.91 208.85,448.13 208.95,447.54 209.04,447.44 209.14,447.25 209.23,448.35 209.33,447.51 209.43,447.6 209.52,447.25 209.62,447.93 209.71,448.04 209.81,447.71 209.9,448.26 210,448.25 210.1,447.6 210.19,448.34 210.29,448.16 210.38,447.4 210.48,447.6 210.58,448.22 210.67,447.33 210.77,447.77 210.86,447.91 210.96,447.75 211.05,447.83 211.15,447.41 211.25,447.61 211.34,448.09 211.44,447.97 211.53,447.54 211.63,448 211.72,448.12 211.82,448.35 211.92,447.52 212.01,447.8 212.11,447.87 212.2,448.09 212.3,447.98 212.4,447.81 212.49,448.17 212.59,447.77 212.68,447.25 212.78,447.97 212.87,447.79 212.97,447.28 213.07,447.77 213.16,447.28 213.26,447.46 213.35,447.49 213.45,447.85 213.54,447.95 213.64,447.36 213.74,447.75 213.83,447.83 213.93,448.35 214.02,447.84 214.12,447.25 214.22,447.58 214.31,447.25 214.41,447.71 214.5,448.25 214.6,447.74 214.69,447.25 214.79,447.73 214.89,447.88 214.98,447.84 215.08,448.17 215.17,447.9 215.27,447.74 215.37,447.47 215.46,447.53 215.56,448.15 215.65,448.35 215.75,447.9 215.84,448.04 215.94,447.51 216.04,448.12 216.13,447.59 216.23,447.93 216.32,447.41 216.42,447.77 216.51,448.35 216.61,448.35 216.71,447.69 216.8,448.13 216.9,447.47 216.99,447.81 217.09,447.25 217.19,447.8 217.28,448.05 217.38,448.35 217.47,447.64 217.57,447.87 217.66,447.9 217.76,447.25 217.86,447.54 217.95,448.11 218.05,447.58 218.14,448.31 218.24,448.01 218.34,447.52 218.43,448.23 218.53,447.8 218.62,447.78 218.72,447.74 218.81,448.12 218.91,448.27 219.01,447.8 219.1,447.59 219.2,448.13 219.29,447.53 219.39,447.44 219.48,447.69 219.58,447.46 219.68,447.48 219.77,447.4 219.87,447.71 219.96,447.7 220.06,447.68 220.16,447.4 220.25,447.96 220.35,447.3 220.44,448.1 220.54,447.25 220.63,447.58 220.73,447.25 220.83,447.7 220.92,447.56 221.02,448.31 221.11,447.88 221.21,447.72 221.31,447.65 221.4,447.57 221.5,447.74 221.59,447.81 221.69,447.48 221.78,448.29 221.88,447.94 221.98,447.56 222.07,447.81 222.17,447.39 222.26,448.01 222.36,447.91 222.45,447.58 222.55,447.25 222.65,448.22 222.74,448.35 222.84,448.19 222.93,448.2 223.03,447.7 223.13,447.48 223.22,447.8 223.32,447.71 223.41,447.58 223.51,447.66 223.6,447.69 223.7,447.71 223.8,447.41 223.89,448.16 223.99,447.95 224.08,447.7 224.18,447.25 224.27,448.07 224.37,447.53 224.47,448.03 224.56,447.84 224.66,448.04 224.75,447.25 224.85,447.66 224.95,447.95 225.04,447.46 225.14,448.02 225.23,447.7 225.33,448.23 225.42,447.89 225.52,447.67 225.62,447.67 225.71,448.07 225.81,448.04 225.9,448.35 226,448.35 226.1,447.86 226.19,447.42 226.29,447.63 226.38,447.6 226.48,447.78 226.57,447.8 226.67,447.8 226.77,447.25 226.86,447.9 226.96,447.39 227.05,448.25 227.15,448.14 227.24,447.81 227.34,448.28 227.44,447.28 227.53,447.71 227.63,447.65 227.72,447.93 227.82,447.62 227.92,447.99 228.01,447.34 228.11,447.35 228.2,448 228.3,448.06 228.39,448.27 228.49,448.25 228.59,447.35 228.68,447.51 228.78,447.25 228.87,447.59 228.97,447.47 229.07,447.53 229.16,447.91 229.26,447.69 229.35,447.44 229.45,447.7 229.54,448.07 229.64,448.07 229.74,447.25 229.83,448.03 229.93,447.97 230.02,447.73 230.12,447.78 230.21,447.41 230.31,447.88" fill="none" stroke="#0072BD" stroke-width="1.2" stroke-linejoin="round" clip-path="url(#clipe)"/>
<polyline points="325.83,270.04 341.81,299.73 351.16,323.31 357.8,312.4 362.94,319.38 367.15,326.81 370.7,320.69 373.78,326.81 376.5,325.06 378.93,327.68 381.13,323.75 383.13,320.69 384.98,324.62 386.69,325.93 388.28,327.94 389.77,325.71 391.16,328.54 392.48,325.83 393.73,326.15 394.91,326.52 396.04,326.67 397.11,327.6 398.14,328.54 399.12,328.89 400.06,327 400.96,327.57 401.83,324.22 402.67,324.86 403.48,328.24 404.26,327.03 405.02,328.25 405.75,328.22 406.46,326.07 407.15,327.36 407.82,327.31 408.47,328.03 409.1,326.17 409.71,327.53 410.31,326.43 410.9,327.74 411.47,327.03 412.02,324.94 412.56,326.18 413.09,326.1 413.61,326.56 414.12,329.28 414.62,327.91 415.1,325.86 415.58,329.07 416.04,327.82 416.5,329.44 416.95,327.65 417.39,328.78 417.82,329.06 418.24,326.11 418.66,326.85 419.06,325.99 419.47,327.76 419.86,325.03 420.25,328.67 420.63,327.4 421,328.44 421.37,324.46 421.74,325.85 422.09,329.4 422.45,328.09 422.79,328.41 423.13,328.72 423.47,329.38 423.8,323.75 424.13,326.14 424.45,327.56 424.77,326.21 425.08,327.64 425.39,328.13 425.7,325.05 426,326.97 426.3,323.12 426.59,321.53 426.88,327.08 427.17,324.38 427.45,325.88 427.73,323.06 428.01,327.02 428.28,326.21 428.55,325.04 428.82,323.87 429.08,323.97 429.34,310.65 429.6,293.18 429.85,291.87 430.1,312.83 430.35,326 430.84,327.98 431.33,324.26 431.8,324.93 432.03,327.61 432.48,327.85 432.71,324.6 433.15,326.56 433.37,329.35 433.59,326.49 433.8,329.78 434.43,325.66 434.64,327.73 434.85,326.87 435.25,329.13 435.65,323.65 435.84,327.38 436.04,321.92 436.42,328.8 436.8,326.46 436.99,328.1 437.36,328.2 437.54,327.19 437.72,324.89 437.9,328.55 438.43,327.69 438.6,324.4 438.78,328.45 439.12,326.2 439.29,327.97 439.46,325.08 440.11,329.48 440.28,324.93 440.91,324.23 441.07,328.15 441.22,327.15 441.53,324.38 441.98,325.9 442.28,327.55 442.43,325.51 442.87,328.6 443.01,328.6 443.29,325.21 443.58,323.67 443.85,326.65 444.13,327.03 444.26,325.77 444.67,327.89 444.8,324.27 445.32,328.47 445.58,323.28 445.84,319.38 446.09,327.73 446.21,324.72 446.46,329.74 446.83,323.52 447.31,326.78 447.66,324.39 447.9,328.72 448.13,328.79 448.24,324.32 448.69,329.71 449.03,323.18 449.14,323.56 449.36,328.72 449.68,329.53 450,326.31 450.31,328.87 450.52,325.21 450.83,328.84 450.93,324.63 451.43,328.45 451.73,325.16 451.93,329.75 452.02,324.7 452.41,324.95 452.5,328.23 452.97,325.53 453.43,327.71 453.52,325.1 453.97,329.27 454.15,328.95 454.24,325.59 454.59,323.66 454.76,328.68 455.27,329.35 455.36,324.8 455.69,320.49 455.77,328.75 456.18,323.5 456.34,329.55 456.82,323.81 457.21,328.36 457.52,329.28 457.59,324.74 457.89,329.14 458.19,326.53 458.49,328.63 458.71,323.91 458.85,325.47 459.14,328.97 459.63,329.64 459.7,326.62 459.98,329.32 460.18,326.92 460.59,327.48 460.79,329.89 461.31,328.91 461.37,329.85 461.57,329.21 461.95,330.21 462.51,330.23 462.57,330.04 462.87,330.07 463.12,330.21 463.59,330.25 463.65,330 464,330.06 464.05,330.25 464.23,330.09 464.4,330.26 464.79,330.27 464.85,330.04 465.29,330.24 465.61,330.09 466.04,330.27 466.09,330.06 466.4,330.07 466.76,330.26 466.97,330.24 467.27,330.05 467.37,329.84 467.67,330.27 467.91,330.11 468.3,330.23 468.58,330.11 468.68,330.26 468.96,330.05 469.14,330.25 469.82,330.1 469.96,330.24 470.05,330.25 470.4,330.12 470.83,330.14 470.92,330.25 471.05,330.24 471.13,330.14 471.88,330.03 471.92,330.25 472.16,330.26 472.25,330.06 472.72,330.12 473.08,330.28 473.39,330.27 473.61,330.1 473.88,330.25 473.99,330.02 474.36,330.28 474.62,330.14 474.87,330.26 475.12,330.12 475.51,330.27 475.62,330.13 475.82,330.27 475.93,330.02 476.23,330.29 476.57,330.09 476.87,330.12 477.2,330.24 477.36,330.26 477.68,330.11 478.03,330.08 478.18,330.26 478.34,330.09 478.77,330.27 478.86,330.28 479.25,330.09 479.37,330.24 479.69,330.09 479.84,330.26 479.95,330.04 480.44,330.25 480.8,330.11 480.91,330.06 481.11,330.27 481.43,330.27 481.6,330.02 482.28,330.25 482.34,329.98 482.54,330.08 482.6,330.26 483.1,330.25 483.13,330 483.6,330.12 483.8,330.27 484.21,330.06 484.35,330.27 484.45,330.25 484.87,330.05 485.15,330.29 485.17,330.08 485.54,330.27 485.67,329.99 486.01,330.26 486.27,330.08 486.73,330.06 486.82,330.28 487.41,330.14 487.47,330.28 487.8,330.1 487.91,330.26 488.03,330.06 488.05,330.27 488.65,330.28 488.85,330.09 489.04,330.27 489.41,330.03 489.6,330.27 489.69,330.04 490.07,330.29 490.35,330.09 490.6,330.28 490.78,330.07 491.28,330.08 491.55,330.28 491.63,330.27 491.76,330.08 492.18,330.28 492.22,330.06 492.59,330.26 492.87,330.13 493.1,330.12 493.28,330.28 493.68,330.15 493.82,330.29 494.11,330.15 494.59,330.27 494.62,330.29 495.01,330.1 495.5,330.28 495.54,330.17 495.84,330.06 495.87,330.27 496.27,330.27 496.62,330.12 497.02,330.28 497.04,330.15 497.24,330.28 497.39,330.11 497.66,330.08 497.73,330.29 498.31,330.14 498.62,330.29 498.84,330.15 499.05,330.28 499.38,330.07 499.59,330.28 499.83,330.29 500.12,330.13 500.19,330.09 500.28,330.29 500.97,330.08 501.11,330.28 501.24,330.29 501.31,330.08 502.03,330.28 502.06,330.11 502.72,330.12 502.74,330.28 502.8,330.27 503.01,330.14 503.36,330.28 503.58,330.15 503.91,330.09 503.97,330.28 504.3,330.28 504.34,330.14 504.79,330.07 504.82,330.28 505.32,330.28 505.48,330.1 506,330.16 506.17,330.28 506.49,330.29 506.61,330.14 506.98,330.15 507.14,330.29 507.47,330.28 507.53,330.16 507.83,330.04 508.02,330.28 508.66,330.13 508.76,330.28 508.81,330.08 509.28,330.29 509.36,330.29 509.68,330.1 509.84,330.18 510.29,330.29 510.55,330.12 510.65,330.28 511.14,330.28 511.31,330.15 511.41,330.29 511.68,330.11 512.04,330.29 512.09,330.06 512.63,330.28 512.67,330.12 512.91,330.29 512.99,330.16 513.65,330.29 513.83,330.15 514.03,330.11 514.29,330.28 514.48,330.13 514.65,330.29 514.97,330.29 515.16,330.16 515.42,330.28 515.79,330.08 516.05,330.13 516.34,330.29 516.48,330.15 516.71,330.29 516.93,330.16 517.25,330.29 517.4,330.29 517.67,330.15 518.13,330.29 518.19,330.14 518.6,330.29 518.78,330.09 518.96,330.15 519.34,330.29 519.51,330.29 519.73,330.17 519.99,330.16 520.26,330.28 520.77,330.15 520.86,330.29 521.16,330.29 521.21,330.15 521.53,330.29 521.73,330.11 521.92,330.18 522.33,330.29 522.45,330.29 522.68,330.16 523.13,330.18 523.23,330.29 523.67,330.16 523.71,330.29 524.14,330.17 524.38,330.29 524.42,330.29 524.51,330.19 525.1,330.15 525.14,330.29 525.61,330.3 525.88,330.16 526.06,330.29 526.22,330.18 526.48,330.2 526.51,330.29 527.26,330.29 527.36,330.17 527.59,330.17 527.74,330.29 528.31,330.29 528.38,330.17 528.46,330.16 528.77,330.29 529.09,330.18 529.24,330.29 529.56,330.15 529.84,330.29 529.99,330.3 530.19,330.15 530.66,330.19 530.75,330.29" fill="none" stroke="#0072BD" stroke-width="1.6" stroke-linejoin="round" clip-path="url(#clipd)"/>
<polyline points="325.83,211.53 341.81,299.6 351.16,319.69 357.8,304.1 362.94,316.76 367.15,326.81 370.7,322 373.78,327.68 376.5,322.88 378.93,328.12 381.13,326.37 383.13,323.75 384.98,327.68 386.69,325.5 388.28,328.26 389.77,322.71 391.16,324.64 392.48,329.64 393.73,327.56 394.91,328.08 396.04,326.77 397.11,328.39 398.14,324.68 399.12,325.76 400.06,323.18 400.96,326 401.83,326.61 402.67,329.33 403.48,326.72 404.26,329.12 405.02,328.78 405.75,326.91 406.46,328.58 407.15,328.08 407.82,327.22 408.47,326.94 409.1,326.27 409.71,326.55 410.31,326.83 410.9,328.83 411.47,326.56 412.02,328.24 412.56,326.68 413.09,324.76 413.61,329.63 414.12,328.4 414.62,327.64 415.1,327.14 415.58,327.27 416.04,329 416.5,326.36 416.95,327.5 417.39,327.41 417.82,328.38 418.24,325.88 418.66,324.53 419.06,326.36 419.47,327.43 419.86,327.41 420.25,328.21 420.63,329.29 421,328.6 421.37,327.85 421.74,327.72 422.09,326.65 422.45,328.88 422.79,328.51 423.13,328.06 423.47,328.15 423.8,326.48 424.13,324.11 424.45,324.02 424.77,327.56 425.08,327.07 425.39,321.97 425.7,327.52 426,327.96 426.3,326.09 426.59,323.89 426.88,326.03 427.17,326.11 427.45,325 427.73,327.53 428.01,322.65 428.28,321.71 428.55,324.74 428.82,324.54 429.08,327.21 429.34,323.49 429.6,322.44 429.85,320.26 430.1,328.64 430.6,321.96 430.84,325.66 431.09,327.98 431.56,329.17 432.03,326.87 432.48,327.32 432.71,329.14 432.93,328.66 433.37,327.1 433.59,328.76 433.8,327.93 434.23,329.03 434.43,324.79 434.85,328.53 435.05,325.7 435.45,329.11 435.84,327.03 436.23,327.9 436.42,324.93 436.61,328.11 436.8,328.83 437.36,328.09 437.54,329.45 437.72,328.8 437.9,327.36 438.43,329.21 438.6,325.2 438.78,329.16 439.12,326.87 439.29,328.89 439.62,324.91 440.11,327.57 440.28,329.93 440.75,327.3 440.91,328.51 441.38,328.02 441.53,329.54 441.83,329.76 442.13,328.24 442.58,329.16 442.72,328.4 443.01,328.21 443.15,327.36 443.72,328.6 443.85,326.81 444.26,329.19 444.53,326.99 444.8,327.04 445.06,326.44 445.32,329.17 445.45,326.83 445.71,324.65 445.96,329.02 446.21,328.59 446.59,329.81 447.07,329.03 447.31,327.87 447.55,326.96 447.78,329.61 448.01,329.51 448.24,327.15 448.58,326.18 448.92,328.78 449.25,326.28 449.46,329.55 449.89,329.35 450.11,326.67 450.21,329.42 450.31,327.58 450.73,328.14 451.03,329.55 451.34,329.65 451.63,328.71 451.93,329.82 452.22,327.38 452.69,329.18 452.79,327.33 453.07,327.47 453.16,329.91 453.71,328.17 453.88,329.37 454.24,329.12 454.41,327.26 454.68,328.13 455.02,329.75 455.1,329.84 455.44,326.94 455.94,330.01 456.02,327.28 456.34,326 456.58,329.42 457.13,327.88 457.21,329.78 457.52,330.09 457.74,328.46 457.82,329.67 458.27,327.89 458.71,329.62 458.78,328.15 458.99,327.28 459.21,329.51 459.42,327.51 459.77,329.99 460.11,328.21 460.18,329.98 460.65,325.1 460.98,329.86 461.05,329.16 461.11,328.99 461.57,328.41 462.01,330.12 462.14,329.7 462.2,327.27 462.75,328.11 463,330.12 463.24,327.88 463.53,329.64 463.77,328.77 464.17,329.88 464.28,329.7 464.4,327.43 465.12,329.67 465.18,328.39 465.34,329.84 465.72,327.95 466.14,328.32 466.19,329.92 466.4,329.93 466.71,328.68 466.92,328.64 467.32,330.04 467.52,328.95 467.81,329.99 467.96,328.83 468.06,329.9 468.49,329.07 468.68,329.9 469.37,328.86 469.42,329.98 469.46,329.91 469.91,328.79 470.18,329.89 470.27,328.99 470.66,329.99 470.92,329.05 471.47,329.21 471.51,330.04 471.8,328.53 472.04,330 472.25,329.16 472.37,330.11 472.76,329.32 472.88,330.17 473.12,330.18 473.31,329.28 473.95,329.31 474.03,330.15 474.18,329.17 474.25,330.1 475.02,330.14 475.12,329.16 475.44,330.05 475.48,328.9 475.96,330.09 476.06,329.21 476.57,329.51 476.7,330.14 476.97,329.35 477.2,330.21 477.52,330.17 477.58,329.25 478.03,329.32 478.09,330.08 478.37,330.17 478.43,329.51 479.04,329.3 479.07,330.11 479.57,329.55 479.69,330.22 479.84,329.72 479.95,330.22 480.58,329.49 480.61,330.18 481.05,330.24 481.3,329.58 481.46,329.67 481.68,330.18 482.26,330.2 482.31,329.38 482.67,329.66 482.75,330.21 482.95,329.67 483.03,330.21 483.77,329.64 483.85,330.23 484.02,330.21 484.28,329.92 484.59,330.24 484.8,329.92 485.08,329.94 485.36,330.25 485.54,330.27 485.56,329.85 486.08,330.01 486.21,330.24 486.69,330.03 486.8,330.27 487.01,330.25 487.39,330.07 487.66,330.01 487.84,330.27 488.05,330.08 488.17,330.28 488.75,330.27 488.89,330.13 489.16,330.29 489.43,330.15 489.58,330.1 489.86,330.28 490.29,330.27 490.55,330.12 490.96,330.27 491,330.15 491.25,330.12 491.35,330.27 491.84,330.13 491.88,330.27 492.18,330.14 492.42,330.28 492.69,330.27 492.79,330.02 493.12,330.09 493.21,330.28 493.63,330.14 493.68,330.27 494.11,330.28 494.15,330.15 494.78,330.17 494.81,330.29 495.14,330.09 495.54,330.28 495.75,330.17 496,330.29 496.51,330.13 496.56,330.28 496.93,330.08 496.94,330.27 497.41,330.15 497.59,330.29 497.66,330.28 497.77,330.13 498.31,330.13 498.57,330.29 498.68,330.28 498.85,330.14 499.4,330.28 499.64,330.13 499.83,330.12 500.11,330.28 500.23,330.28 500.45,330.1 501,330.1 501.03,330.28 501.25,330.15 501.35,330.28 501.91,330.29 502.18,330.12 502.31,330.29 502.53,330.13 502.96,330.28 503.24,330.13 503.52,330.12 503.53,330.28 503.91,330.29 504.27,330.07 504.65,330.29 504.75,330.17 504.8,330.29 505.18,330.11 505.63,330.14 505.67,330.29 505.79,330.1 506.03,330.29 506.34,330.14 506.45,330.29 506.94,330.14 507.21,330.29 507.4,330.16 507.65,330.28 507.84,330.28 508.18,330.16 508.69,330.28 508.75,330.12 509.14,330.14 509.26,330.29 509.34,330.28 509.72,330.13 509.89,330.28 510.29,330.15 510.33,330.15 510.51,330.29 510.93,330.16 511.28,330.29 511.47,330.29 511.7,330.13 511.94,330.15 512.12,330.29 512.36,330.29 512.78,330.11 513.05,330.29 513.1,330.16 513.61,330.29 513.84,330.16 513.93,330.3 513.95,330.07 514.45,330.16 514.67,330.29 514.96,330.15 515.22,330.29 515.59,330.29 515.79,330.14 516.26,330.28 516.27,330.16 516.68,330.16 516.78,330.29 517.06,330.29 517.17,330.16 517.4,330.28 517.79,330.13 518.06,330.12 518.34,330.29 518.44,330.12 518.58,330.28 519.09,330.28 519.19,330.16 519.61,330.14 519.87,330.29 520.11,330.14 520.15,330.29 520.67,330.14 520.78,330.29 521.24,330.16 521.29,330.29 521.8,330.16 521.88,330.29 522.06,330.18 522.14,330.29 522.66,330.3 522.73,330.16 522.93,330.29 523.21,330.17 523.61,330.11 523.88,330.3 524.12,330.15 524.2,330.29 524.73,330.29 524.75,330.14 525.2,330.29 525.3,330.18 525.71,330.19 525.86,330.29 526.16,330.14 526.39,330.29 526.6,330.29 526.77,330.16 526.99,330.29 527.1,330.16 527.46,330.29 527.73,330.15 527.92,330.17 528.14,330.3 528.55,330.18 528.6,330.3 529,330.16 529.28,330.29 529.57,330.29 529.68,330.18 530.31,330.11 530.32,330.3 530.46,330.21 530.53,330.28" fill="none" stroke="#D95319" stroke-width="1.6" stroke-linejoin="round" clip-path="url(#clipd)"/>
<polyline points="325.83,512.06 341.81,511.49 351.16,511.3 357.8,511.22 362.94,510.89 367.15,511.9 370.7,511.32 373.78,511.07 376.5,511.48 378.93,511.47 381.13,511.03 383.13,511.19 384.98,511.65 386.69,510.01 388.28,511.2 389.77,511.33 391.16,509.54 392.48,509.77 393.73,508.34 394.91,512.07 396.04,509.61 397.11,509.88 398.14,511.7 399.12,509.06 400.06,511.25 400.96,511.19 401.83,511.66 402.67,511.3 403.48,511.21 404.26,510.13 405.02,510.28 405.75,509.16 406.46,508.79 407.15,510.75 407.82,505.08 408.47,512.12 409.1,510.62 409.71,509.13 410.31,510.76 410.9,509.56 411.47,510.68 412.02,510.25 412.56,511.11 413.09,509.45 413.61,511.99 414.12,508.82 414.62,509.71 415.1,508.86 415.58,511.31 416.04,508.77 416.5,510.2 416.95,512.08 417.39,507.94 417.82,508.03 418.24,509.72 418.66,510.15 419.06,511.27 419.47,505.45 419.86,508.8 420.25,512.13 420.63,509.88 421,511.03 421.37,504.78 421.74,505.15 422.09,509.23 422.45,511.43 422.79,508.45 423.13,512.59 423.47,509.1 423.8,510.36 424.13,509.44 424.45,509.77 424.77,511.76 425.08,504.78 425.39,510.28 425.7,508.81 426,502.81 426.3,508.47 426.59,510.09 426.88,510.22 427.17,505.85 427.45,504.08 427.73,504.58 428.01,502.09 428.28,508.87 428.55,511.21 428.82,508.99 429.08,507.53 429.34,462.49 429.6,321.95 430.1,462.49 430.35,510.68 431.09,508.83 431.2,488.81 431.55,508.58 431.9,493.03 432.25,506.35 432.6,477.36 432.95,509.92 433.3,482.75 433.65,506.9 434,483.22 434.35,506.33 434.7,473.77 435.05,503.02 435.4,479.4 435.75,508.28 436.1,474.71 436.45,501.76 436.8,468.72 437.15,512.9 437.5,471.89 437.85,511.77 438.2,475.4 438.55,506.8 438.9,469.04 439.25,511.45 439.6,464.04 439.95,509.04 440.3,463.5 440.65,501.2 441,470.68 441.35,511.22 441.7,457.69 442.05,511.36 442.4,459.44 442.75,498.33 443.1,467.76 443.45,504.85 443.8,464.97 444.15,502.59 444.5,455.5 444.85,508.57 445.2,463.14 445.55,509.67 445.9,455.19 446.25,501.52 446.6,454.17 446.95,504.67 447.3,452.72 447.65,511.49 448,451.97 448.35,507.48 448.7,459.18 449.05,499.65 449.4,453.63 449.75,512.7 450.1,459.34 450.45,497.69 450.8,459.19 451.15,500.96 451.5,457.26 451.85,506.62 452.2,447.7 452.55,499.06 452.9,456.63 453.25,497.18 453.6,455.75 453.95,501.82 454.3,449.71 454.65,511.73 455,436.95 455.35,500.79 455.7,436.17 456.05,499.46 456.4,445.19 456.75,510.82 457.1,451.37 457.45,501.28 457.8,455.75 458.15,510.83 458.5,443.86 458.85,500.53 459.2,450.44 459.55,494.52 459.9,450.07 460.25,498.35 460.6,456.26 460.95,497.9 461.3,436.06 461.65,500.64 462,452.12 462.35,499.59 462.7,455.45 463.05,497.1 463.4,449.93 463.75,506.25 464.1,448.81 464.45,509.1 464.8,452.92 465.15,497.09 465.5,450.47 465.85,496.11 466.2,432.94 466.55,498.02 466.9,456.07 467.25,496.11 467.6,453.06 467.95,498.33 468.3,458.59 468.65,508.48 469,450.47 469.35,501.01 469.7,460.99 470.05,498.43 470.4,440.87 470.75,505.27 471.1,457.55 471.45,502.4 471.8,461.18 472.15,505.61 472.5,449.43 472.85,509.86 473.2,460.98 473.55,494.94 473.9,437.83 474.25,510.49 474.6,440.39 474.95,511.45 475.3,460.46 475.65,509.35 476,466.89 476.35,502.7 476.7,466.44 477.05,500.41 477.4,469.17 477.75,499.65 478.1,447.72 478.45,503.7 478.8,460.71 479.15,499.27 479.5,454.11 479.85,508.58 480.2,458.12 480.55,506.53 480.9,467.35 481.25,499.61 481.6,464.75 481.95,509.81 482.3,477.66 482.65,512.39 483,480.02 483.35,503.59 483.7,474.71 484.05,506.28 484.4,474.47 484.75,504.8 485.1,483.79 485.45,512.11 485.8,478.26 486.15,513.24 486.5,485.89 486.85,510.56 487.2,487.36 487.55,511.85 487.9,482.57 488.25,508.51 488.6,483.15 488.95,510.28 489.3,487.85 489.65,510.53 490,490.51 490.35,507.53 490.7,489.24 491.05,511.94 491.4,489.31 491.75,507.43 492.1,491.72 492.45,506.59 492.8,488.49 493.15,511.98 493.5,490.35 493.85,509.15 494.2,491.95 494.55,512.05 494.9,495.59 495.25,512.44 495.6,490.76 495.95,510.24 496.3,494.76 496.65,507.83 497,495.71 497.35,510.07 497.7,497.36 498.05,513.51 498.4,496.49 498.75,511.18 499.1,498.25 499.45,513.28 499.8,498.94 500.15,512.33 500.5,498.62 500.85,509.9 501.2,500.19 501.55,510.48 501.9,500.34 502.25,510.47 502.6,500.21 502.95,513.59 503.3,501.41 503.65,511.3 504,501.62 504.35,511.93 504.7,501.05 505.05,511.81 505.4,502.24 505.75,512.21 506.1,501.71 506.45,510.76 506.8,503.86 507.15,510.87 507.5,503.49 507.85,510.99 508.2,503.01 508.55,512.77 508.9,504.58 509.25,512.96 509.6,506.25 509.95,511.45 510.3,503.78 510.65,511.7 511,505.96 511.35,511.64 511.7,506.96 512.05,512 512.4,506.67 512.75,513.02 513.1,508.2 513.45,513.4 513.8,506.93 514.15,511.88 514.5,508.79 514.85,513.39 515.2,510.25 515.55,512.95 515.9,509.42 516.25,512.9 516.6,510.62 516.95,513.38 517.3,510.44 517.65,512.53 518,511.02 518.35,512.67 518.7,511.03 519.05,513.28 519.4,511.28 519.75,513.28 520.1,511.69 520.45,513.15 520.8,511.73 521.15,513.25 521.5,512.06 521.85,513.2 522.2,512.34 522.55,513.09 522.9,512.39 523.25,513.38 523.6,512.29 523.95,513.29 524.3,512.44 524.65,513.31 525,512.66 525.35,513.48 525.7,512.77 526.05,513.3 526.4,512.66 526.75,513.4 527.1,512.92 527.45,513.37 527.8,513.02 528.15,513.41 528.5,513.11 528.85,513.39 529.2,512.95 529.55,513.41 529.9,513.22 530.25,513.51 530.6,513.24 530.95,513.58" fill="none" stroke="#0072BD" stroke-width="1.2" stroke-linejoin="round" clip-path="url(#clipf)"/>
<polyline points="325.83,510.8 341.81,511.31 351.16,511.57 357.8,510.66 362.94,511.9 367.15,511.68 370.7,510.97 373.78,511.67 376.5,511.61 378.93,511.73 381.13,510.99 383.13,511.5 384.98,511.7 386.69,511.29 388.28,511.37 389.77,510.1 391.16,511.31 392.48,511.79 393.73,512.12 394.91,511.66 396.04,511.69 397.11,512.13 398.14,512.08 399.12,511.11 400.06,512.03 400.96,511.49 401.83,512.14 402.67,512.03 403.48,511.88 404.26,511.92 405.02,512.04 405.75,512.04 406.46,512.25 407.15,512.4 407.82,511.87 408.47,512.04 409.1,512.05 409.71,511.99 410.31,512.18 410.9,512.33 411.47,512.27 412.02,512.27 412.56,512.71 413.09,511.12 413.61,511.42 414.12,511.4 414.62,511.9 415.1,511.72 415.58,512.33 416.04,512.22 416.5,512.29 416.95,512.68 417.39,512.48 417.82,512.6 418.24,512.74 418.66,512.11 419.06,512.76 419.47,512.03 419.86,511.99 420.25,512.53 420.63,512.49 421,513.08 421.37,512.11 421.74,511.96 422.09,509.71 422.45,511.53 422.79,513.02 423.13,509.63 423.47,507.83 423.8,511.11 424.13,511.62 424.45,509.54 424.77,511.74 425.08,511.4 425.39,509.62 425.7,513.03 426,510.4 426.3,509.15 426.59,510.28 426.88,509.5 427.17,512.15 427.45,511.27 427.73,510.02 428.01,509.68 428.28,504.6 428.55,511.9 428.82,511.34 429.08,508.14 429.34,492.31 429.6,454.4 430.1,492.31 430.35,509.7 430.84,498.22 431.2,501.99 431.55,511.57 431.9,499.82 432.25,509.91 432.6,502.36 432.95,507.89 433.3,498.43 433.65,508.77 434,500.71 434.35,510.7 434.7,499.27 435.05,507.37 435.4,496.95 435.75,507.83 436.1,497.42 436.45,511.94 436.8,496.18 437.15,513.11 437.5,493.11 437.85,508.59 438.2,493.08 438.55,510.67 438.9,489.63 439.25,505.93 439.6,491.35 439.95,511.86 440.3,493.76 440.65,513.2 441,494.75 441.35,507.06 441.7,489.44 442.05,504.03 442.4,492.83 442.75,509.85 443.1,491.21 443.45,511.64 443.8,492.44 444.15,508.58 444.5,491.54 444.85,506.39 445.2,489.75 445.55,504.45 445.9,486.55 446.25,510.1 446.6,484.11 446.95,504.4 447.3,489 447.65,510.24 448,485.38 448.35,511.94 448.7,489.43 449.05,513.51 449.4,482.78 449.75,505.42 450.1,483.77 450.45,503.9 450.8,486.42 451.15,506.49 451.5,487.92 451.85,512.16 452.2,483.17 452.55,507.65 452.9,484 453.25,503.88 453.6,482.81 453.95,506.52 454.3,483.22 454.65,509.69 455,485.48 455.35,507.95 455.7,485.33 456.05,508.29 456.4,479.05 456.75,510.54 457.1,486.24 457.45,509.9 457.8,485.63 458.15,504.85 458.5,483.4 458.85,503.18 459.2,482.01 459.55,508.17 459.9,479.43 460.25,511.36 460.6,487.13 460.95,512.38 461.3,480.68 461.65,507.32 462,486.31 462.35,506.75 462.7,486.08 463.05,504.04 463.4,483.76 463.75,508.34 464.1,484.77 464.45,504.85 464.8,484.05 465.15,512.38 465.5,485.88 465.85,500.16 466.2,476.93 466.55,504.05 466.9,486.79 467.25,500.69 467.6,481.31 467.95,504.29 468.3,486.86 468.65,510.15 469,489.88 469.35,502.46 469.7,488.43 470.05,511.17 470.4,490.25 470.75,506.83 471.1,491.2 471.45,503.78 471.8,485.84 472.15,505.46 472.5,490.15 472.85,506.59 473.2,488.89 473.55,506.44 473.9,492.5 474.25,509.08 474.6,492.82 474.95,508.3 475.3,492.16 475.65,512.07 476,493.63 476.35,507.47 476.7,493.97 477.05,504.08 477.4,491.41 477.75,510.08 478.1,491.78 478.45,513.37 478.8,486.49 479.15,508.86 479.5,490.19 479.85,512.8 480.2,494.49 480.55,508.99 480.9,488.69 481.25,508.35 481.6,495.51 481.95,511.21 482.3,497.01 482.65,509.05 483,496.68 483.35,513.42 483.7,492.8 484.05,506.16 484.4,499.04 484.75,509.12 485.1,499.52 485.45,508.31 485.8,499.49 486.15,508.55 486.5,496.34 486.85,507.88 487.2,501.1 487.55,506.99 487.9,501.29 488.25,513.34 488.6,499.81 488.95,511.08 489.3,497.37 489.65,508.29 490,502.5 490.35,507.51 490.7,502.91 491.05,510.4 491.4,503.33 491.75,507.94 492.1,503.89 492.45,513.34 492.8,503.03 493.15,507.95 493.5,499.3 493.85,509.47 494.2,499.76 494.55,508.83 494.9,503.46 495.25,511.97 495.6,501.82 495.95,510.3 496.3,504.75 496.65,513.15 497,502.77 497.35,512.38 497.7,501.54 498.05,512.53 498.4,506.05 498.75,510.04 499.1,506.22 499.45,512.86 499.8,505.04 500.15,510.16 500.5,506.56 500.85,512.42 501.2,504.65 501.55,510.03 501.9,506.22 502.25,513.09 502.6,507.3 502.95,512.82 503.3,507.45 503.65,511.39 504,507.65 504.35,512.01 504.7,506.54 505.05,511.86 505.4,508.02 505.75,511.3 506.1,507.09 506.45,511.58 506.8,508.61 507.15,513.28 507.5,506.94 507.85,512.62 508.2,508.98 508.55,512.46 508.9,508.53 509.25,511.51 509.6,509.54 509.95,511.7 510.3,509.96 510.65,512.53 511,509.51 511.35,513.41 511.7,510.46 512.05,512.89 512.4,509.21 512.75,512.66 513.1,509.64 513.45,512.42 513.8,510.94 514.15,512.54 514.5,511.54 514.85,513.47 515.2,510.83 515.55,512.71 515.9,511.82 516.25,513.07 516.6,511.6 516.95,512.78 517.3,511.74 517.65,513.24 518,512.09 518.35,513.25 518.7,511.95 519.05,512.93 519.4,512.28 519.75,513.42 520.1,512.53 520.45,513.11 520.8,512.17 521.15,513.54 521.5,512.81 521.85,513.28 522.2,512.89 522.55,513.2 522.9,512.86 523.25,513.53 523.6,512.41 523.95,513.53 524.3,512.91 524.65,513.53 525,512.97 525.35,513.59 525.7,512.99 526.05,513.53 526.4,513.01 526.75,513.38 527.1,512.83 527.45,513.46 527.8,513.01 528.15,513.43 528.5,512.57 528.85,513.24 529.2,513.09 529.55,513.5 529.9,513.03 530.25,513.43 530.6,512.55 530.95,513.27" fill="none" stroke="#EE5518" stroke-width="1.2" stroke-linejoin="round" clip-path="url(#clipf)"/>
<rect x="184.8" y="23.2" width="58.8" height="25.1" fill="#fff" stroke="#a6a6a6" stroke-width="0.8"/>
<line x1="187.3" y1="29.9" x2="214.7" y2="29.9" stroke="#0072BD" stroke-width="1.5"/>
<text transform="translate(217.2,33.2) scale(1,1.06)" font-size="8.1" text-anchor="start" font-weight="normal" fill="#262626">FMG1</text>
<line x1="187.3" y1="41.4" x2="214.7" y2="41.4" stroke="#D95319" stroke-width="1.5"/>
<text transform="translate(217.2,44.7) scale(1,1.06)" font-size="8.1" text-anchor="start" font-weight="normal" fill="#262626">FMG2</text>
<rect x="465.2" y="23.2" width="58.8" height="25.1" fill="#fff" stroke="#a6a6a6" stroke-width="0.8"/>
<line x1="467.7" y1="29.9" x2="495.1" y2="29.9" stroke="#0072BD" stroke-width="1.5"/>
<text transform="translate(497.6,33.2) scale(1,1.06)" font-size="8.1" text-anchor="start" font-weight="normal" fill="#262626">FMG1</text>
<line x1="467.7" y1="41.4" x2="495.1" y2="41.4" stroke="#D95319" stroke-width="1.5"/>
<text transform="translate(497.6,44.7) scale(1,1.06)" font-size="8.1" text-anchor="start" font-weight="normal" fill="#262626">FMG2</text>
<rect x="183" y="206.7" width="60.6" height="25.1" fill="#fff" stroke="#a6a6a6" stroke-width="0.8"/>
<line x1="185.5" y1="213.4" x2="212.9" y2="213.4" stroke="#0072BD" stroke-width="1.5"/>
<text transform="translate(215.4,216.7) scale(1,1.06)" font-size="8.1" text-anchor="start" font-weight="normal" fill="#262626">MMG1</text>
<line x1="185.5" y1="224.9" x2="212.9" y2="224.9" stroke="#D95319" stroke-width="1.5"/>
<text transform="translate(215.4,228.2) scale(1,1.06)" font-size="8.1" text-anchor="start" font-weight="normal" fill="#262626">MMG2</text>
<rect x="184.34" y="389.4" width="59.26" height="25.1" fill="#fff" stroke="#a6a6a6" stroke-width="0.8"/>
<line x1="186.84" y1="396.1" x2="214.24" y2="396.1" stroke="#D95319" stroke-width="1.5"/>
<text transform="translate(216.74,399.4) scale(1,1.06)" font-size="8.1" text-anchor="start" font-weight="normal" fill="#262626">EMG2</text>
<line x1="186.84" y1="407.6" x2="214.24" y2="407.6" stroke="#0072BD" stroke-width="1.5"/>
<text transform="translate(216.74,410.9) scale(1,1.06)" font-size="8.1" text-anchor="start" font-weight="normal" fill="#262626">EMG1</text>
<rect x="463.4" y="206.7" width="60.6" height="25.1" fill="#fff" stroke="#a6a6a6" stroke-width="0.8"/>
<line x1="465.9" y1="213.4" x2="493.3" y2="213.4" stroke="#0072BD" stroke-width="1.5"/>
<text transform="translate(495.8,216.7) scale(1,1.06)" font-size="8.1" text-anchor="start" font-weight="normal" fill="#262626">MMG1</text>
<line x1="465.9" y1="224.9" x2="493.3" y2="224.9" stroke="#D95319" stroke-width="1.5"/>
<text transform="translate(495.8,228.2) scale(1,1.06)" font-size="8.1" text-anchor="start" font-weight="normal" fill="#262626">MMG2</text>
<rect x="464.74" y="389.4" width="59.26" height="25.1" fill="#fff" stroke="#a6a6a6" stroke-width="0.8"/>
<line x1="467.24" y1="396.1" x2="494.64" y2="396.1" stroke="#0072BD" stroke-width="1.5"/>
<text transform="translate(497.14,399.4) scale(1,1.06)" font-size="8.1" text-anchor="start" font-weight="normal" fill="#262626">EMG1</text>
<line x1="467.24" y1="407.6" x2="494.64" y2="407.6" stroke="#D95319" stroke-width="1.5"/>
<text transform="translate(497.14,410.9) scale(1,1.06)" font-size="8.1" text-anchor="start" font-weight="normal" fill="#262626">EMG2</text>
</svg></body></html>
